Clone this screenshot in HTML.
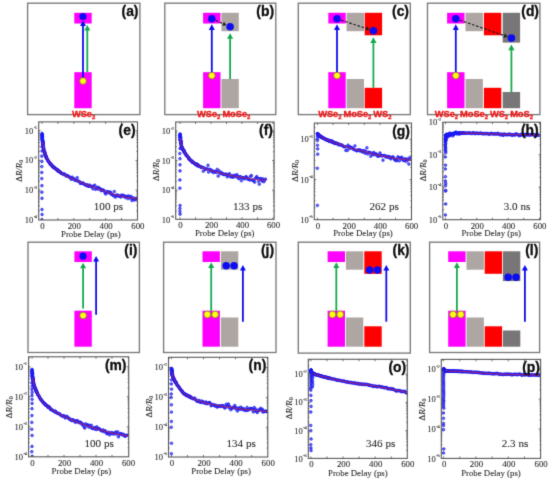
<!DOCTYPE html>
<html><head><meta charset="utf-8"><title>Transient reflection figure</title>
<style>html,body{margin:0;padding:0;background:#fff;}body{width:550px;height:481px;overflow:hidden;}svg{display:block;}</style>
</head><body>
<svg width="550" height="481" viewBox="0 0 550 481">
<defs><filter id="soft" x="0" y="0" width="550" height="481" filterUnits="userSpaceOnUse" color-interpolation-filters="sRGB"><feConvolveMatrix order="3" kernelMatrix="0.01440 0.09120 0.01440 0.09120 0.57760 0.09120 0.01440 0.09120 0.01440" edgeMode="duplicate"/></filter></defs>
<g filter="url(#soft)">
<rect width="550" height="481" fill="#fff"/>
<rect x="27.60" y="3.20" width="112.30" height="111.40" fill="#fff" stroke="#7a7a7a" stroke-width="1.35"/>
<rect x="74.30" y="12.80" width="17.4" height="10.70" fill="#ff00ff"/>
<rect x="74.30" y="72.20" width="17.4" height="36.00" fill="#ff00ff"/>
<line x1="83.00" y1="80.00" x2="83.00" y2="25.40" stroke="#0c0cf2" stroke-width="1.8"/>
<polygon points="80.00,26.00 86.00,26.00 83.00,20.40" fill="#0c0cf2"/>
<line x1="87.30" y1="72.20" x2="87.30" y2="30.00" stroke="#14aa4c" stroke-width="1.8"/>
<polygon points="84.30,30.60 90.30,30.60 87.30,25.00" fill="#14aa4c"/>
<circle cx="83.00" cy="16.50" r="3.6" fill="#0c0cf2"/>
<circle cx="83.00" cy="81.00" r="3.35" fill="#ffff10" stroke="#7a7a2a" stroke-width="0.75"/>
<text x="138.50" y="16.00" text-anchor="end" font-family="'Liberation Sans', Arial, sans-serif" font-weight="bold" font-size="13.9px" fill="#0c0c0c" stroke="#0c0c0c" stroke-width="0.3">(a)</text>
<text class="lab" x="83.50" y="117.10" text-anchor="middle" font-family="'Liberation Sans', Arial, sans-serif" font-weight="bold" font-size="9.4px" fill="#f01414" stroke="#f01414" stroke-width="0.3" letter-spacing="-0.1" word-spacing="-0.4">WSe<tspan dy="1.7" font-size="5.9px">2</tspan></text>
<rect x="164.80" y="3.20" width="111.00" height="111.40" fill="#fff" stroke="#7a7a7a" stroke-width="1.35"/>
<rect x="203.10" y="12.80" width="17.4" height="10.70" fill="#ff00ff"/>
<rect x="203.10" y="72.20" width="17.4" height="36.00" fill="#ff00ff"/>
<rect x="221.40" y="12.80" width="17.4" height="18.40" fill="#aea6a3"/>
<rect x="221.40" y="79.00" width="17.4" height="29.20" fill="#aea6a3"/>
<line x1="211.80" y1="74.00" x2="211.80" y2="29.30" stroke="#0c0cf2" stroke-width="1.8"/>
<polygon points="208.80,29.90 214.80,29.90 211.80,24.30" fill="#0c0cf2"/>
<line x1="230.10" y1="79.00" x2="230.10" y2="38.20" stroke="#14aa4c" stroke-width="1.8"/>
<polygon points="227.00,38.80 233.20,38.80 230.10,33.20" fill="#14aa4c"/>
<circle cx="211.80" cy="18.80" r="3.8" fill="#0c0cf2"/>
<line x1="215.75" y1="20.50" x2="223.03" y2="23.65" stroke="#1e1e1e" stroke-width="1.15" stroke-dasharray="2.6,1.7"/>
<polygon points="222.16,25.67 223.90,21.63 226.52,25.15" fill="#1e1e1e"/>
<circle cx="230.10" cy="26.70" r="3.8" fill="#0c0cf2"/>
<circle cx="211.80" cy="75.60" r="3.35" fill="#ffff10" stroke="#7a7a2a" stroke-width="0.75"/>
<text x="274.10" y="16.00" text-anchor="end" font-family="'Liberation Sans', Arial, sans-serif" font-weight="bold" font-size="13.9px" fill="#0c0c0c" stroke="#0c0c0c" stroke-width="0.3">(b)</text>
<text class="lab" x="223.65" y="117.10" text-anchor="middle" font-family="'Liberation Sans', Arial, sans-serif" font-weight="bold" font-size="9.4px" fill="#f01414" stroke="#f01414" stroke-width="0.3" letter-spacing="-0.1" word-spacing="-0.4">WSe<tspan dy="1.7" font-size="5.9px">2</tspan><tspan dy="-1.7"> MoSe</tspan><tspan dy="1.7" font-size="5.9px">2</tspan></text>
<rect x="298.30" y="3.20" width="112.00" height="111.40" fill="#fff" stroke="#7a7a7a" stroke-width="1.35"/>
<rect x="328.30" y="12.80" width="17.4" height="10.70" fill="#ff00ff"/>
<rect x="328.30" y="72.20" width="17.4" height="36.00" fill="#ff00ff"/>
<rect x="346.60" y="12.80" width="17.4" height="18.40" fill="#aea6a3"/>
<rect x="346.60" y="79.00" width="17.4" height="29.20" fill="#aea6a3"/>
<rect x="364.70" y="12.80" width="17.4" height="22.50" fill="#ff0000"/>
<rect x="364.70" y="87.80" width="17.4" height="20.40" fill="#ff0000"/>
<line x1="337.00" y1="74.00" x2="337.00" y2="29.30" stroke="#0c0cf2" stroke-width="1.8"/>
<polygon points="334.00,29.90 340.00,29.90 337.00,24.30" fill="#0c0cf2"/>
<line x1="373.40" y1="87.80" x2="373.40" y2="42.30" stroke="#14aa4c" stroke-width="1.8"/>
<polygon points="370.30,42.90 376.50,42.90 373.40,37.30" fill="#14aa4c"/>
<circle cx="337.00" cy="18.80" r="3.8" fill="#0c0cf2"/>
<line x1="341.08" y1="20.15" x2="366.09" y2="28.39" stroke="#1e1e1e" stroke-width="1.15" stroke-dasharray="2.6,1.7"/>
<polygon points="365.40,30.48 366.78,26.30 369.70,29.58" fill="#1e1e1e"/>
<circle cx="373.40" cy="30.80" r="3.8" fill="#0c0cf2"/>
<circle cx="337.00" cy="75.60" r="3.35" fill="#ffff10" stroke="#7a7a2a" stroke-width="0.75"/>
<text x="409.00" y="16.00" text-anchor="end" font-family="'Liberation Sans', Arial, sans-serif" font-weight="bold" font-size="13.9px" fill="#0c0c0c" stroke="#0c0c0c" stroke-width="0.3">(c)</text>
<text class="lab" x="354.80" y="117.10" text-anchor="middle" font-family="'Liberation Sans', Arial, sans-serif" font-weight="bold" font-size="9.4px" fill="#f01414" stroke="#f01414" stroke-width="0.3" letter-spacing="-0.1" word-spacing="-0.4">WSe<tspan dy="1.7" font-size="5.9px">2</tspan><tspan dy="-1.7"> MoSe</tspan><tspan dy="1.7" font-size="5.9px">2</tspan><tspan dy="-1.7"> WS</tspan><tspan dy="1.7" font-size="5.9px">2</tspan></text>
<rect x="427.50" y="3.20" width="112.40" height="111.40" fill="#fff" stroke="#7a7a7a" stroke-width="1.35"/>
<rect x="447.10" y="12.80" width="17.4" height="10.70" fill="#ff00ff"/>
<rect x="447.10" y="72.20" width="17.4" height="36.00" fill="#ff00ff"/>
<rect x="465.50" y="12.80" width="17.4" height="18.40" fill="#aea6a3"/>
<rect x="465.50" y="79.00" width="17.4" height="29.20" fill="#aea6a3"/>
<rect x="483.90" y="12.80" width="17.4" height="22.50" fill="#ff0000"/>
<rect x="483.90" y="87.80" width="17.4" height="20.40" fill="#ff0000"/>
<rect x="502.70" y="12.80" width="17.4" height="29.80" fill="#787676"/>
<rect x="502.70" y="92.00" width="17.4" height="16.20" fill="#787676"/>
<line x1="455.80" y1="74.00" x2="455.80" y2="29.30" stroke="#0c0cf2" stroke-width="1.8"/>
<polygon points="452.80,29.90 458.80,29.90 455.80,24.30" fill="#0c0cf2"/>
<line x1="511.40" y1="92.00" x2="511.40" y2="49.60" stroke="#14aa4c" stroke-width="1.8"/>
<polygon points="508.30,50.20 514.50,50.20 511.40,44.60" fill="#14aa4c"/>
<circle cx="455.80" cy="18.80" r="3.8" fill="#0c0cf2"/>
<line x1="459.86" y1="20.21" x2="504.13" y2="35.57" stroke="#1e1e1e" stroke-width="1.15" stroke-dasharray="2.6,1.7"/>
<polygon points="503.40,37.65 504.85,33.50 507.72,36.82" fill="#1e1e1e"/>
<circle cx="511.40" cy="38.10" r="3.8" fill="#0c0cf2"/>
<circle cx="455.80" cy="75.60" r="3.35" fill="#ffff10" stroke="#7a7a2a" stroke-width="0.75"/>
<text x="539.00" y="16.00" text-anchor="end" font-family="'Liberation Sans', Arial, sans-serif" font-weight="bold" font-size="13.9px" fill="#0c0c0c" stroke="#0c0c0c" stroke-width="0.3">(d)</text>
<text class="lab" x="483.80" y="117.10" text-anchor="middle" font-family="'Liberation Sans', Arial, sans-serif" font-weight="bold" font-size="9.4px" fill="#f01414" stroke="#f01414" stroke-width="0.3" letter-spacing="-0.1" word-spacing="-0.4">WSe<tspan dy="1.7" font-size="5.9px">2</tspan><tspan dy="-1.7"> MoSe</tspan><tspan dy="1.7" font-size="5.9px">2</tspan><tspan dy="-1.7"> WS</tspan><tspan dy="1.7" font-size="5.9px">2</tspan><tspan dy="-1.7"> MoS</tspan><tspan dy="1.7" font-size="5.9px">2</tspan></text>
<rect x="28.00" y="242.20" width="111.40" height="110.30" fill="#fff" stroke="#7a7a7a" stroke-width="1.35"/>
<rect x="74.40" y="251.30" width="17.4" height="10.70" fill="#ff00ff"/>
<rect x="74.40" y="310.70" width="17.4" height="36.00" fill="#ff00ff"/>
<line x1="83.10" y1="308.50" x2="83.10" y2="267.70" stroke="#14aa4c" stroke-width="1.8"/>
<polygon points="80.10,268.30 86.10,268.30 83.10,262.70" fill="#14aa4c"/>
<line x1="96.10" y1="314.70" x2="96.10" y2="261.00" stroke="#0c0cf2" stroke-width="1.8"/>
<polygon points="93.10,261.60 99.10,261.60 96.10,256.00" fill="#0c0cf2"/>
<circle cx="83.10" cy="256.20" r="3.6" fill="#0c0cf2"/>
<circle cx="83.10" cy="315.50" r="3.35" fill="#ffff10" stroke="#7a7a2a" stroke-width="0.75"/>
<text x="137.40" y="255.00" text-anchor="end" font-family="'Liberation Sans', Arial, sans-serif" font-weight="bold" font-size="13.9px" fill="#0c0c0c" stroke="#0c0c0c" stroke-width="0.3">(i)</text>
<rect x="163.60" y="242.20" width="112.40" height="110.30" fill="#fff" stroke="#7a7a7a" stroke-width="1.35"/>
<rect x="202.50" y="251.30" width="17.4" height="10.70" fill="#ff00ff"/>
<rect x="202.50" y="310.70" width="17.4" height="36.00" fill="#ff00ff"/>
<rect x="220.90" y="251.30" width="17.4" height="18.40" fill="#aea6a3"/>
<rect x="220.90" y="317.50" width="17.4" height="29.20" fill="#aea6a3"/>
<line x1="211.20" y1="310.90" x2="211.20" y2="267.30" stroke="#14aa4c" stroke-width="1.8"/>
<polygon points="208.20,267.90 214.20,267.90 211.20,262.30" fill="#14aa4c"/>
<line x1="242.90" y1="321.70" x2="242.90" y2="269.90" stroke="#0c0cf2" stroke-width="1.8"/>
<polygon points="239.90,270.50 245.90,270.50 242.90,264.90" fill="#0c0cf2"/>
<circle cx="226.15" cy="265.80" r="3.75" fill="#0c0cf2"/>
<circle cx="234.05" cy="265.80" r="3.75" fill="#0c0cf2"/>
<circle cx="207.30" cy="314.50" r="3.40" fill="#ffff10" stroke="#7a7a2a" stroke-width="0.75"/>
<circle cx="215.10" cy="314.50" r="3.40" fill="#ffff10" stroke="#7a7a2a" stroke-width="0.75"/>
<text x="274.10" y="255.00" text-anchor="end" font-family="'Liberation Sans', Arial, sans-serif" font-weight="bold" font-size="13.9px" fill="#0c0c0c" stroke="#0c0c0c" stroke-width="0.3">(j)</text>
<rect x="298.30" y="242.20" width="112.00" height="110.90" fill="#fff" stroke="#7a7a7a" stroke-width="1.35"/>
<rect x="327.60" y="251.30" width="17.4" height="10.70" fill="#ff00ff"/>
<rect x="327.60" y="310.70" width="17.4" height="36.00" fill="#ff00ff"/>
<rect x="345.90" y="251.30" width="17.4" height="18.40" fill="#aea6a3"/>
<rect x="345.90" y="317.50" width="17.4" height="29.20" fill="#aea6a3"/>
<rect x="364.30" y="251.30" width="17.4" height="22.50" fill="#ff0000"/>
<rect x="364.30" y="326.30" width="17.4" height="20.40" fill="#ff0000"/>
<line x1="336.30" y1="310.90" x2="336.30" y2="267.30" stroke="#14aa4c" stroke-width="1.8"/>
<polygon points="333.30,267.90 339.30,267.90 336.30,262.30" fill="#14aa4c"/>
<line x1="386.30" y1="321.70" x2="386.30" y2="269.90" stroke="#0c0cf2" stroke-width="1.8"/>
<polygon points="383.30,270.50 389.30,270.50 386.30,264.90" fill="#0c0cf2"/>
<circle cx="369.55" cy="269.90" r="3.75" fill="#0c0cf2"/>
<circle cx="377.45" cy="269.90" r="3.75" fill="#0c0cf2"/>
<circle cx="332.40" cy="314.50" r="3.40" fill="#ffff10" stroke="#7a7a2a" stroke-width="0.75"/>
<circle cx="340.20" cy="314.50" r="3.40" fill="#ffff10" stroke="#7a7a2a" stroke-width="0.75"/>
<text x="409.50" y="255.00" text-anchor="end" font-family="'Liberation Sans', Arial, sans-serif" font-weight="bold" font-size="13.9px" fill="#0c0c0c" stroke="#0c0c0c" stroke-width="0.3">(k)</text>
<rect x="429.60" y="242.20" width="110.00" height="110.30" fill="#fff" stroke="#7a7a7a" stroke-width="1.35"/>
<rect x="448.20" y="251.30" width="17.4" height="10.70" fill="#ff00ff"/>
<rect x="448.20" y="310.70" width="17.4" height="36.00" fill="#ff00ff"/>
<rect x="466.50" y="251.30" width="17.4" height="18.40" fill="#aea6a3"/>
<rect x="466.50" y="317.50" width="17.4" height="29.20" fill="#aea6a3"/>
<rect x="484.70" y="251.30" width="17.4" height="22.50" fill="#ff0000"/>
<rect x="484.70" y="326.30" width="17.4" height="20.40" fill="#ff0000"/>
<rect x="502.90" y="251.30" width="17.4" height="29.80" fill="#787676"/>
<rect x="502.90" y="330.50" width="17.4" height="16.20" fill="#787676"/>
<line x1="456.90" y1="310.90" x2="456.90" y2="267.30" stroke="#14aa4c" stroke-width="1.8"/>
<polygon points="453.90,267.90 459.90,267.90 456.90,262.30" fill="#14aa4c"/>
<line x1="524.90" y1="321.70" x2="524.90" y2="269.90" stroke="#0c0cf2" stroke-width="1.8"/>
<polygon points="521.90,270.50 527.90,270.50 524.90,264.90" fill="#0c0cf2"/>
<circle cx="508.15" cy="277.20" r="3.75" fill="#0c0cf2"/>
<circle cx="516.05" cy="277.20" r="3.75" fill="#0c0cf2"/>
<circle cx="453.00" cy="314.50" r="3.40" fill="#ffff10" stroke="#7a7a2a" stroke-width="0.75"/>
<circle cx="460.80" cy="314.50" r="3.40" fill="#ffff10" stroke="#7a7a2a" stroke-width="0.75"/>
<text x="538.30" y="255.00" text-anchor="end" font-family="'Liberation Sans', Arial, sans-serif" font-weight="bold" font-size="13.9px" fill="#0c0c0c" stroke="#0c0c0c" stroke-width="0.3">(l)</text>
<rect x="38.70" y="121.90" width="98.80" height="98.10" fill="#fff"/>
<clipPath id="clipe"><rect x="39.10" y="121.90" width="98.40" height="97.80"/></clipPath>
<g clip-path="url(#clipe)" fill="#6a6ae6"><circle cx="42.0" cy="146.8" r="1.15"/><circle cx="42.1" cy="151.0" r="1.15"/><circle cx="41.8" cy="156.2" r="1.15"/><circle cx="41.9" cy="161.4" r="1.15"/><circle cx="41.8" cy="166.6" r="1.15"/><circle cx="41.8" cy="172.5" r="1.15"/><circle cx="41.8" cy="178.6" r="1.15"/><circle cx="41.9" cy="185.7" r="1.15"/><circle cx="41.9" cy="192.2" r="1.15"/><circle cx="42.0" cy="198.3" r="1.15"/><circle cx="42.0" cy="209.5" r="1.15"/><circle cx="42.1" cy="214.5" r="1.15"/><circle cx="41.9" cy="219.7" r="1.15"/><circle cx="42.1" cy="133.4" r="1.15"/><circle cx="41.9" cy="134.2" r="1.15"/><circle cx="42.3" cy="134.5" r="1.15"/><circle cx="42.1" cy="134.8" r="1.15"/><circle cx="42.3" cy="135.4" r="1.15"/><circle cx="42.0" cy="135.8" r="1.15"/><circle cx="42.2" cy="136.2" r="1.15"/><circle cx="42.3" cy="136.5" r="1.15"/><circle cx="42.4" cy="137.1" r="1.15"/><circle cx="42.1" cy="137.2" r="1.15"/><circle cx="42.4" cy="137.6" r="1.15"/><circle cx="42.2" cy="138.2" r="1.15"/><circle cx="42.3" cy="138.5" r="1.15"/><circle cx="42.3" cy="138.8" r="1.15"/><circle cx="42.3" cy="139.0" r="1.15"/><circle cx="42.4" cy="139.6" r="1.15"/><circle cx="42.3" cy="139.8" r="1.15"/><circle cx="42.5" cy="140.1" r="1.15"/><circle cx="42.5" cy="140.4" r="1.15"/><circle cx="42.6" cy="140.8" r="1.15"/><circle cx="42.6" cy="141.0" r="1.15"/><circle cx="42.6" cy="141.3" r="1.15"/><circle cx="42.6" cy="141.7" r="1.15"/><circle cx="42.8" cy="141.8" r="1.15"/><circle cx="42.5" cy="142.0" r="1.15"/><circle cx="42.8" cy="142.4" r="1.15"/><circle cx="42.8" cy="142.6" r="1.15"/><circle cx="42.9" cy="142.6" r="1.15"/><circle cx="42.7" cy="143.1" r="1.15"/><circle cx="42.7" cy="143.2" r="1.15"/><circle cx="43.0" cy="143.3" r="1.15"/><circle cx="42.9" cy="143.6" r="1.15"/><circle cx="43.0" cy="143.6" r="1.15"/><circle cx="42.8" cy="143.9" r="1.15"/><circle cx="42.8" cy="143.8" r="1.15"/><circle cx="43.1" cy="144.4" r="1.15"/><circle cx="42.9" cy="144.2" r="1.15"/><circle cx="43.1" cy="144.7" r="1.15"/><circle cx="43.0" cy="144.9" r="1.15"/><circle cx="42.9" cy="145.8" r="1.15"/><circle cx="43.5" cy="146.8" r="1.15"/><circle cx="43.3" cy="147.6" r="1.15"/><circle cx="43.6" cy="148.3" r="1.15"/><circle cx="43.8" cy="149.1" r="1.15"/><circle cx="43.7" cy="149.7" r="1.15"/><circle cx="43.8" cy="150.4" r="1.15"/><circle cx="44.1" cy="150.9" r="1.15"/><circle cx="44.3" cy="151.3" r="1.15"/><circle cx="44.6" cy="152.0" r="1.15"/><circle cx="44.6" cy="152.1" r="1.15"/><circle cx="44.6" cy="152.9" r="1.15"/><circle cx="45.0" cy="153.2" r="1.15"/><circle cx="44.8" cy="153.8" r="1.15"/><circle cx="44.9" cy="154.4" r="1.15"/><circle cx="45.3" cy="154.5" r="1.15"/><circle cx="45.4" cy="154.9" r="1.15"/><circle cx="45.4" cy="155.4" r="1.15"/><circle cx="45.6" cy="155.8" r="1.15"/><circle cx="45.9" cy="156.0" r="1.15"/><circle cx="46.2" cy="156.6" r="1.15"/><circle cx="46.1" cy="156.7" r="1.15"/><circle cx="46.3" cy="157.2" r="1.15"/><circle cx="46.2" cy="157.4" r="1.15"/><circle cx="46.4" cy="157.8" r="1.15"/><circle cx="46.7" cy="158.5" r="1.15"/><circle cx="46.8" cy="158.3" r="1.15"/><circle cx="47.1" cy="159.0" r="1.15"/><circle cx="47.6" cy="159.7" r="1.15"/><circle cx="47.8" cy="160.4" r="1.15"/><circle cx="48.1" cy="161.1" r="1.15"/><circle cx="48.5" cy="161.7" r="1.15"/><circle cx="49.0" cy="161.6" r="1.15"/><circle cx="49.4" cy="162.4" r="1.15"/><circle cx="49.5" cy="162.9" r="1.15"/><circle cx="50.2" cy="163.4" r="1.15"/><circle cx="50.2" cy="164.3" r="1.15"/><circle cx="50.8" cy="164.2" r="1.15"/><circle cx="51.2" cy="164.6" r="1.15"/><circle cx="51.6" cy="165.2" r="1.15"/><circle cx="51.9" cy="165.0" r="1.15"/><circle cx="52.1" cy="166.0" r="1.15"/><circle cx="52.4" cy="166.1" r="1.15"/><circle cx="52.8" cy="167.1" r="1.15"/><circle cx="53.3" cy="166.7" r="1.15"/><circle cx="53.7" cy="167.1" r="1.15"/><circle cx="53.7" cy="167.6" r="1.15"/><circle cx="54.4" cy="167.6" r="1.15"/><circle cx="54.7" cy="168.0" r="1.15"/><circle cx="55.0" cy="168.1" r="1.15"/><circle cx="55.2" cy="168.5" r="1.15"/><circle cx="55.7" cy="168.9" r="1.15"/><circle cx="56.1" cy="169.3" r="1.15"/><circle cx="56.3" cy="169.3" r="1.15"/><circle cx="56.7" cy="169.9" r="1.15"/><circle cx="57.0" cy="169.8" r="1.15"/><circle cx="57.1" cy="169.5" r="1.15"/><circle cx="57.8" cy="169.8" r="1.15"/><circle cx="58.0" cy="171.2" r="1.15"/><circle cx="58.3" cy="170.9" r="1.15"/><circle cx="58.8" cy="171.4" r="1.15"/><circle cx="59.0" cy="171.1" r="1.15"/><circle cx="59.5" cy="171.6" r="1.15"/><circle cx="60.0" cy="171.7" r="1.15"/><circle cx="60.2" cy="172.1" r="1.15"/><circle cx="60.5" cy="172.3" r="1.15"/><circle cx="60.7" cy="172.9" r="1.15"/><circle cx="61.3" cy="173.3" r="1.15"/><circle cx="62.1" cy="173.4" r="1.15"/><circle cx="62.7" cy="174.0" r="1.15"/><circle cx="63.6" cy="174.4" r="1.15"/><circle cx="64.3" cy="173.8" r="1.15"/><circle cx="65.1" cy="174.8" r="1.15"/><circle cx="66.1" cy="176.1" r="1.15"/><circle cx="66.6" cy="175.4" r="1.15"/><circle cx="67.7" cy="175.7" r="1.15"/><circle cx="68.4" cy="176.5" r="1.15"/><circle cx="69.1" cy="176.9" r="1.15"/><circle cx="69.9" cy="177.3" r="1.15"/><circle cx="70.7" cy="178.2" r="1.15"/><circle cx="71.4" cy="179.4" r="1.15"/><circle cx="72.2" cy="177.2" r="1.15"/><circle cx="72.9" cy="178.8" r="1.15"/><circle cx="74.1" cy="178.9" r="1.15"/><circle cx="74.8" cy="180.2" r="1.15"/><circle cx="75.5" cy="180.1" r="1.15"/><circle cx="76.3" cy="180.6" r="1.15"/><circle cx="77.2" cy="177.7" r="1.15"/><circle cx="77.9" cy="181.0" r="1.15"/><circle cx="78.7" cy="181.3" r="1.15"/><circle cx="79.5" cy="181.7" r="1.15"/><circle cx="80.4" cy="183.5" r="1.15"/><circle cx="81.1" cy="182.9" r="1.15"/><circle cx="81.9" cy="183.3" r="1.15"/><circle cx="82.8" cy="182.9" r="1.15"/><circle cx="83.5" cy="183.7" r="1.15"/><circle cx="84.3" cy="184.0" r="1.15"/><circle cx="84.9" cy="184.7" r="1.15"/><circle cx="85.8" cy="185.1" r="1.15"/><circle cx="86.8" cy="184.6" r="1.15"/><circle cx="87.3" cy="186.1" r="1.15"/><circle cx="88.3" cy="185.4" r="1.15"/><circle cx="89.0" cy="186.4" r="1.15"/><circle cx="89.6" cy="185.1" r="1.15"/><circle cx="90.7" cy="186.3" r="1.15"/><circle cx="91.5" cy="186.5" r="1.15"/><circle cx="92.1" cy="186.6" r="1.15"/><circle cx="92.9" cy="188.8" r="1.15"/><circle cx="93.7" cy="186.1" r="1.15"/><circle cx="94.7" cy="185.2" r="1.15"/><circle cx="95.4" cy="189.3" r="1.15"/><circle cx="96.3" cy="188.2" r="1.15"/><circle cx="97.0" cy="187.3" r="1.15"/><circle cx="97.7" cy="189.1" r="1.15"/><circle cx="98.5" cy="187.5" r="1.15"/><circle cx="99.5" cy="188.9" r="1.15"/><circle cx="100.2" cy="188.7" r="1.15"/><circle cx="101.1" cy="190.7" r="1.15"/><circle cx="101.6" cy="189.7" r="1.15"/><circle cx="102.3" cy="190.3" r="1.15"/><circle cx="103.3" cy="190.0" r="1.15"/><circle cx="104.1" cy="190.7" r="1.15"/><circle cx="105.0" cy="192.9" r="1.15"/><circle cx="105.8" cy="194.0" r="1.15"/><circle cx="106.5" cy="191.6" r="1.15"/><circle cx="107.4" cy="191.8" r="1.15"/><circle cx="108.2" cy="191.8" r="1.15"/><circle cx="109.0" cy="192.9" r="1.15"/><circle cx="109.8" cy="192.2" r="1.15"/><circle cx="110.5" cy="192.2" r="1.15"/><circle cx="111.3" cy="194.4" r="1.15"/><circle cx="112.0" cy="194.1" r="1.15"/><circle cx="113.0" cy="195.0" r="1.15"/><circle cx="113.8" cy="195.9" r="1.15"/><circle cx="114.3" cy="191.5" r="1.15"/><circle cx="115.4" cy="197.2" r="1.15"/><circle cx="116.0" cy="195.2" r="1.15"/><circle cx="116.8" cy="195.7" r="1.15"/><circle cx="117.5" cy="194.9" r="1.15"/><circle cx="118.3" cy="195.9" r="1.15"/><circle cx="119.0" cy="196.1" r="1.15"/><circle cx="120.1" cy="196.1" r="1.15"/><circle cx="120.8" cy="197.1" r="1.15"/><circle cx="121.4" cy="195.1" r="1.15"/><circle cx="122.3" cy="195.9" r="1.15"/><circle cx="123.2" cy="195.2" r="1.15"/><circle cx="123.9" cy="196.5" r="1.15"/><circle cx="124.9" cy="196.2" r="1.15"/><circle cx="125.6" cy="197.6" r="1.15"/><circle cx="126.4" cy="196.7" r="1.15"/><circle cx="127.0" cy="196.4" r="1.15"/><circle cx="127.9" cy="198.6" r="1.15"/><circle cx="128.6" cy="195.9" r="1.15"/><circle cx="129.7" cy="197.2" r="1.15"/><circle cx="130.2" cy="198.1" r="1.15"/><circle cx="131.1" cy="196.5" r="1.15"/><circle cx="131.9" cy="200.5" r="1.15"/><circle cx="132.6" cy="198.6" r="1.15"/><circle cx="133.5" cy="197.9" r="1.15"/><circle cx="134.1" cy="199.9" r="1.15"/><circle cx="135.2" cy="199.6" r="1.15"/><circle cx="136.0" cy="198.4" r="1.15"/><circle cx="136.7" cy="199.2" r="1.15"/></g><g clip-path="url(#clipe)" fill="none" stroke="#1a1af8" stroke-width="0.8"><circle cx="42.0" cy="146.8" r="1.28"/><circle cx="42.1" cy="151.0" r="1.28"/><circle cx="41.8" cy="156.2" r="1.28"/><circle cx="41.9" cy="161.4" r="1.28"/><circle cx="41.8" cy="166.6" r="1.28"/><circle cx="41.8" cy="172.5" r="1.28"/><circle cx="41.8" cy="178.6" r="1.28"/><circle cx="41.9" cy="185.7" r="1.28"/><circle cx="41.9" cy="192.2" r="1.28"/><circle cx="42.0" cy="198.3" r="1.28"/><circle cx="42.0" cy="209.5" r="1.28"/><circle cx="42.1" cy="214.5" r="1.28"/><circle cx="41.9" cy="219.7" r="1.28"/><circle cx="42.1" cy="133.4" r="1.28"/><circle cx="41.9" cy="134.2" r="1.28"/><circle cx="42.3" cy="134.5" r="1.28"/><circle cx="42.1" cy="134.8" r="1.28"/><circle cx="42.3" cy="135.4" r="1.28"/><circle cx="42.0" cy="135.8" r="1.28"/><circle cx="42.2" cy="136.2" r="1.28"/><circle cx="42.3" cy="136.5" r="1.28"/><circle cx="42.4" cy="137.1" r="1.28"/><circle cx="42.1" cy="137.2" r="1.28"/><circle cx="42.4" cy="137.6" r="1.28"/><circle cx="42.2" cy="138.2" r="1.28"/><circle cx="42.3" cy="138.5" r="1.28"/><circle cx="42.3" cy="138.8" r="1.28"/><circle cx="42.3" cy="139.0" r="1.28"/><circle cx="42.4" cy="139.6" r="1.28"/><circle cx="42.3" cy="139.8" r="1.28"/><circle cx="42.5" cy="140.1" r="1.28"/><circle cx="42.5" cy="140.4" r="1.28"/><circle cx="42.6" cy="140.8" r="1.28"/><circle cx="42.6" cy="141.0" r="1.28"/><circle cx="42.6" cy="141.3" r="1.28"/><circle cx="42.6" cy="141.7" r="1.28"/><circle cx="42.8" cy="141.8" r="1.28"/><circle cx="42.5" cy="142.0" r="1.28"/><circle cx="42.8" cy="142.4" r="1.28"/><circle cx="42.8" cy="142.6" r="1.28"/><circle cx="42.9" cy="142.6" r="1.28"/><circle cx="42.7" cy="143.1" r="1.28"/><circle cx="42.7" cy="143.2" r="1.28"/><circle cx="43.0" cy="143.3" r="1.28"/><circle cx="42.9" cy="143.6" r="1.28"/><circle cx="43.0" cy="143.6" r="1.28"/><circle cx="42.8" cy="143.9" r="1.28"/><circle cx="42.8" cy="143.8" r="1.28"/><circle cx="43.1" cy="144.4" r="1.28"/><circle cx="42.9" cy="144.2" r="1.28"/><circle cx="43.1" cy="144.7" r="1.28"/><circle cx="43.0" cy="144.9" r="1.28"/><circle cx="42.9" cy="145.8" r="1.28"/><circle cx="43.5" cy="146.8" r="1.28"/><circle cx="43.3" cy="147.6" r="1.28"/><circle cx="43.6" cy="148.3" r="1.28"/><circle cx="43.8" cy="149.1" r="1.28"/><circle cx="43.7" cy="149.7" r="1.28"/><circle cx="43.8" cy="150.4" r="1.28"/><circle cx="44.1" cy="150.9" r="1.28"/><circle cx="44.3" cy="151.3" r="1.28"/><circle cx="44.6" cy="152.0" r="1.28"/><circle cx="44.6" cy="152.1" r="1.28"/><circle cx="44.6" cy="152.9" r="1.28"/><circle cx="45.0" cy="153.2" r="1.28"/><circle cx="44.8" cy="153.8" r="1.28"/><circle cx="44.9" cy="154.4" r="1.28"/><circle cx="45.3" cy="154.5" r="1.28"/><circle cx="45.4" cy="154.9" r="1.28"/><circle cx="45.4" cy="155.4" r="1.28"/><circle cx="45.6" cy="155.8" r="1.28"/><circle cx="45.9" cy="156.0" r="1.28"/><circle cx="46.2" cy="156.6" r="1.28"/><circle cx="46.1" cy="156.7" r="1.28"/><circle cx="46.3" cy="157.2" r="1.28"/><circle cx="46.2" cy="157.4" r="1.28"/><circle cx="46.4" cy="157.8" r="1.28"/><circle cx="46.7" cy="158.5" r="1.28"/><circle cx="46.8" cy="158.3" r="1.28"/><circle cx="47.1" cy="159.0" r="1.28"/><circle cx="47.6" cy="159.7" r="1.28"/><circle cx="47.8" cy="160.4" r="1.28"/><circle cx="48.1" cy="161.1" r="1.28"/><circle cx="48.5" cy="161.7" r="1.28"/><circle cx="49.0" cy="161.6" r="1.28"/><circle cx="49.4" cy="162.4" r="1.28"/><circle cx="49.5" cy="162.9" r="1.28"/><circle cx="50.2" cy="163.4" r="1.28"/><circle cx="50.2" cy="164.3" r="1.28"/><circle cx="50.8" cy="164.2" r="1.28"/><circle cx="51.2" cy="164.6" r="1.28"/><circle cx="51.6" cy="165.2" r="1.28"/><circle cx="51.9" cy="165.0" r="1.28"/><circle cx="52.1" cy="166.0" r="1.28"/><circle cx="52.4" cy="166.1" r="1.28"/><circle cx="52.8" cy="167.1" r="1.28"/><circle cx="53.3" cy="166.7" r="1.28"/><circle cx="53.7" cy="167.1" r="1.28"/><circle cx="53.7" cy="167.6" r="1.28"/><circle cx="54.4" cy="167.6" r="1.28"/><circle cx="54.7" cy="168.0" r="1.28"/><circle cx="55.0" cy="168.1" r="1.28"/><circle cx="55.2" cy="168.5" r="1.28"/><circle cx="55.7" cy="168.9" r="1.28"/><circle cx="56.1" cy="169.3" r="1.28"/><circle cx="56.3" cy="169.3" r="1.28"/><circle cx="56.7" cy="169.9" r="1.28"/><circle cx="57.0" cy="169.8" r="1.28"/><circle cx="57.1" cy="169.5" r="1.28"/><circle cx="57.8" cy="169.8" r="1.28"/><circle cx="58.0" cy="171.2" r="1.28"/><circle cx="58.3" cy="170.9" r="1.28"/><circle cx="58.8" cy="171.4" r="1.28"/><circle cx="59.0" cy="171.1" r="1.28"/><circle cx="59.5" cy="171.6" r="1.28"/><circle cx="60.0" cy="171.7" r="1.28"/><circle cx="60.2" cy="172.1" r="1.28"/><circle cx="60.5" cy="172.3" r="1.28"/><circle cx="60.7" cy="172.9" r="1.28"/><circle cx="61.3" cy="173.3" r="1.28"/><circle cx="62.1" cy="173.4" r="1.28"/><circle cx="62.7" cy="174.0" r="1.28"/><circle cx="63.6" cy="174.4" r="1.28"/><circle cx="64.3" cy="173.8" r="1.28"/><circle cx="65.1" cy="174.8" r="1.28"/><circle cx="66.1" cy="176.1" r="1.28"/><circle cx="66.6" cy="175.4" r="1.28"/><circle cx="67.7" cy="175.7" r="1.28"/><circle cx="68.4" cy="176.5" r="1.28"/><circle cx="69.1" cy="176.9" r="1.28"/><circle cx="69.9" cy="177.3" r="1.28"/><circle cx="70.7" cy="178.2" r="1.28"/><circle cx="71.4" cy="179.4" r="1.28"/><circle cx="72.2" cy="177.2" r="1.28"/><circle cx="72.9" cy="178.8" r="1.28"/><circle cx="74.1" cy="178.9" r="1.28"/><circle cx="74.8" cy="180.2" r="1.28"/><circle cx="75.5" cy="180.1" r="1.28"/><circle cx="76.3" cy="180.6" r="1.28"/><circle cx="77.2" cy="177.7" r="1.28"/><circle cx="77.9" cy="181.0" r="1.28"/><circle cx="78.7" cy="181.3" r="1.28"/><circle cx="79.5" cy="181.7" r="1.28"/><circle cx="80.4" cy="183.5" r="1.28"/><circle cx="81.1" cy="182.9" r="1.28"/><circle cx="81.9" cy="183.3" r="1.28"/><circle cx="82.8" cy="182.9" r="1.28"/><circle cx="83.5" cy="183.7" r="1.28"/><circle cx="84.3" cy="184.0" r="1.28"/><circle cx="84.9" cy="184.7" r="1.28"/><circle cx="85.8" cy="185.1" r="1.28"/><circle cx="86.8" cy="184.6" r="1.28"/><circle cx="87.3" cy="186.1" r="1.28"/><circle cx="88.3" cy="185.4" r="1.28"/><circle cx="89.0" cy="186.4" r="1.28"/><circle cx="89.6" cy="185.1" r="1.28"/><circle cx="90.7" cy="186.3" r="1.28"/><circle cx="91.5" cy="186.5" r="1.28"/><circle cx="92.1" cy="186.6" r="1.28"/><circle cx="92.9" cy="188.8" r="1.28"/><circle cx="93.7" cy="186.1" r="1.28"/><circle cx="94.7" cy="185.2" r="1.28"/><circle cx="95.4" cy="189.3" r="1.28"/><circle cx="96.3" cy="188.2" r="1.28"/><circle cx="97.0" cy="187.3" r="1.28"/><circle cx="97.7" cy="189.1" r="1.28"/><circle cx="98.5" cy="187.5" r="1.28"/><circle cx="99.5" cy="188.9" r="1.28"/><circle cx="100.2" cy="188.7" r="1.28"/><circle cx="101.1" cy="190.7" r="1.28"/><circle cx="101.6" cy="189.7" r="1.28"/><circle cx="102.3" cy="190.3" r="1.28"/><circle cx="103.3" cy="190.0" r="1.28"/><circle cx="104.1" cy="190.7" r="1.28"/><circle cx="105.0" cy="192.9" r="1.28"/><circle cx="105.8" cy="194.0" r="1.28"/><circle cx="106.5" cy="191.6" r="1.28"/><circle cx="107.4" cy="191.8" r="1.28"/><circle cx="108.2" cy="191.8" r="1.28"/><circle cx="109.0" cy="192.9" r="1.28"/><circle cx="109.8" cy="192.2" r="1.28"/><circle cx="110.5" cy="192.2" r="1.28"/><circle cx="111.3" cy="194.4" r="1.28"/><circle cx="112.0" cy="194.1" r="1.28"/><circle cx="113.0" cy="195.0" r="1.28"/><circle cx="113.8" cy="195.9" r="1.28"/><circle cx="114.3" cy="191.5" r="1.28"/><circle cx="115.4" cy="197.2" r="1.28"/><circle cx="116.0" cy="195.2" r="1.28"/><circle cx="116.8" cy="195.7" r="1.28"/><circle cx="117.5" cy="194.9" r="1.28"/><circle cx="118.3" cy="195.9" r="1.28"/><circle cx="119.0" cy="196.1" r="1.28"/><circle cx="120.1" cy="196.1" r="1.28"/><circle cx="120.8" cy="197.1" r="1.28"/><circle cx="121.4" cy="195.1" r="1.28"/><circle cx="122.3" cy="195.9" r="1.28"/><circle cx="123.2" cy="195.2" r="1.28"/><circle cx="123.9" cy="196.5" r="1.28"/><circle cx="124.9" cy="196.2" r="1.28"/><circle cx="125.6" cy="197.6" r="1.28"/><circle cx="126.4" cy="196.7" r="1.28"/><circle cx="127.0" cy="196.4" r="1.28"/><circle cx="127.9" cy="198.6" r="1.28"/><circle cx="128.6" cy="195.9" r="1.28"/><circle cx="129.7" cy="197.2" r="1.28"/><circle cx="130.2" cy="198.1" r="1.28"/><circle cx="131.1" cy="196.5" r="1.28"/><circle cx="131.9" cy="200.5" r="1.28"/><circle cx="132.6" cy="198.6" r="1.28"/><circle cx="133.5" cy="197.9" r="1.28"/><circle cx="134.1" cy="199.9" r="1.28"/><circle cx="135.2" cy="199.6" r="1.28"/><circle cx="136.0" cy="198.4" r="1.28"/><circle cx="136.7" cy="199.2" r="1.28"/></g>
<polyline clip-path="url(#clipe)" points="42.64,142.04 42.76,143.10 42.88,144.10 43.00,145.02 43.13,145.88 43.25,146.67 43.37,147.41 43.49,148.09 43.61,148.72 43.74,149.31 43.86,149.85 43.98,150.34 44.10,150.81 44.23,151.26 44.35,151.69 44.47,152.12 44.59,152.53 44.72,152.93 44.84,153.32 44.96,153.70 45.08,154.07 45.20,154.42 45.33,154.77 45.45,155.11 45.57,155.44 45.69,155.76 45.82,156.07 45.94,156.37 46.06,156.67 46.18,156.95 46.31,157.23 46.43,157.50 46.55,157.77 46.67,158.02 46.79,158.27 46.92,158.52 47.04,158.76 47.16,158.99 47.28,159.22 47.41,159.44 47.56,159.73 48.32,160.98 49.07,162.12 49.83,163.15 50.58,164.10 51.34,164.97 52.09,165.77 52.85,166.51 53.60,167.22 54.36,167.89 55.11,168.51 55.87,169.08 56.62,169.62 57.38,170.13 58.13,170.63 58.89,171.14 59.64,171.65 60.40,172.15 61.15,172.65 61.91,173.15 62.66,173.64 63.42,174.12 64.17,174.59 64.93,175.05 65.68,175.50 66.44,175.94 67.19,176.36 67.95,176.77 68.70,177.15 69.46,177.53 70.21,177.89 70.97,178.24 71.72,178.58 72.48,178.91 73.23,179.23 73.99,179.55 74.74,179.86 75.50,180.17 76.25,180.48 77.01,180.79 77.76,181.10 78.52,181.41 79.27,181.73 80.03,182.04 80.78,182.36 81.54,182.68 82.29,182.99 83.05,183.31 83.80,183.62 84.56,183.93 85.31,184.23 86.07,184.53 86.82,184.83 87.58,185.13 88.33,185.42 89.09,185.70 89.84,185.98 90.60,186.25 91.35,186.52 92.11,186.79 92.86,187.05 93.61,187.31 94.37,187.56 95.12,187.82 95.88,188.08 96.63,188.33 97.39,188.59 98.14,188.85 98.90,189.11 99.65,189.38 100.41,189.65 101.16,189.92 101.92,190.19 102.67,190.47 103.43,190.75 104.18,191.02 104.94,191.29 105.69,191.56 106.45,191.83 107.20,192.09 107.96,192.35 108.71,192.60 109.47,192.84 110.22,193.08 110.98,193.32 111.73,193.56 112.49,193.79 113.24,194.02 114.00,194.25 114.75,194.47 115.51,194.69 116.26,194.90 117.02,195.11 117.77,195.31 118.53,195.50 119.28,195.69 120.04,195.87 120.79,196.05 121.55,196.22 122.30,196.38 123.06,196.54 123.81,196.70 124.57,196.86 125.32,197.01 126.08,197.15 126.83,197.30 127.59,197.45 128.34,197.59 129.10,197.73 129.85,197.87 130.61,198.02 131.36,198.15 132.12,198.29 132.87,198.43 133.63,198.56 134.38,198.69 135.14,198.82 135.89,198.95 136.65,199.07 137.40,199.20" fill="none" stroke="#ff2a1a" stroke-width="0.7"/>
<rect x="38.70" y="121.90" width="98.80" height="98.10" fill="none" stroke="#5a5a5a" stroke-width="1.1"/>
<path d="M42.00,220.00v-2M42.00,121.90v2M57.90,220.00v-2M57.90,121.90v2M73.80,220.00v-2M73.80,121.90v2M89.70,220.00v-2M89.70,121.90v2M105.60,220.00v-2M105.60,121.90v2M121.50,220.00v-2M121.50,121.90v2M38.70,210.86h1.1M137.50,210.86h-1.1M38.70,205.63h1.1M137.50,205.63h-1.1M38.70,201.92h1.1M137.50,201.92h-1.1M38.70,199.04h1.1M137.50,199.04h-1.1M38.70,196.69h1.1M137.50,196.69h-1.1M38.70,194.70h1.1M137.50,194.70h-1.1M38.70,192.98h1.1M137.50,192.98h-1.1M38.70,191.46h1.1M137.50,191.46h-1.1M38.70,190.10h2.0M137.50,190.10h-2.0M38.70,181.16h1.1M137.50,181.16h-1.1M38.70,175.93h1.1M137.50,175.93h-1.1M38.70,172.22h1.1M137.50,172.22h-1.1M38.70,169.34h1.1M137.50,169.34h-1.1M38.70,166.99h1.1M137.50,166.99h-1.1M38.70,165.00h1.1M137.50,165.00h-1.1M38.70,163.28h1.1M137.50,163.28h-1.1M38.70,161.76h1.1M137.50,161.76h-1.1M38.70,160.40h2.0M137.50,160.40h-2.0M38.70,151.46h1.1M137.50,151.46h-1.1M38.70,146.23h1.1M137.50,146.23h-1.1M38.70,142.52h1.1M137.50,142.52h-1.1M38.70,139.64h1.1M137.50,139.64h-1.1M38.70,137.29h1.1M137.50,137.29h-1.1M38.70,135.30h1.1M137.50,135.30h-1.1M38.70,133.58h1.1M137.50,133.58h-1.1M38.70,132.06h1.1M137.50,132.06h-1.1M38.70,130.70h2.0M137.50,130.70h-2.0" stroke="#444" stroke-width="0.7" fill="none"/>
<text x="42.50" y="228.80" text-anchor="middle" font-family="'Liberation Serif', 'Times New Roman', serif" fill="#2e2e2e" stroke="#2e2e2e" stroke-width="0.1" font-size="8.8px">0</text>
<text x="74.30" y="228.80" text-anchor="middle" font-family="'Liberation Serif', 'Times New Roman', serif" fill="#2e2e2e" stroke="#2e2e2e" stroke-width="0.1" font-size="8.8px">200</text>
<text x="106.10" y="228.80" text-anchor="middle" font-family="'Liberation Serif', 'Times New Roman', serif" fill="#2e2e2e" stroke="#2e2e2e" stroke-width="0.1" font-size="8.8px">400</text>
<text x="137.90" y="228.80" text-anchor="middle" font-family="'Liberation Serif', 'Times New Roman', serif" fill="#2e2e2e" stroke="#2e2e2e" stroke-width="0.1" font-size="8.8px">600</text>
<text x="90.85" y="236.60" text-anchor="middle" font-family="'Liberation Serif', 'Times New Roman', serif" fill="#2e2e2e" stroke="#2e2e2e" stroke-width="0.1" font-size="8.8px">Probe Delay (ps)</text>
<text x="36.80" y="133.60" text-anchor="end" font-family="'Liberation Serif', 'Times New Roman', serif" fill="#2e2e2e" stroke="#2e2e2e" stroke-width="0.1" font-size="8.5px">10<tspan dx="0.5" dy="-4.4" font-size="4.5px" letter-spacing="-0.3">-1</tspan></text>
<text x="36.80" y="163.30" text-anchor="end" font-family="'Liberation Serif', 'Times New Roman', serif" fill="#2e2e2e" stroke="#2e2e2e" stroke-width="0.1" font-size="8.5px">10<tspan dx="0.5" dy="-4.4" font-size="4.5px" letter-spacing="-0.3">-2</tspan></text>
<text x="36.80" y="193.00" text-anchor="end" font-family="'Liberation Serif', 'Times New Roman', serif" fill="#2e2e2e" stroke="#2e2e2e" stroke-width="0.1" font-size="8.5px">10<tspan dx="0.5" dy="-4.4" font-size="4.5px" letter-spacing="-0.3">-3</tspan></text>
<text x="36.80" y="222.70" text-anchor="end" font-family="'Liberation Serif', 'Times New Roman', serif" fill="#2e2e2e" stroke="#2e2e2e" stroke-width="0.1" font-size="8.5px">10<tspan dx="0.5" dy="-4.4" font-size="4.5px" letter-spacing="-0.3">-4</tspan></text>
<text transform="translate(21.90,170.85) rotate(-90)" text-anchor="middle" font-family="'Liberation Serif', 'Times New Roman', serif" fill="#2e2e2e" stroke="#2e2e2e" stroke-width="0.1" font-style="italic" font-size="8.8px"><tspan font-style="normal">&#916;</tspan>R/R<tspan dy="1.4" font-size="5.8px" font-style="normal">0</tspan></text>
<text x="135.60" y="134.60" text-anchor="end" font-family="'Liberation Sans', Arial, sans-serif" font-weight="bold" font-size="13.9px" fill="#0c0c0c" stroke="#0c0c0c" stroke-width="0.3">(e)</text>
<text x="123.10" y="209.50" text-anchor="end" font-family="'Liberation Serif', 'Times New Roman', serif" fill="#2e2e2e" stroke="#2e2e2e" stroke-width="0.1" font-size="11.1px">100 ps</text>
<rect x="175.70" y="122.00" width="98.40" height="97.30" fill="#fff"/>
<clipPath id="clipf"><rect x="176.10" y="122.00" width="98.00" height="97.00"/></clipPath>
<g clip-path="url(#clipf)" fill="#6a6ae6"><circle cx="180.0" cy="148.5" r="1.15"/><circle cx="179.8" cy="153.6" r="1.15"/><circle cx="180.0" cy="158.7" r="1.15"/><circle cx="180.0" cy="164.8" r="1.15"/><circle cx="180.0" cy="170.9" r="1.15"/><circle cx="179.9" cy="180.0" r="1.15"/><circle cx="179.9" cy="188.2" r="1.15"/><circle cx="180.1" cy="205.5" r="1.15"/><circle cx="179.9" cy="208.6" r="1.15"/><circle cx="179.9" cy="211.6" r="1.15"/><circle cx="180.1" cy="214.2" r="1.15"/><circle cx="180.1" cy="134.0" r="1.15"/><circle cx="180.0" cy="134.4" r="1.15"/><circle cx="180.1" cy="134.7" r="1.15"/><circle cx="180.3" cy="135.0" r="1.15"/><circle cx="180.0" cy="135.2" r="1.15"/><circle cx="180.1" cy="135.4" r="1.15"/><circle cx="180.0" cy="135.5" r="1.15"/><circle cx="180.1" cy="136.1" r="1.15"/><circle cx="180.1" cy="136.2" r="1.15"/><circle cx="180.3" cy="136.2" r="1.15"/><circle cx="180.2" cy="136.9" r="1.15"/><circle cx="180.4" cy="136.5" r="1.15"/><circle cx="180.4" cy="137.1" r="1.15"/><circle cx="180.6" cy="137.5" r="1.15"/><circle cx="180.3" cy="137.9" r="1.15"/><circle cx="180.4" cy="138.0" r="1.15"/><circle cx="180.5" cy="138.0" r="1.15"/><circle cx="180.5" cy="138.3" r="1.15"/><circle cx="180.3" cy="138.8" r="1.15"/><circle cx="180.5" cy="139.2" r="1.15"/><circle cx="180.3" cy="139.3" r="1.15"/><circle cx="180.4" cy="139.8" r="1.15"/><circle cx="180.4" cy="140.1" r="1.15"/><circle cx="180.5" cy="140.2" r="1.15"/><circle cx="180.4" cy="140.1" r="1.15"/><circle cx="180.8" cy="140.7" r="1.15"/><circle cx="180.6" cy="140.9" r="1.15"/><circle cx="180.6" cy="140.7" r="1.15"/><circle cx="180.8" cy="141.6" r="1.15"/><circle cx="180.7" cy="141.6" r="1.15"/><circle cx="180.6" cy="142.0" r="1.15"/><circle cx="180.8" cy="141.9" r="1.15"/><circle cx="180.8" cy="142.3" r="1.15"/><circle cx="180.8" cy="142.2" r="1.15"/><circle cx="180.7" cy="142.8" r="1.15"/><circle cx="180.8" cy="143.0" r="1.15"/><circle cx="180.9" cy="143.0" r="1.15"/><circle cx="181.0" cy="143.4" r="1.15"/><circle cx="181.1" cy="143.4" r="1.15"/><circle cx="181.2" cy="144.4" r="1.15"/><circle cx="181.2" cy="145.0" r="1.15"/><circle cx="181.3" cy="145.5" r="1.15"/><circle cx="181.4" cy="145.9" r="1.15"/><circle cx="181.5" cy="146.5" r="1.15"/><circle cx="181.8" cy="146.8" r="1.15"/><circle cx="182.0" cy="147.3" r="1.15"/><circle cx="181.9" cy="147.6" r="1.15"/><circle cx="182.2" cy="148.1" r="1.15"/><circle cx="182.4" cy="148.7" r="1.15"/><circle cx="182.4" cy="148.4" r="1.15"/><circle cx="182.5" cy="148.8" r="1.15"/><circle cx="182.6" cy="149.0" r="1.15"/><circle cx="182.8" cy="149.0" r="1.15"/><circle cx="182.9" cy="149.7" r="1.15"/><circle cx="183.1" cy="149.6" r="1.15"/><circle cx="183.3" cy="149.9" r="1.15"/><circle cx="183.7" cy="150.4" r="1.15"/><circle cx="183.4" cy="150.5" r="1.15"/><circle cx="183.6" cy="150.8" r="1.15"/><circle cx="184.0" cy="150.6" r="1.15"/><circle cx="184.1" cy="151.3" r="1.15"/><circle cx="184.3" cy="151.2" r="1.15"/><circle cx="184.1" cy="151.5" r="1.15"/><circle cx="184.4" cy="151.9" r="1.15"/><circle cx="184.4" cy="152.0" r="1.15"/><circle cx="184.5" cy="152.4" r="1.15"/><circle cx="184.9" cy="153.3" r="1.15"/><circle cx="185.5" cy="153.3" r="1.15"/><circle cx="185.7" cy="154.5" r="1.15"/><circle cx="186.1" cy="154.3" r="1.15"/><circle cx="186.3" cy="155.1" r="1.15"/><circle cx="186.7" cy="155.8" r="1.15"/><circle cx="187.1" cy="156.2" r="1.15"/><circle cx="187.3" cy="155.8" r="1.15"/><circle cx="187.9" cy="157.0" r="1.15"/><circle cx="188.2" cy="157.1" r="1.15"/><circle cx="188.6" cy="157.9" r="1.15"/><circle cx="188.7" cy="158.7" r="1.15"/><circle cx="189.3" cy="159.1" r="1.15"/><circle cx="189.5" cy="159.0" r="1.15"/><circle cx="189.9" cy="159.3" r="1.15"/><circle cx="190.0" cy="160.1" r="1.15"/><circle cx="190.4" cy="160.1" r="1.15"/><circle cx="190.7" cy="160.2" r="1.15"/><circle cx="191.2" cy="160.9" r="1.15"/><circle cx="191.7" cy="160.9" r="1.15"/><circle cx="191.9" cy="161.3" r="1.15"/><circle cx="192.1" cy="162.2" r="1.15"/><circle cx="192.6" cy="162.2" r="1.15"/><circle cx="193.0" cy="162.2" r="1.15"/><circle cx="193.2" cy="162.3" r="1.15"/><circle cx="193.5" cy="162.7" r="1.15"/><circle cx="193.9" cy="163.0" r="1.15"/><circle cx="194.3" cy="163.3" r="1.15"/><circle cx="194.5" cy="163.5" r="1.15"/><circle cx="195.0" cy="163.8" r="1.15"/><circle cx="195.2" cy="163.8" r="1.15"/><circle cx="195.8" cy="163.7" r="1.15"/><circle cx="196.1" cy="164.6" r="1.15"/><circle cx="196.2" cy="164.8" r="1.15"/><circle cx="196.6" cy="164.9" r="1.15"/><circle cx="197.2" cy="164.3" r="1.15"/><circle cx="197.5" cy="164.5" r="1.15"/><circle cx="197.6" cy="165.9" r="1.15"/><circle cx="198.0" cy="165.7" r="1.15"/><circle cx="198.3" cy="165.4" r="1.15"/><circle cx="198.8" cy="166.1" r="1.15"/><circle cx="199.3" cy="165.9" r="1.15"/><circle cx="200.1" cy="166.5" r="1.15"/><circle cx="201.0" cy="167.5" r="1.15"/><circle cx="201.6" cy="166.9" r="1.15"/><circle cx="202.4" cy="167.4" r="1.15"/><circle cx="203.3" cy="171.2" r="1.15"/><circle cx="204.1" cy="167.8" r="1.15"/><circle cx="205.0" cy="169.2" r="1.15"/><circle cx="205.8" cy="168.9" r="1.15"/><circle cx="206.4" cy="169.1" r="1.15"/><circle cx="207.4" cy="169.0" r="1.15"/><circle cx="208.0" cy="165.3" r="1.15"/><circle cx="208.6" cy="172.1" r="1.15"/><circle cx="209.6" cy="169.2" r="1.15"/><circle cx="210.2" cy="170.1" r="1.15"/><circle cx="210.9" cy="169.9" r="1.15"/><circle cx="211.8" cy="171.4" r="1.15"/><circle cx="212.6" cy="170.8" r="1.15"/><circle cx="213.4" cy="172.6" r="1.15"/><circle cx="214.0" cy="171.6" r="1.15"/><circle cx="214.9" cy="171.5" r="1.15"/><circle cx="215.9" cy="171.7" r="1.15"/><circle cx="216.4" cy="172.5" r="1.15"/><circle cx="217.2" cy="169.4" r="1.15"/><circle cx="218.2" cy="176.1" r="1.15"/><circle cx="219.0" cy="170.9" r="1.15"/><circle cx="219.7" cy="173.1" r="1.15"/><circle cx="220.6" cy="173.4" r="1.15"/><circle cx="221.2" cy="172.4" r="1.15"/><circle cx="222.1" cy="173.7" r="1.15"/><circle cx="222.8" cy="173.7" r="1.15"/><circle cx="223.5" cy="174.5" r="1.15"/><circle cx="224.3" cy="174.5" r="1.15"/><circle cx="225.1" cy="174.4" r="1.15"/><circle cx="225.7" cy="174.1" r="1.15"/><circle cx="226.6" cy="174.4" r="1.15"/><circle cx="227.2" cy="176.8" r="1.15"/><circle cx="228.0" cy="175.3" r="1.15"/><circle cx="228.8" cy="174.7" r="1.15"/><circle cx="229.5" cy="173.7" r="1.15"/><circle cx="230.6" cy="176.8" r="1.15"/><circle cx="231.2" cy="176.7" r="1.15"/><circle cx="232.1" cy="175.7" r="1.15"/><circle cx="232.9" cy="177.2" r="1.15"/><circle cx="233.5" cy="176.8" r="1.15"/><circle cx="234.4" cy="175.3" r="1.15"/><circle cx="235.1" cy="176.0" r="1.15"/><circle cx="236.0" cy="176.7" r="1.15"/><circle cx="236.8" cy="174.7" r="1.15"/><circle cx="237.5" cy="176.1" r="1.15"/><circle cx="238.4" cy="178.4" r="1.15"/><circle cx="239.2" cy="178.2" r="1.15"/><circle cx="240.0" cy="176.7" r="1.15"/><circle cx="240.7" cy="176.8" r="1.15"/><circle cx="241.3" cy="180.7" r="1.15"/><circle cx="242.0" cy="177.8" r="1.15"/><circle cx="243.1" cy="177.7" r="1.15"/><circle cx="243.5" cy="178.0" r="1.15"/><circle cx="244.4" cy="178.9" r="1.15"/><circle cx="245.1" cy="177.5" r="1.15"/><circle cx="246.1" cy="176.6" r="1.15"/><circle cx="246.6" cy="177.4" r="1.15"/><circle cx="247.4" cy="179.1" r="1.15"/><circle cx="248.4" cy="178.4" r="1.15"/><circle cx="249.1" cy="179.3" r="1.15"/><circle cx="249.8" cy="180.1" r="1.15"/><circle cx="250.7" cy="176.2" r="1.15"/><circle cx="251.4" cy="175.6" r="1.15"/><circle cx="252.2" cy="180.2" r="1.15"/><circle cx="253.0" cy="179.9" r="1.15"/><circle cx="253.8" cy="180.8" r="1.15"/><circle cx="254.6" cy="182.2" r="1.15"/><circle cx="255.3" cy="178.6" r="1.15"/><circle cx="256.2" cy="177.7" r="1.15"/><circle cx="256.8" cy="176.6" r="1.15"/><circle cx="257.8" cy="178.5" r="1.15"/><circle cx="258.5" cy="181.3" r="1.15"/><circle cx="259.3" cy="184.2" r="1.15"/><circle cx="260.0" cy="178.7" r="1.15"/><circle cx="260.8" cy="178.6" r="1.15"/><circle cx="261.4" cy="179.8" r="1.15"/><circle cx="262.1" cy="181.1" r="1.15"/><circle cx="262.9" cy="178.9" r="1.15"/><circle cx="263.8" cy="181.7" r="1.15"/><circle cx="264.6" cy="180.3" r="1.15"/><circle cx="265.5" cy="179.1" r="1.15"/></g><g clip-path="url(#clipf)" fill="none" stroke="#1a1af8" stroke-width="0.8"><circle cx="180.0" cy="148.5" r="1.28"/><circle cx="179.8" cy="153.6" r="1.28"/><circle cx="180.0" cy="158.7" r="1.28"/><circle cx="180.0" cy="164.8" r="1.28"/><circle cx="180.0" cy="170.9" r="1.28"/><circle cx="179.9" cy="180.0" r="1.28"/><circle cx="179.9" cy="188.2" r="1.28"/><circle cx="180.1" cy="205.5" r="1.28"/><circle cx="179.9" cy="208.6" r="1.28"/><circle cx="179.9" cy="211.6" r="1.28"/><circle cx="180.1" cy="214.2" r="1.28"/><circle cx="180.1" cy="134.0" r="1.28"/><circle cx="180.0" cy="134.4" r="1.28"/><circle cx="180.1" cy="134.7" r="1.28"/><circle cx="180.3" cy="135.0" r="1.28"/><circle cx="180.0" cy="135.2" r="1.28"/><circle cx="180.1" cy="135.4" r="1.28"/><circle cx="180.0" cy="135.5" r="1.28"/><circle cx="180.1" cy="136.1" r="1.28"/><circle cx="180.1" cy="136.2" r="1.28"/><circle cx="180.3" cy="136.2" r="1.28"/><circle cx="180.2" cy="136.9" r="1.28"/><circle cx="180.4" cy="136.5" r="1.28"/><circle cx="180.4" cy="137.1" r="1.28"/><circle cx="180.6" cy="137.5" r="1.28"/><circle cx="180.3" cy="137.9" r="1.28"/><circle cx="180.4" cy="138.0" r="1.28"/><circle cx="180.5" cy="138.0" r="1.28"/><circle cx="180.5" cy="138.3" r="1.28"/><circle cx="180.3" cy="138.8" r="1.28"/><circle cx="180.5" cy="139.2" r="1.28"/><circle cx="180.3" cy="139.3" r="1.28"/><circle cx="180.4" cy="139.8" r="1.28"/><circle cx="180.4" cy="140.1" r="1.28"/><circle cx="180.5" cy="140.2" r="1.28"/><circle cx="180.4" cy="140.1" r="1.28"/><circle cx="180.8" cy="140.7" r="1.28"/><circle cx="180.6" cy="140.9" r="1.28"/><circle cx="180.6" cy="140.7" r="1.28"/><circle cx="180.8" cy="141.6" r="1.28"/><circle cx="180.7" cy="141.6" r="1.28"/><circle cx="180.6" cy="142.0" r="1.28"/><circle cx="180.8" cy="141.9" r="1.28"/><circle cx="180.8" cy="142.3" r="1.28"/><circle cx="180.8" cy="142.2" r="1.28"/><circle cx="180.7" cy="142.8" r="1.28"/><circle cx="180.8" cy="143.0" r="1.28"/><circle cx="180.9" cy="143.0" r="1.28"/><circle cx="181.0" cy="143.4" r="1.28"/><circle cx="181.1" cy="143.4" r="1.28"/><circle cx="181.2" cy="144.4" r="1.28"/><circle cx="181.2" cy="145.0" r="1.28"/><circle cx="181.3" cy="145.5" r="1.28"/><circle cx="181.4" cy="145.9" r="1.28"/><circle cx="181.5" cy="146.5" r="1.28"/><circle cx="181.8" cy="146.8" r="1.28"/><circle cx="182.0" cy="147.3" r="1.28"/><circle cx="181.9" cy="147.6" r="1.28"/><circle cx="182.2" cy="148.1" r="1.28"/><circle cx="182.4" cy="148.7" r="1.28"/><circle cx="182.4" cy="148.4" r="1.28"/><circle cx="182.5" cy="148.8" r="1.28"/><circle cx="182.6" cy="149.0" r="1.28"/><circle cx="182.8" cy="149.0" r="1.28"/><circle cx="182.9" cy="149.7" r="1.28"/><circle cx="183.1" cy="149.6" r="1.28"/><circle cx="183.3" cy="149.9" r="1.28"/><circle cx="183.7" cy="150.4" r="1.28"/><circle cx="183.4" cy="150.5" r="1.28"/><circle cx="183.6" cy="150.8" r="1.28"/><circle cx="184.0" cy="150.6" r="1.28"/><circle cx="184.1" cy="151.3" r="1.28"/><circle cx="184.3" cy="151.2" r="1.28"/><circle cx="184.1" cy="151.5" r="1.28"/><circle cx="184.4" cy="151.9" r="1.28"/><circle cx="184.4" cy="152.0" r="1.28"/><circle cx="184.5" cy="152.4" r="1.28"/><circle cx="184.9" cy="153.3" r="1.28"/><circle cx="185.5" cy="153.3" r="1.28"/><circle cx="185.7" cy="154.5" r="1.28"/><circle cx="186.1" cy="154.3" r="1.28"/><circle cx="186.3" cy="155.1" r="1.28"/><circle cx="186.7" cy="155.8" r="1.28"/><circle cx="187.1" cy="156.2" r="1.28"/><circle cx="187.3" cy="155.8" r="1.28"/><circle cx="187.9" cy="157.0" r="1.28"/><circle cx="188.2" cy="157.1" r="1.28"/><circle cx="188.6" cy="157.9" r="1.28"/><circle cx="188.7" cy="158.7" r="1.28"/><circle cx="189.3" cy="159.1" r="1.28"/><circle cx="189.5" cy="159.0" r="1.28"/><circle cx="189.9" cy="159.3" r="1.28"/><circle cx="190.0" cy="160.1" r="1.28"/><circle cx="190.4" cy="160.1" r="1.28"/><circle cx="190.7" cy="160.2" r="1.28"/><circle cx="191.2" cy="160.9" r="1.28"/><circle cx="191.7" cy="160.9" r="1.28"/><circle cx="191.9" cy="161.3" r="1.28"/><circle cx="192.1" cy="162.2" r="1.28"/><circle cx="192.6" cy="162.2" r="1.28"/><circle cx="193.0" cy="162.2" r="1.28"/><circle cx="193.2" cy="162.3" r="1.28"/><circle cx="193.5" cy="162.7" r="1.28"/><circle cx="193.9" cy="163.0" r="1.28"/><circle cx="194.3" cy="163.3" r="1.28"/><circle cx="194.5" cy="163.5" r="1.28"/><circle cx="195.0" cy="163.8" r="1.28"/><circle cx="195.2" cy="163.8" r="1.28"/><circle cx="195.8" cy="163.7" r="1.28"/><circle cx="196.1" cy="164.6" r="1.28"/><circle cx="196.2" cy="164.8" r="1.28"/><circle cx="196.6" cy="164.9" r="1.28"/><circle cx="197.2" cy="164.3" r="1.28"/><circle cx="197.5" cy="164.5" r="1.28"/><circle cx="197.6" cy="165.9" r="1.28"/><circle cx="198.0" cy="165.7" r="1.28"/><circle cx="198.3" cy="165.4" r="1.28"/><circle cx="198.8" cy="166.1" r="1.28"/><circle cx="199.3" cy="165.9" r="1.28"/><circle cx="200.1" cy="166.5" r="1.28"/><circle cx="201.0" cy="167.5" r="1.28"/><circle cx="201.6" cy="166.9" r="1.28"/><circle cx="202.4" cy="167.4" r="1.28"/><circle cx="203.3" cy="171.2" r="1.28"/><circle cx="204.1" cy="167.8" r="1.28"/><circle cx="205.0" cy="169.2" r="1.28"/><circle cx="205.8" cy="168.9" r="1.28"/><circle cx="206.4" cy="169.1" r="1.28"/><circle cx="207.4" cy="169.0" r="1.28"/><circle cx="208.0" cy="165.3" r="1.28"/><circle cx="208.6" cy="172.1" r="1.28"/><circle cx="209.6" cy="169.2" r="1.28"/><circle cx="210.2" cy="170.1" r="1.28"/><circle cx="210.9" cy="169.9" r="1.28"/><circle cx="211.8" cy="171.4" r="1.28"/><circle cx="212.6" cy="170.8" r="1.28"/><circle cx="213.4" cy="172.6" r="1.28"/><circle cx="214.0" cy="171.6" r="1.28"/><circle cx="214.9" cy="171.5" r="1.28"/><circle cx="215.9" cy="171.7" r="1.28"/><circle cx="216.4" cy="172.5" r="1.28"/><circle cx="217.2" cy="169.4" r="1.28"/><circle cx="218.2" cy="176.1" r="1.28"/><circle cx="219.0" cy="170.9" r="1.28"/><circle cx="219.7" cy="173.1" r="1.28"/><circle cx="220.6" cy="173.4" r="1.28"/><circle cx="221.2" cy="172.4" r="1.28"/><circle cx="222.1" cy="173.7" r="1.28"/><circle cx="222.8" cy="173.7" r="1.28"/><circle cx="223.5" cy="174.5" r="1.28"/><circle cx="224.3" cy="174.5" r="1.28"/><circle cx="225.1" cy="174.4" r="1.28"/><circle cx="225.7" cy="174.1" r="1.28"/><circle cx="226.6" cy="174.4" r="1.28"/><circle cx="227.2" cy="176.8" r="1.28"/><circle cx="228.0" cy="175.3" r="1.28"/><circle cx="228.8" cy="174.7" r="1.28"/><circle cx="229.5" cy="173.7" r="1.28"/><circle cx="230.6" cy="176.8" r="1.28"/><circle cx="231.2" cy="176.7" r="1.28"/><circle cx="232.1" cy="175.7" r="1.28"/><circle cx="232.9" cy="177.2" r="1.28"/><circle cx="233.5" cy="176.8" r="1.28"/><circle cx="234.4" cy="175.3" r="1.28"/><circle cx="235.1" cy="176.0" r="1.28"/><circle cx="236.0" cy="176.7" r="1.28"/><circle cx="236.8" cy="174.7" r="1.28"/><circle cx="237.5" cy="176.1" r="1.28"/><circle cx="238.4" cy="178.4" r="1.28"/><circle cx="239.2" cy="178.2" r="1.28"/><circle cx="240.0" cy="176.7" r="1.28"/><circle cx="240.7" cy="176.8" r="1.28"/><circle cx="241.3" cy="180.7" r="1.28"/><circle cx="242.0" cy="177.8" r="1.28"/><circle cx="243.1" cy="177.7" r="1.28"/><circle cx="243.5" cy="178.0" r="1.28"/><circle cx="244.4" cy="178.9" r="1.28"/><circle cx="245.1" cy="177.5" r="1.28"/><circle cx="246.1" cy="176.6" r="1.28"/><circle cx="246.6" cy="177.4" r="1.28"/><circle cx="247.4" cy="179.1" r="1.28"/><circle cx="248.4" cy="178.4" r="1.28"/><circle cx="249.1" cy="179.3" r="1.28"/><circle cx="249.8" cy="180.1" r="1.28"/><circle cx="250.7" cy="176.2" r="1.28"/><circle cx="251.4" cy="175.6" r="1.28"/><circle cx="252.2" cy="180.2" r="1.28"/><circle cx="253.0" cy="179.9" r="1.28"/><circle cx="253.8" cy="180.8" r="1.28"/><circle cx="254.6" cy="182.2" r="1.28"/><circle cx="255.3" cy="178.6" r="1.28"/><circle cx="256.2" cy="177.7" r="1.28"/><circle cx="256.8" cy="176.6" r="1.28"/><circle cx="257.8" cy="178.5" r="1.28"/><circle cx="258.5" cy="181.3" r="1.28"/><circle cx="259.3" cy="184.2" r="1.28"/><circle cx="260.0" cy="178.7" r="1.28"/><circle cx="260.8" cy="178.6" r="1.28"/><circle cx="261.4" cy="179.8" r="1.28"/><circle cx="262.1" cy="181.1" r="1.28"/><circle cx="262.9" cy="178.9" r="1.28"/><circle cx="263.8" cy="181.7" r="1.28"/><circle cx="264.6" cy="180.3" r="1.28"/><circle cx="265.5" cy="179.1" r="1.28"/></g>
<polyline clip-path="url(#clipf)" points="180.47,138.63 180.58,139.99 180.70,141.30 180.82,142.49 180.94,143.48 181.06,144.21 181.18,144.71 181.30,145.18 181.42,145.61 181.54,146.02 181.66,146.40 181.78,146.76 181.90,147.10 182.01,147.42 182.13,147.72 182.25,148.00 182.37,148.27 182.49,148.52 182.61,148.76 182.73,148.99 182.85,149.20 182.97,149.41 183.09,149.61 183.21,149.81 183.33,150.00 183.45,150.20 183.56,150.39 183.68,150.58 183.80,150.77 183.92,150.97 184.04,151.17 184.16,151.38 184.28,151.60 184.40,151.81 184.52,152.02 184.64,152.23 184.76,152.44 184.88,152.64 185.00,152.85 185.12,153.05 185.27,153.31 185.94,154.39 186.62,155.42 187.29,156.38 187.97,157.27 188.64,158.09 189.32,158.84 189.99,159.54 190.67,160.20 191.34,160.82 192.02,161.41 192.69,161.97 193.37,162.49 194.04,162.98 194.72,163.45 195.39,163.88 196.07,164.30 196.74,164.71 197.41,165.10 198.09,165.48 198.76,165.85 199.44,166.20 200.11,166.54 200.79,166.87 201.46,167.19 202.14,167.49 202.81,167.79 203.49,168.07 204.16,168.35 204.84,168.61 205.51,168.86 206.19,169.11 206.86,169.34 207.54,169.56 208.21,169.78 208.88,169.98 209.56,170.18 210.23,170.38 210.91,170.57 211.58,170.75 212.26,170.93 212.93,171.11 213.61,171.30 214.28,171.48 214.96,171.66 215.63,171.84 216.31,172.03 216.98,172.22 217.66,172.40 218.33,172.59 219.01,172.77 219.68,172.95 220.35,173.13 221.03,173.31 221.70,173.49 222.38,173.66 223.05,173.83 223.73,174.00 224.40,174.17 225.08,174.33 225.75,174.48 226.43,174.64 227.10,174.79 227.78,174.94 228.45,175.09 229.13,175.23 229.80,175.38 230.48,175.52 231.15,175.66 231.82,175.79 232.50,175.92 233.17,176.05 233.85,176.18 234.52,176.31 235.20,176.43 235.87,176.54 236.55,176.66 237.22,176.77 237.90,176.87 238.57,176.97 239.25,177.07 239.92,177.17 240.60,177.27 241.27,177.36 241.95,177.45 242.62,177.54 243.29,177.64 243.97,177.73 244.64,177.82 245.32,177.92 245.99,178.01 246.67,178.11 247.34,178.21 248.02,178.32 248.69,178.42 249.37,178.53 250.04,178.64 250.72,178.75 251.39,178.85 252.07,178.96 252.74,179.06 253.42,179.16 254.09,179.26 254.76,179.35 255.44,179.43 256.11,179.51 256.79,179.58 257.46,179.66 258.14,179.73 258.81,179.79 259.49,179.86 260.16,179.93 260.84,179.99 261.51,180.05 262.19,180.11 262.86,180.16 263.54,180.22 264.21,180.27 264.89,180.31 265.56,180.36" fill="none" stroke="#ff2a1a" stroke-width="0.7"/>
<rect x="175.70" y="122.00" width="98.40" height="97.30" fill="none" stroke="#5a5a5a" stroke-width="1.1"/>
<path d="M180.00,219.30v-2M180.00,122.00v2M195.50,219.30v-2M195.50,122.00v2M211.00,219.30v-2M211.00,122.00v2M226.50,219.30v-2M226.50,122.00v2M242.00,219.30v-2M242.00,122.00v2M257.50,219.30v-2M257.50,122.00v2M273.00,219.30v-2M273.00,122.00v2M175.70,210.89h1.1M274.10,210.89h-1.1M175.70,205.68h1.1M274.10,205.68h-1.1M175.70,201.98h1.1M274.10,201.98h-1.1M175.70,199.11h1.1M274.10,199.11h-1.1M175.70,196.77h1.1M274.10,196.77h-1.1M175.70,194.79h1.1M274.10,194.79h-1.1M175.70,193.07h1.1M274.10,193.07h-1.1M175.70,191.55h1.1M274.10,191.55h-1.1M175.70,190.20h2.0M274.10,190.20h-2.0M175.70,181.29h1.1M274.10,181.29h-1.1M175.70,176.08h1.1M274.10,176.08h-1.1M175.70,172.38h1.1M274.10,172.38h-1.1M175.70,169.51h1.1M274.10,169.51h-1.1M175.70,167.17h1.1M274.10,167.17h-1.1M175.70,165.19h1.1M274.10,165.19h-1.1M175.70,163.47h1.1M274.10,163.47h-1.1M175.70,161.95h1.1M274.10,161.95h-1.1M175.70,160.60h2.0M274.10,160.60h-2.0M175.70,151.69h1.1M274.10,151.69h-1.1M175.70,146.48h1.1M274.10,146.48h-1.1M175.70,142.78h1.1M274.10,142.78h-1.1M175.70,139.91h1.1M274.10,139.91h-1.1M175.70,137.57h1.1M274.10,137.57h-1.1M175.70,135.59h1.1M274.10,135.59h-1.1M175.70,133.87h1.1M274.10,133.87h-1.1M175.70,132.35h1.1M274.10,132.35h-1.1M175.70,131.00h2.0M274.10,131.00h-2.0" stroke="#444" stroke-width="0.7" fill="none"/>
<text x="180.50" y="228.10" text-anchor="middle" font-family="'Liberation Serif', 'Times New Roman', serif" fill="#2e2e2e" stroke="#2e2e2e" stroke-width="0.1" font-size="8.8px">0</text>
<text x="211.50" y="228.10" text-anchor="middle" font-family="'Liberation Serif', 'Times New Roman', serif" fill="#2e2e2e" stroke="#2e2e2e" stroke-width="0.1" font-size="8.8px">200</text>
<text x="242.50" y="228.10" text-anchor="middle" font-family="'Liberation Serif', 'Times New Roman', serif" fill="#2e2e2e" stroke="#2e2e2e" stroke-width="0.1" font-size="8.8px">400</text>
<text x="273.50" y="228.10" text-anchor="middle" font-family="'Liberation Serif', 'Times New Roman', serif" fill="#2e2e2e" stroke="#2e2e2e" stroke-width="0.1" font-size="8.8px">600</text>
<text x="224.75" y="235.70" text-anchor="middle" font-family="'Liberation Serif', 'Times New Roman', serif" fill="#2e2e2e" stroke="#2e2e2e" stroke-width="0.1" font-size="8.8px">Probe Delay (ps)</text>
<text x="173.80" y="133.90" text-anchor="end" font-family="'Liberation Serif', 'Times New Roman', serif" fill="#2e2e2e" stroke="#2e2e2e" stroke-width="0.1" font-size="8.5px">10<tspan dx="0.5" dy="-4.4" font-size="4.5px" letter-spacing="-0.3">-2</tspan></text>
<text x="173.80" y="163.50" text-anchor="end" font-family="'Liberation Serif', 'Times New Roman', serif" fill="#2e2e2e" stroke="#2e2e2e" stroke-width="0.1" font-size="8.5px">10<tspan dx="0.5" dy="-4.4" font-size="4.5px" letter-spacing="-0.3">-3</tspan></text>
<text x="173.80" y="193.10" text-anchor="end" font-family="'Liberation Serif', 'Times New Roman', serif" fill="#2e2e2e" stroke="#2e2e2e" stroke-width="0.1" font-size="8.5px">10<tspan dx="0.5" dy="-4.4" font-size="4.5px" letter-spacing="-0.3">-4</tspan></text>
<text x="173.80" y="222.70" text-anchor="end" font-family="'Liberation Serif', 'Times New Roman', serif" fill="#2e2e2e" stroke="#2e2e2e" stroke-width="0.1" font-size="8.5px">10<tspan dx="0.5" dy="-4.4" font-size="4.5px" letter-spacing="-0.3">-5</tspan></text>
<text transform="translate(158.90,170.15) rotate(-90)" text-anchor="middle" font-family="'Liberation Serif', 'Times New Roman', serif" fill="#2e2e2e" stroke="#2e2e2e" stroke-width="0.1" font-style="italic" font-size="8.8px"><tspan font-style="normal">&#916;</tspan>R/R<tspan dy="1.4" font-size="5.8px" font-style="normal">0</tspan></text>
<text x="272.90" y="134.70" text-anchor="end" font-family="'Liberation Sans', Arial, sans-serif" font-weight="bold" font-size="13.9px" fill="#0c0c0c" stroke="#0c0c0c" stroke-width="0.3">(f)</text>
<text x="262.30" y="209.80" text-anchor="end" font-family="'Liberation Serif', 'Times New Roman', serif" fill="#2e2e2e" stroke="#2e2e2e" stroke-width="0.1" font-size="11.1px">133 ps</text>
<rect x="314.30" y="123.10" width="97.20" height="96.60" fill="#fff"/>
<clipPath id="clipg"><rect x="314.70" y="123.10" width="96.80" height="96.30"/></clipPath>
<g clip-path="url(#clipg)" fill="#6a6ae6"><circle cx="317.5" cy="136.5" r="1.15"/><circle cx="317.6" cy="138.5" r="1.15"/><circle cx="317.4" cy="140.5" r="1.15"/><circle cx="317.5" cy="145.3" r="1.15"/><circle cx="317.7" cy="148.9" r="1.15"/><circle cx="317.7" cy="154.2" r="1.15"/><circle cx="317.3" cy="168.3" r="1.15"/><circle cx="317.4" cy="205.4" r="1.15"/><circle cx="317.4" cy="133.8" r="1.15"/><circle cx="317.6" cy="133.8" r="1.15"/><circle cx="317.7" cy="133.7" r="1.15"/><circle cx="317.7" cy="134.0" r="1.15"/><circle cx="317.6" cy="133.9" r="1.15"/><circle cx="317.6" cy="133.9" r="1.15"/><circle cx="317.7" cy="134.1" r="1.15"/><circle cx="317.6" cy="133.8" r="1.15"/><circle cx="317.7" cy="134.2" r="1.15"/><circle cx="317.7" cy="134.0" r="1.15"/><circle cx="318.0" cy="134.1" r="1.15"/><circle cx="317.9" cy="134.0" r="1.15"/><circle cx="317.9" cy="134.0" r="1.15"/><circle cx="317.9" cy="134.1" r="1.15"/><circle cx="317.9" cy="134.0" r="1.15"/><circle cx="317.9" cy="134.1" r="1.15"/><circle cx="317.9" cy="134.0" r="1.15"/><circle cx="318.1" cy="134.1" r="1.15"/><circle cx="317.9" cy="134.0" r="1.15"/><circle cx="318.0" cy="134.3" r="1.15"/><circle cx="318.0" cy="134.2" r="1.15"/><circle cx="317.9" cy="134.2" r="1.15"/><circle cx="318.2" cy="134.0" r="1.15"/><circle cx="318.2" cy="134.3" r="1.15"/><circle cx="318.1" cy="134.5" r="1.15"/><circle cx="318.2" cy="134.5" r="1.15"/><circle cx="318.1" cy="134.5" r="1.15"/><circle cx="318.2" cy="134.2" r="1.15"/><circle cx="318.3" cy="134.5" r="1.15"/><circle cx="318.2" cy="134.6" r="1.15"/><circle cx="318.1" cy="134.4" r="1.15"/><circle cx="318.2" cy="134.5" r="1.15"/><circle cx="318.2" cy="134.5" r="1.15"/><circle cx="318.5" cy="134.4" r="1.15"/><circle cx="318.4" cy="134.6" r="1.15"/><circle cx="318.3" cy="134.8" r="1.15"/><circle cx="318.5" cy="134.6" r="1.15"/><circle cx="318.5" cy="134.8" r="1.15"/><circle cx="318.5" cy="134.7" r="1.15"/><circle cx="318.5" cy="134.8" r="1.15"/><circle cx="318.6" cy="134.7" r="1.15"/><circle cx="319.0" cy="135.0" r="1.15"/><circle cx="318.8" cy="135.1" r="1.15"/><circle cx="319.1" cy="135.4" r="1.15"/><circle cx="319.2" cy="134.9" r="1.15"/><circle cx="319.3" cy="135.3" r="1.15"/><circle cx="319.5" cy="135.4" r="1.15"/><circle cx="319.5" cy="135.8" r="1.15"/><circle cx="319.9" cy="135.9" r="1.15"/><circle cx="320.0" cy="135.8" r="1.15"/><circle cx="320.3" cy="136.2" r="1.15"/><circle cx="320.3" cy="136.0" r="1.15"/><circle cx="320.3" cy="136.5" r="1.15"/><circle cx="320.5" cy="136.4" r="1.15"/><circle cx="320.6" cy="136.6" r="1.15"/><circle cx="320.7" cy="136.6" r="1.15"/><circle cx="321.1" cy="136.6" r="1.15"/><circle cx="321.0" cy="136.9" r="1.15"/><circle cx="321.4" cy="137.1" r="1.15"/><circle cx="321.3" cy="137.1" r="1.15"/><circle cx="321.5" cy="137.0" r="1.15"/><circle cx="321.6" cy="137.3" r="1.15"/><circle cx="322.0" cy="137.3" r="1.15"/><circle cx="321.9" cy="137.5" r="1.15"/><circle cx="322.2" cy="137.4" r="1.15"/><circle cx="322.4" cy="137.4" r="1.15"/><circle cx="322.5" cy="137.8" r="1.15"/><circle cx="323.1" cy="138.4" r="1.15"/><circle cx="323.4" cy="138.3" r="1.15"/><circle cx="323.5" cy="138.3" r="1.15"/><circle cx="324.0" cy="138.4" r="1.15"/><circle cx="324.1" cy="138.4" r="1.15"/><circle cx="324.8" cy="138.9" r="1.15"/><circle cx="324.9" cy="139.3" r="1.15"/><circle cx="325.4" cy="139.3" r="1.15"/><circle cx="325.8" cy="139.3" r="1.15"/><circle cx="326.0" cy="139.3" r="1.15"/><circle cx="326.2" cy="139.9" r="1.15"/><circle cx="326.8" cy="139.8" r="1.15"/><circle cx="326.9" cy="140.0" r="1.15"/><circle cx="327.5" cy="139.9" r="1.15"/><circle cx="327.7" cy="140.2" r="1.15"/><circle cx="328.0" cy="140.1" r="1.15"/><circle cx="328.4" cy="140.5" r="1.15"/><circle cx="328.8" cy="141.3" r="1.15"/><circle cx="329.1" cy="140.7" r="1.15"/><circle cx="329.4" cy="140.5" r="1.15"/><circle cx="329.9" cy="141.0" r="1.15"/><circle cx="330.0" cy="140.9" r="1.15"/><circle cx="330.5" cy="141.0" r="1.15"/><circle cx="330.9" cy="140.9" r="1.15"/><circle cx="331.3" cy="141.4" r="1.15"/><circle cx="331.5" cy="142.1" r="1.15"/><circle cx="331.7" cy="141.9" r="1.15"/><circle cx="332.2" cy="141.1" r="1.15"/><circle cx="332.4" cy="141.6" r="1.15"/><circle cx="332.8" cy="142.2" r="1.15"/><circle cx="333.2" cy="142.0" r="1.15"/><circle cx="333.4" cy="142.2" r="1.15"/><circle cx="334.0" cy="142.5" r="1.15"/><circle cx="334.1" cy="143.2" r="1.15"/><circle cx="334.6" cy="143.1" r="1.15"/><circle cx="334.9" cy="142.7" r="1.15"/><circle cx="335.5" cy="143.0" r="1.15"/><circle cx="335.7" cy="143.0" r="1.15"/><circle cx="336.0" cy="143.3" r="1.15"/><circle cx="336.2" cy="143.7" r="1.15"/><circle cx="337.2" cy="143.5" r="1.15"/><circle cx="337.9" cy="143.6" r="1.15"/><circle cx="338.6" cy="144.9" r="1.15"/><circle cx="339.4" cy="144.3" r="1.15"/><circle cx="340.4" cy="144.8" r="1.15"/><circle cx="340.8" cy="145.1" r="1.15"/><circle cx="341.7" cy="145.1" r="1.15"/><circle cx="342.5" cy="145.4" r="1.15"/><circle cx="343.5" cy="146.6" r="1.15"/><circle cx="344.0" cy="146.6" r="1.15"/><circle cx="345.0" cy="146.6" r="1.15"/><circle cx="345.8" cy="150.4" r="1.15"/><circle cx="346.6" cy="146.9" r="1.15"/><circle cx="347.4" cy="150.4" r="1.15"/><circle cx="348.0" cy="145.2" r="1.15"/><circle cx="348.8" cy="147.0" r="1.15"/><circle cx="349.7" cy="148.5" r="1.15"/><circle cx="350.2" cy="146.8" r="1.15"/><circle cx="351.2" cy="147.6" r="1.15"/><circle cx="351.8" cy="147.8" r="1.15"/><circle cx="352.9" cy="148.6" r="1.15"/><circle cx="353.6" cy="149.2" r="1.15"/><circle cx="354.3" cy="149.8" r="1.15"/><circle cx="354.9" cy="145.9" r="1.15"/><circle cx="355.9" cy="150.1" r="1.15"/><circle cx="356.8" cy="150.9" r="1.15"/><circle cx="357.4" cy="150.3" r="1.15"/><circle cx="358.3" cy="150.2" r="1.15"/><circle cx="358.8" cy="149.8" r="1.15"/><circle cx="359.7" cy="150.9" r="1.15"/><circle cx="360.3" cy="150.0" r="1.15"/><circle cx="361.4" cy="151.0" r="1.15"/><circle cx="362.1" cy="151.9" r="1.15"/><circle cx="362.8" cy="150.7" r="1.15"/><circle cx="363.8" cy="152.1" r="1.15"/><circle cx="364.4" cy="150.7" r="1.15"/><circle cx="365.3" cy="153.3" r="1.15"/><circle cx="365.8" cy="151.5" r="1.15"/><circle cx="366.9" cy="147.8" r="1.15"/><circle cx="367.7" cy="153.9" r="1.15"/><circle cx="368.3" cy="152.2" r="1.15"/><circle cx="369.0" cy="152.7" r="1.15"/><circle cx="369.7" cy="152.5" r="1.15"/><circle cx="370.7" cy="156.3" r="1.15"/><circle cx="371.4" cy="153.0" r="1.15"/><circle cx="372.3" cy="154.7" r="1.15"/><circle cx="373.1" cy="153.9" r="1.15"/><circle cx="373.8" cy="152.5" r="1.15"/><circle cx="374.5" cy="154.8" r="1.15"/><circle cx="375.2" cy="153.8" r="1.15"/><circle cx="376.3" cy="154.6" r="1.15"/><circle cx="376.7" cy="154.1" r="1.15"/><circle cx="377.7" cy="156.3" r="1.15"/><circle cx="378.4" cy="156.2" r="1.15"/><circle cx="379.2" cy="155.6" r="1.15"/><circle cx="380.0" cy="153.0" r="1.15"/><circle cx="380.9" cy="155.7" r="1.15"/><circle cx="381.7" cy="155.5" r="1.15"/><circle cx="382.3" cy="155.9" r="1.15"/><circle cx="383.0" cy="160.2" r="1.15"/><circle cx="384.0" cy="155.5" r="1.15"/><circle cx="384.5" cy="155.6" r="1.15"/><circle cx="385.5" cy="156.8" r="1.15"/><circle cx="386.3" cy="156.8" r="1.15"/><circle cx="386.9" cy="156.2" r="1.15"/><circle cx="387.8" cy="157.4" r="1.15"/><circle cx="388.7" cy="156.9" r="1.15"/><circle cx="389.3" cy="156.5" r="1.15"/><circle cx="390.1" cy="157.8" r="1.15"/><circle cx="390.8" cy="158.9" r="1.15"/><circle cx="391.7" cy="157.7" r="1.15"/><circle cx="392.4" cy="156.9" r="1.15"/><circle cx="393.2" cy="157.1" r="1.15"/><circle cx="394.1" cy="158.4" r="1.15"/><circle cx="394.7" cy="159.7" r="1.15"/><circle cx="395.7" cy="160.5" r="1.15"/><circle cx="396.2" cy="159.3" r="1.15"/><circle cx="397.1" cy="160.7" r="1.15"/><circle cx="397.9" cy="156.9" r="1.15"/><circle cx="398.7" cy="157.7" r="1.15"/><circle cx="399.4" cy="160.8" r="1.15"/><circle cx="400.3" cy="157.9" r="1.15"/><circle cx="400.9" cy="158.2" r="1.15"/><circle cx="401.9" cy="157.3" r="1.15"/><circle cx="402.6" cy="159.5" r="1.15"/><circle cx="403.4" cy="160.4" r="1.15"/><circle cx="404.4" cy="160.6" r="1.15"/><circle cx="404.8" cy="158.9" r="1.15"/><circle cx="405.9" cy="159.1" r="1.15"/><circle cx="406.4" cy="161.4" r="1.15"/><circle cx="407.2" cy="159.2" r="1.15"/><circle cx="408.2" cy="159.9" r="1.15"/><circle cx="408.9" cy="164.1" r="1.15"/><circle cx="409.7" cy="157.6" r="1.15"/><circle cx="410.4" cy="159.3" r="1.15"/></g><g clip-path="url(#clipg)" fill="none" stroke="#1a1af8" stroke-width="0.8"><circle cx="317.5" cy="136.5" r="1.28"/><circle cx="317.6" cy="138.5" r="1.28"/><circle cx="317.4" cy="140.5" r="1.28"/><circle cx="317.5" cy="145.3" r="1.28"/><circle cx="317.7" cy="148.9" r="1.28"/><circle cx="317.7" cy="154.2" r="1.28"/><circle cx="317.3" cy="168.3" r="1.28"/><circle cx="317.4" cy="205.4" r="1.28"/><circle cx="317.4" cy="133.8" r="1.28"/><circle cx="317.6" cy="133.8" r="1.28"/><circle cx="317.7" cy="133.7" r="1.28"/><circle cx="317.7" cy="134.0" r="1.28"/><circle cx="317.6" cy="133.9" r="1.28"/><circle cx="317.6" cy="133.9" r="1.28"/><circle cx="317.7" cy="134.1" r="1.28"/><circle cx="317.6" cy="133.8" r="1.28"/><circle cx="317.7" cy="134.2" r="1.28"/><circle cx="317.7" cy="134.0" r="1.28"/><circle cx="318.0" cy="134.1" r="1.28"/><circle cx="317.9" cy="134.0" r="1.28"/><circle cx="317.9" cy="134.0" r="1.28"/><circle cx="317.9" cy="134.1" r="1.28"/><circle cx="317.9" cy="134.0" r="1.28"/><circle cx="317.9" cy="134.1" r="1.28"/><circle cx="317.9" cy="134.0" r="1.28"/><circle cx="318.1" cy="134.1" r="1.28"/><circle cx="317.9" cy="134.0" r="1.28"/><circle cx="318.0" cy="134.3" r="1.28"/><circle cx="318.0" cy="134.2" r="1.28"/><circle cx="317.9" cy="134.2" r="1.28"/><circle cx="318.2" cy="134.0" r="1.28"/><circle cx="318.2" cy="134.3" r="1.28"/><circle cx="318.1" cy="134.5" r="1.28"/><circle cx="318.2" cy="134.5" r="1.28"/><circle cx="318.1" cy="134.5" r="1.28"/><circle cx="318.2" cy="134.2" r="1.28"/><circle cx="318.3" cy="134.5" r="1.28"/><circle cx="318.2" cy="134.6" r="1.28"/><circle cx="318.1" cy="134.4" r="1.28"/><circle cx="318.2" cy="134.5" r="1.28"/><circle cx="318.2" cy="134.5" r="1.28"/><circle cx="318.5" cy="134.4" r="1.28"/><circle cx="318.4" cy="134.6" r="1.28"/><circle cx="318.3" cy="134.8" r="1.28"/><circle cx="318.5" cy="134.6" r="1.28"/><circle cx="318.5" cy="134.8" r="1.28"/><circle cx="318.5" cy="134.7" r="1.28"/><circle cx="318.5" cy="134.8" r="1.28"/><circle cx="318.6" cy="134.7" r="1.28"/><circle cx="319.0" cy="135.0" r="1.28"/><circle cx="318.8" cy="135.1" r="1.28"/><circle cx="319.1" cy="135.4" r="1.28"/><circle cx="319.2" cy="134.9" r="1.28"/><circle cx="319.3" cy="135.3" r="1.28"/><circle cx="319.5" cy="135.4" r="1.28"/><circle cx="319.5" cy="135.8" r="1.28"/><circle cx="319.9" cy="135.9" r="1.28"/><circle cx="320.0" cy="135.8" r="1.28"/><circle cx="320.3" cy="136.2" r="1.28"/><circle cx="320.3" cy="136.0" r="1.28"/><circle cx="320.3" cy="136.5" r="1.28"/><circle cx="320.5" cy="136.4" r="1.28"/><circle cx="320.6" cy="136.6" r="1.28"/><circle cx="320.7" cy="136.6" r="1.28"/><circle cx="321.1" cy="136.6" r="1.28"/><circle cx="321.0" cy="136.9" r="1.28"/><circle cx="321.4" cy="137.1" r="1.28"/><circle cx="321.3" cy="137.1" r="1.28"/><circle cx="321.5" cy="137.0" r="1.28"/><circle cx="321.6" cy="137.3" r="1.28"/><circle cx="322.0" cy="137.3" r="1.28"/><circle cx="321.9" cy="137.5" r="1.28"/><circle cx="322.2" cy="137.4" r="1.28"/><circle cx="322.4" cy="137.4" r="1.28"/><circle cx="322.5" cy="137.8" r="1.28"/><circle cx="323.1" cy="138.4" r="1.28"/><circle cx="323.4" cy="138.3" r="1.28"/><circle cx="323.5" cy="138.3" r="1.28"/><circle cx="324.0" cy="138.4" r="1.28"/><circle cx="324.1" cy="138.4" r="1.28"/><circle cx="324.8" cy="138.9" r="1.28"/><circle cx="324.9" cy="139.3" r="1.28"/><circle cx="325.4" cy="139.3" r="1.28"/><circle cx="325.8" cy="139.3" r="1.28"/><circle cx="326.0" cy="139.3" r="1.28"/><circle cx="326.2" cy="139.9" r="1.28"/><circle cx="326.8" cy="139.8" r="1.28"/><circle cx="326.9" cy="140.0" r="1.28"/><circle cx="327.5" cy="139.9" r="1.28"/><circle cx="327.7" cy="140.2" r="1.28"/><circle cx="328.0" cy="140.1" r="1.28"/><circle cx="328.4" cy="140.5" r="1.28"/><circle cx="328.8" cy="141.3" r="1.28"/><circle cx="329.1" cy="140.7" r="1.28"/><circle cx="329.4" cy="140.5" r="1.28"/><circle cx="329.9" cy="141.0" r="1.28"/><circle cx="330.0" cy="140.9" r="1.28"/><circle cx="330.5" cy="141.0" r="1.28"/><circle cx="330.9" cy="140.9" r="1.28"/><circle cx="331.3" cy="141.4" r="1.28"/><circle cx="331.5" cy="142.1" r="1.28"/><circle cx="331.7" cy="141.9" r="1.28"/><circle cx="332.2" cy="141.1" r="1.28"/><circle cx="332.4" cy="141.6" r="1.28"/><circle cx="332.8" cy="142.2" r="1.28"/><circle cx="333.2" cy="142.0" r="1.28"/><circle cx="333.4" cy="142.2" r="1.28"/><circle cx="334.0" cy="142.5" r="1.28"/><circle cx="334.1" cy="143.2" r="1.28"/><circle cx="334.6" cy="143.1" r="1.28"/><circle cx="334.9" cy="142.7" r="1.28"/><circle cx="335.5" cy="143.0" r="1.28"/><circle cx="335.7" cy="143.0" r="1.28"/><circle cx="336.0" cy="143.3" r="1.28"/><circle cx="336.2" cy="143.7" r="1.28"/><circle cx="337.2" cy="143.5" r="1.28"/><circle cx="337.9" cy="143.6" r="1.28"/><circle cx="338.6" cy="144.9" r="1.28"/><circle cx="339.4" cy="144.3" r="1.28"/><circle cx="340.4" cy="144.8" r="1.28"/><circle cx="340.8" cy="145.1" r="1.28"/><circle cx="341.7" cy="145.1" r="1.28"/><circle cx="342.5" cy="145.4" r="1.28"/><circle cx="343.5" cy="146.6" r="1.28"/><circle cx="344.0" cy="146.6" r="1.28"/><circle cx="345.0" cy="146.6" r="1.28"/><circle cx="345.8" cy="150.4" r="1.28"/><circle cx="346.6" cy="146.9" r="1.28"/><circle cx="347.4" cy="150.4" r="1.28"/><circle cx="348.0" cy="145.2" r="1.28"/><circle cx="348.8" cy="147.0" r="1.28"/><circle cx="349.7" cy="148.5" r="1.28"/><circle cx="350.2" cy="146.8" r="1.28"/><circle cx="351.2" cy="147.6" r="1.28"/><circle cx="351.8" cy="147.8" r="1.28"/><circle cx="352.9" cy="148.6" r="1.28"/><circle cx="353.6" cy="149.2" r="1.28"/><circle cx="354.3" cy="149.8" r="1.28"/><circle cx="354.9" cy="145.9" r="1.28"/><circle cx="355.9" cy="150.1" r="1.28"/><circle cx="356.8" cy="150.9" r="1.28"/><circle cx="357.4" cy="150.3" r="1.28"/><circle cx="358.3" cy="150.2" r="1.28"/><circle cx="358.8" cy="149.8" r="1.28"/><circle cx="359.7" cy="150.9" r="1.28"/><circle cx="360.3" cy="150.0" r="1.28"/><circle cx="361.4" cy="151.0" r="1.28"/><circle cx="362.1" cy="151.9" r="1.28"/><circle cx="362.8" cy="150.7" r="1.28"/><circle cx="363.8" cy="152.1" r="1.28"/><circle cx="364.4" cy="150.7" r="1.28"/><circle cx="365.3" cy="153.3" r="1.28"/><circle cx="365.8" cy="151.5" r="1.28"/><circle cx="366.9" cy="147.8" r="1.28"/><circle cx="367.7" cy="153.9" r="1.28"/><circle cx="368.3" cy="152.2" r="1.28"/><circle cx="369.0" cy="152.7" r="1.28"/><circle cx="369.7" cy="152.5" r="1.28"/><circle cx="370.7" cy="156.3" r="1.28"/><circle cx="371.4" cy="153.0" r="1.28"/><circle cx="372.3" cy="154.7" r="1.28"/><circle cx="373.1" cy="153.9" r="1.28"/><circle cx="373.8" cy="152.5" r="1.28"/><circle cx="374.5" cy="154.8" r="1.28"/><circle cx="375.2" cy="153.8" r="1.28"/><circle cx="376.3" cy="154.6" r="1.28"/><circle cx="376.7" cy="154.1" r="1.28"/><circle cx="377.7" cy="156.3" r="1.28"/><circle cx="378.4" cy="156.2" r="1.28"/><circle cx="379.2" cy="155.6" r="1.28"/><circle cx="380.0" cy="153.0" r="1.28"/><circle cx="380.9" cy="155.7" r="1.28"/><circle cx="381.7" cy="155.5" r="1.28"/><circle cx="382.3" cy="155.9" r="1.28"/><circle cx="383.0" cy="160.2" r="1.28"/><circle cx="384.0" cy="155.5" r="1.28"/><circle cx="384.5" cy="155.6" r="1.28"/><circle cx="385.5" cy="156.8" r="1.28"/><circle cx="386.3" cy="156.8" r="1.28"/><circle cx="386.9" cy="156.2" r="1.28"/><circle cx="387.8" cy="157.4" r="1.28"/><circle cx="388.7" cy="156.9" r="1.28"/><circle cx="389.3" cy="156.5" r="1.28"/><circle cx="390.1" cy="157.8" r="1.28"/><circle cx="390.8" cy="158.9" r="1.28"/><circle cx="391.7" cy="157.7" r="1.28"/><circle cx="392.4" cy="156.9" r="1.28"/><circle cx="393.2" cy="157.1" r="1.28"/><circle cx="394.1" cy="158.4" r="1.28"/><circle cx="394.7" cy="159.7" r="1.28"/><circle cx="395.7" cy="160.5" r="1.28"/><circle cx="396.2" cy="159.3" r="1.28"/><circle cx="397.1" cy="160.7" r="1.28"/><circle cx="397.9" cy="156.9" r="1.28"/><circle cx="398.7" cy="157.7" r="1.28"/><circle cx="399.4" cy="160.8" r="1.28"/><circle cx="400.3" cy="157.9" r="1.28"/><circle cx="400.9" cy="158.2" r="1.28"/><circle cx="401.9" cy="157.3" r="1.28"/><circle cx="402.6" cy="159.5" r="1.28"/><circle cx="403.4" cy="160.4" r="1.28"/><circle cx="404.4" cy="160.6" r="1.28"/><circle cx="404.8" cy="158.9" r="1.28"/><circle cx="405.9" cy="159.1" r="1.28"/><circle cx="406.4" cy="161.4" r="1.28"/><circle cx="407.2" cy="159.2" r="1.28"/><circle cx="408.2" cy="159.9" r="1.28"/><circle cx="408.9" cy="164.1" r="1.28"/><circle cx="409.7" cy="157.6" r="1.28"/><circle cx="410.4" cy="159.3" r="1.28"/></g>
<polyline clip-path="url(#clipg)" points="318.44,134.61 318.56,134.71 318.68,134.82 318.80,134.92 318.92,135.02 319.04,135.13 319.16,135.23 319.28,135.33 319.40,135.43 319.52,135.54 319.64,135.64 319.76,135.74 319.88,135.83 320.00,135.93 320.12,136.03 320.24,136.13 320.36,136.22 320.48,136.32 320.60,136.41 320.72,136.50 320.84,136.59 320.96,136.68 321.08,136.77 321.20,136.86 321.32,136.95 321.44,137.04 321.56,137.12 321.68,137.20 321.80,137.29 321.92,137.37 322.04,137.45 322.16,137.53 322.28,137.61 322.40,137.68 322.52,137.76 322.64,137.83 322.76,137.90 322.88,137.97 323.00,138.04 323.12,138.11 323.27,138.19 324.01,138.58 324.75,138.94 325.49,139.27 326.22,139.59 326.96,139.89 327.70,140.17 328.44,140.45 329.18,140.71 329.91,140.97 330.65,141.23 331.39,141.49 332.13,141.75 332.87,142.01 333.60,142.29 334.34,142.56 335.08,142.84 335.82,143.11 336.56,143.38 337.29,143.65 338.03,143.91 338.77,144.18 339.51,144.44 340.25,144.70 340.99,144.96 341.72,145.21 342.46,145.46 343.20,145.71 343.94,145.96 344.68,146.21 345.41,146.46 346.15,146.71 346.89,146.95 347.63,147.20 348.37,147.44 349.10,147.68 349.84,147.91 350.58,148.14 351.32,148.37 352.06,148.59 352.79,148.80 353.53,149.00 354.27,149.20 355.01,149.39 355.75,149.57 356.48,149.74 357.22,149.91 357.96,150.08 358.70,150.24 359.44,150.41 360.17,150.57 360.91,150.73 361.65,150.90 362.39,151.07 363.13,151.25 363.86,151.43 364.60,151.62 365.34,151.82 366.08,152.03 366.82,152.24 367.56,152.45 368.29,152.67 369.03,152.89 369.77,153.10 370.51,153.32 371.25,153.53 371.98,153.73 372.72,153.93 373.46,154.11 374.20,154.29 374.94,154.46 375.67,154.62 376.41,154.77 377.15,154.92 377.89,155.07 378.63,155.21 379.36,155.35 380.10,155.49 380.84,155.63 381.58,155.77 382.32,155.91 383.05,156.05 383.79,156.19 384.53,156.34 385.27,156.48 386.01,156.64 386.74,156.79 387.48,156.95 388.22,157.10 388.96,157.26 389.70,157.41 390.43,157.56 391.17,157.71 391.91,157.85 392.65,157.98 393.39,158.11 394.12,158.23 394.86,158.34 395.60,158.44 396.34,158.54 397.08,158.63 397.82,158.71 398.55,158.80 399.29,158.88 400.03,158.96 400.77,159.04 401.51,159.12 402.24,159.20 402.98,159.28 403.72,159.37 404.46,159.47 405.20,159.57 405.93,159.67 406.67,159.77 407.41,159.88 408.15,159.99 408.89,160.10 409.62,160.22 410.36,160.33 411.10,160.45" fill="none" stroke="#ff2a1a" stroke-width="0.7"/>
<rect x="314.30" y="123.10" width="97.20" height="96.60" fill="none" stroke="#5a5a5a" stroke-width="1.1"/>
<path d="M317.50,219.70v-2M317.50,123.10v2M333.10,219.70v-2M333.10,123.10v2M348.70,219.70v-2M348.70,123.10v2M364.30,219.70v-2M364.30,123.10v2M379.90,219.70v-2M379.90,123.10v2M395.50,219.70v-2M395.50,123.10v2M314.30,207.70h1.1M411.50,207.70h-1.1M314.30,200.62h1.1M411.50,200.62h-1.1M314.30,195.60h1.1M411.50,195.60h-1.1M314.30,191.70h1.1M411.50,191.70h-1.1M314.30,188.52h1.1M411.50,188.52h-1.1M314.30,185.83h1.1M411.50,185.83h-1.1M314.30,183.50h1.1M411.50,183.50h-1.1M314.30,181.44h1.1M411.50,181.44h-1.1M314.30,179.60h2.0M411.50,179.60h-2.0M314.30,167.50h1.1M411.50,167.50h-1.1M314.30,160.42h1.1M411.50,160.42h-1.1M314.30,155.40h1.1M411.50,155.40h-1.1M314.30,151.50h1.1M411.50,151.50h-1.1M314.30,148.32h1.1M411.50,148.32h-1.1M314.30,145.63h1.1M411.50,145.63h-1.1M314.30,143.30h1.1M411.50,143.30h-1.1M314.30,141.24h1.1M411.50,141.24h-1.1M314.30,139.40h2.0M411.50,139.40h-2.0M314.30,127.30h1.1M411.50,127.30h-1.1" stroke="#444" stroke-width="0.7" fill="none"/>
<text x="318.00" y="228.50" text-anchor="middle" font-family="'Liberation Serif', 'Times New Roman', serif" fill="#2e2e2e" stroke="#2e2e2e" stroke-width="0.1" font-size="8.8px">0</text>
<text x="349.20" y="228.50" text-anchor="middle" font-family="'Liberation Serif', 'Times New Roman', serif" fill="#2e2e2e" stroke="#2e2e2e" stroke-width="0.1" font-size="8.8px">200</text>
<text x="380.40" y="228.50" text-anchor="middle" font-family="'Liberation Serif', 'Times New Roman', serif" fill="#2e2e2e" stroke="#2e2e2e" stroke-width="0.1" font-size="8.8px">400</text>
<text x="411.60" y="228.50" text-anchor="middle" font-family="'Liberation Serif', 'Times New Roman', serif" fill="#2e2e2e" stroke="#2e2e2e" stroke-width="0.1" font-size="8.8px">600</text>
<text x="363.00" y="235.80" text-anchor="middle" font-family="'Liberation Serif', 'Times New Roman', serif" fill="#2e2e2e" stroke="#2e2e2e" stroke-width="0.1" font-size="8.8px">Probe Delay (ps)</text>
<text x="312.40" y="142.30" text-anchor="end" font-family="'Liberation Serif', 'Times New Roman', serif" fill="#2e2e2e" stroke="#2e2e2e" stroke-width="0.1" font-size="8.5px">10<tspan dx="0.5" dy="-4.4" font-size="4.5px" letter-spacing="-0.3">-3</tspan></text>
<text x="312.40" y="182.50" text-anchor="end" font-family="'Liberation Serif', 'Times New Roman', serif" fill="#2e2e2e" stroke="#2e2e2e" stroke-width="0.1" font-size="8.5px">10<tspan dx="0.5" dy="-4.4" font-size="4.5px" letter-spacing="-0.3">-4</tspan></text>
<text x="312.40" y="222.70" text-anchor="end" font-family="'Liberation Serif', 'Times New Roman', serif" fill="#2e2e2e" stroke="#2e2e2e" stroke-width="0.1" font-size="8.5px">10<tspan dx="0.5" dy="-4.4" font-size="4.5px" letter-spacing="-0.3">-5</tspan></text>
<text transform="translate(297.50,170.90) rotate(-90)" text-anchor="middle" font-family="'Liberation Serif', 'Times New Roman', serif" fill="#2e2e2e" stroke="#2e2e2e" stroke-width="0.1" font-style="italic" font-size="8.8px"><tspan font-style="normal">&#916;</tspan>R/R<tspan dy="1.4" font-size="5.8px" font-style="normal">0</tspan></text>
<text x="409.90" y="135.80" text-anchor="end" font-family="'Liberation Sans', Arial, sans-serif" font-weight="bold" font-size="13.9px" fill="#0c0c0c" stroke="#0c0c0c" stroke-width="0.3">(g)</text>
<text x="398.80" y="210.40" text-anchor="end" font-family="'Liberation Serif', 'Times New Roman', serif" fill="#2e2e2e" stroke="#2e2e2e" stroke-width="0.1" font-size="11.1px">262 ps</text>
<rect x="442.80" y="122.20" width="97.70" height="97.50" fill="#fff"/>
<clipPath id="cliph"><rect x="443.20" y="122.20" width="97.30" height="97.20"/></clipPath>
<g clip-path="url(#cliph)" fill="#6a6ae6"><circle cx="445.7" cy="136.0" r="1.15"/><circle cx="445.5" cy="137.2" r="1.15"/><circle cx="445.7" cy="138.5" r="1.15"/><circle cx="445.6" cy="139.8" r="1.15"/><circle cx="445.6" cy="141.0" r="1.15"/><circle cx="445.4" cy="142.2" r="1.15"/><circle cx="445.7" cy="143.5" r="1.15"/><circle cx="445.3" cy="144.8" r="1.15"/><circle cx="445.4" cy="146.0" r="1.15"/><circle cx="445.5" cy="147.2" r="1.15"/><circle cx="445.6" cy="148.5" r="1.15"/><circle cx="445.3" cy="149.8" r="1.15"/><circle cx="445.7" cy="151.0" r="1.15"/><circle cx="445.7" cy="152.8" r="1.15"/><circle cx="445.3" cy="157.0" r="1.15"/><circle cx="445.5" cy="165.2" r="1.15"/><circle cx="445.3" cy="169.0" r="1.15"/><circle cx="445.4" cy="176.7" r="1.15"/><circle cx="445.3" cy="181.0" r="1.15"/><circle cx="445.7" cy="183.5" r="1.15"/><circle cx="445.5" cy="185.7" r="1.15"/><circle cx="445.7" cy="190.3" r="1.15"/><circle cx="445.6" cy="191.1" r="1.15"/><circle cx="445.7" cy="204.0" r="1.15"/><circle cx="445.3" cy="215.0" r="1.15"/><circle cx="445.4" cy="141.3" r="1.15"/><circle cx="445.7" cy="139.7" r="1.15"/><circle cx="445.8" cy="140.1" r="1.15"/><circle cx="445.6" cy="136.8" r="1.15"/><circle cx="445.7" cy="139.4" r="1.15"/><circle cx="445.6" cy="140.0" r="1.15"/><circle cx="445.8" cy="136.7" r="1.15"/><circle cx="445.8" cy="138.8" r="1.15"/><circle cx="445.8" cy="136.9" r="1.15"/><circle cx="445.8" cy="136.1" r="1.15"/><circle cx="445.8" cy="137.2" r="1.15"/><circle cx="446.0" cy="135.4" r="1.15"/><circle cx="445.7" cy="137.7" r="1.15"/><circle cx="445.9" cy="135.4" r="1.15"/><circle cx="445.9" cy="137.4" r="1.15"/><circle cx="446.1" cy="136.1" r="1.15"/><circle cx="446.0" cy="134.9" r="1.15"/><circle cx="446.1" cy="135.4" r="1.15"/><circle cx="445.8" cy="136.4" r="1.15"/><circle cx="446.0" cy="137.0" r="1.15"/><circle cx="446.2" cy="136.7" r="1.15"/><circle cx="446.1" cy="135.3" r="1.15"/><circle cx="446.1" cy="135.5" r="1.15"/><circle cx="446.0" cy="136.1" r="1.15"/><circle cx="446.2" cy="134.7" r="1.15"/><circle cx="446.0" cy="137.0" r="1.15"/><circle cx="446.2" cy="136.2" r="1.15"/><circle cx="446.2" cy="135.3" r="1.15"/><circle cx="446.3" cy="135.8" r="1.15"/><circle cx="446.2" cy="136.8" r="1.15"/><circle cx="446.1" cy="136.0" r="1.15"/><circle cx="446.2" cy="136.2" r="1.15"/><circle cx="446.2" cy="135.5" r="1.15"/><circle cx="446.3" cy="136.5" r="1.15"/><circle cx="446.3" cy="137.0" r="1.15"/><circle cx="446.3" cy="134.6" r="1.15"/><circle cx="446.6" cy="134.4" r="1.15"/><circle cx="446.6" cy="134.3" r="1.15"/><circle cx="446.5" cy="135.1" r="1.15"/><circle cx="446.7" cy="135.7" r="1.15"/><circle cx="446.6" cy="135.1" r="1.15"/><circle cx="446.9" cy="136.3" r="1.15"/><circle cx="447.1" cy="135.7" r="1.15"/><circle cx="447.1" cy="134.9" r="1.15"/><circle cx="447.4" cy="135.2" r="1.15"/><circle cx="447.5" cy="135.8" r="1.15"/><circle cx="447.6" cy="134.8" r="1.15"/><circle cx="447.7" cy="135.2" r="1.15"/><circle cx="447.8" cy="134.6" r="1.15"/><circle cx="448.2" cy="136.6" r="1.15"/><circle cx="448.1" cy="135.2" r="1.15"/><circle cx="448.2" cy="134.4" r="1.15"/><circle cx="448.6" cy="134.5" r="1.15"/><circle cx="448.7" cy="135.9" r="1.15"/><circle cx="448.7" cy="133.9" r="1.15"/><circle cx="449.0" cy="135.0" r="1.15"/><circle cx="449.1" cy="135.2" r="1.15"/><circle cx="449.0" cy="134.3" r="1.15"/><circle cx="449.3" cy="135.2" r="1.15"/><circle cx="449.3" cy="135.2" r="1.15"/><circle cx="449.7" cy="133.1" r="1.15"/><circle cx="449.6" cy="134.0" r="1.15"/><circle cx="450.0" cy="135.1" r="1.15"/><circle cx="450.2" cy="134.5" r="1.15"/><circle cx="450.3" cy="134.7" r="1.15"/><circle cx="450.4" cy="133.9" r="1.15"/><circle cx="450.5" cy="134.9" r="1.15"/><circle cx="450.8" cy="134.6" r="1.15"/><circle cx="451.2" cy="133.5" r="1.15"/><circle cx="451.5" cy="133.8" r="1.15"/><circle cx="452.0" cy="134.1" r="1.15"/><circle cx="452.5" cy="134.2" r="1.15"/><circle cx="452.7" cy="135.9" r="1.15"/><circle cx="453.2" cy="133.4" r="1.15"/><circle cx="453.3" cy="134.7" r="1.15"/><circle cx="453.9" cy="134.5" r="1.15"/><circle cx="454.1" cy="133.7" r="1.15"/><circle cx="454.3" cy="132.9" r="1.15"/><circle cx="454.6" cy="133.4" r="1.15"/><circle cx="455.2" cy="133.2" r="1.15"/><circle cx="455.3" cy="132.8" r="1.15"/><circle cx="455.6" cy="132.3" r="1.15"/><circle cx="456.1" cy="132.3" r="1.15"/><circle cx="456.3" cy="133.3" r="1.15"/><circle cx="456.7" cy="133.9" r="1.15"/><circle cx="457.3" cy="133.4" r="1.15"/><circle cx="457.5" cy="133.4" r="1.15"/><circle cx="458.0" cy="132.7" r="1.15"/><circle cx="458.3" cy="133.2" r="1.15"/><circle cx="458.7" cy="133.8" r="1.15"/><circle cx="458.9" cy="133.1" r="1.15"/><circle cx="459.1" cy="133.7" r="1.15"/><circle cx="459.6" cy="134.0" r="1.15"/><circle cx="459.8" cy="132.9" r="1.15"/><circle cx="460.1" cy="132.8" r="1.15"/><circle cx="460.5" cy="133.0" r="1.15"/><circle cx="461.1" cy="133.0" r="1.15"/><circle cx="461.2" cy="133.1" r="1.15"/><circle cx="461.5" cy="133.4" r="1.15"/><circle cx="461.8" cy="133.2" r="1.15"/><circle cx="462.5" cy="133.1" r="1.15"/><circle cx="462.7" cy="132.9" r="1.15"/><circle cx="462.9" cy="132.9" r="1.15"/><circle cx="463.4" cy="133.0" r="1.15"/><circle cx="463.7" cy="133.1" r="1.15"/><circle cx="463.9" cy="133.0" r="1.15"/><circle cx="464.2" cy="132.9" r="1.15"/><circle cx="465.2" cy="133.1" r="1.15"/><circle cx="465.8" cy="133.3" r="1.15"/><circle cx="466.7" cy="133.1" r="1.15"/><circle cx="467.4" cy="133.0" r="1.15"/><circle cx="468.4" cy="133.2" r="1.15"/><circle cx="469.1" cy="133.0" r="1.15"/><circle cx="469.8" cy="132.9" r="1.15"/><circle cx="470.5" cy="133.2" r="1.15"/><circle cx="471.5" cy="133.5" r="1.15"/><circle cx="472.3" cy="133.3" r="1.15"/><circle cx="473.2" cy="132.6" r="1.15"/><circle cx="473.9" cy="133.2" r="1.15"/><circle cx="474.6" cy="133.4" r="1.15"/><circle cx="475.3" cy="133.6" r="1.15"/><circle cx="476.1" cy="133.1" r="1.15"/><circle cx="476.8" cy="133.1" r="1.15"/><circle cx="477.7" cy="133.5" r="1.15"/><circle cx="478.4" cy="133.5" r="1.15"/><circle cx="479.2" cy="133.4" r="1.15"/><circle cx="480.1" cy="133.3" r="1.15"/><circle cx="480.7" cy="133.1" r="1.15"/><circle cx="481.4" cy="133.4" r="1.15"/><circle cx="482.5" cy="133.9" r="1.15"/><circle cx="483.2" cy="133.5" r="1.15"/><circle cx="484.0" cy="133.6" r="1.15"/><circle cx="484.6" cy="133.7" r="1.15"/><circle cx="485.5" cy="133.6" r="1.15"/><circle cx="486.5" cy="133.7" r="1.15"/><circle cx="487.0" cy="133.5" r="1.15"/><circle cx="488.0" cy="133.8" r="1.15"/><circle cx="488.8" cy="134.0" r="1.15"/><circle cx="489.3" cy="134.1" r="1.15"/><circle cx="490.3" cy="134.0" r="1.15"/><circle cx="491.0" cy="133.3" r="1.15"/><circle cx="491.9" cy="133.7" r="1.15"/><circle cx="492.5" cy="133.7" r="1.15"/><circle cx="493.2" cy="133.9" r="1.15"/><circle cx="494.1" cy="134.0" r="1.15"/><circle cx="494.8" cy="134.0" r="1.15"/><circle cx="495.5" cy="133.7" r="1.15"/><circle cx="496.5" cy="134.2" r="1.15"/><circle cx="497.1" cy="133.8" r="1.15"/><circle cx="498.0" cy="133.3" r="1.15"/><circle cx="498.6" cy="134.2" r="1.15"/><circle cx="499.6" cy="134.2" r="1.15"/><circle cx="500.5" cy="135.1" r="1.15"/><circle cx="501.2" cy="134.1" r="1.15"/><circle cx="502.1" cy="134.3" r="1.15"/><circle cx="502.9" cy="135.4" r="1.15"/><circle cx="503.6" cy="134.8" r="1.15"/><circle cx="504.2" cy="133.9" r="1.15"/><circle cx="505.1" cy="134.6" r="1.15"/><circle cx="505.9" cy="134.8" r="1.15"/><circle cx="506.7" cy="134.4" r="1.15"/><circle cx="507.4" cy="134.6" r="1.15"/><circle cx="508.1" cy="134.6" r="1.15"/><circle cx="508.9" cy="134.6" r="1.15"/><circle cx="509.6" cy="133.9" r="1.15"/><circle cx="510.5" cy="134.9" r="1.15"/><circle cx="511.4" cy="134.5" r="1.15"/><circle cx="512.2" cy="135.4" r="1.15"/><circle cx="513.0" cy="134.8" r="1.15"/><circle cx="513.9" cy="134.6" r="1.15"/><circle cx="514.6" cy="135.0" r="1.15"/><circle cx="515.4" cy="134.9" r="1.15"/><circle cx="515.8" cy="133.9" r="1.15"/><circle cx="516.6" cy="134.0" r="1.15"/><circle cx="517.4" cy="134.6" r="1.15"/><circle cx="518.2" cy="134.9" r="1.15"/><circle cx="519.3" cy="135.8" r="1.15"/><circle cx="520.0" cy="134.8" r="1.15"/><circle cx="520.6" cy="135.3" r="1.15"/><circle cx="521.4" cy="134.2" r="1.15"/><circle cx="522.3" cy="134.9" r="1.15"/><circle cx="523.0" cy="134.4" r="1.15"/><circle cx="523.8" cy="135.1" r="1.15"/><circle cx="524.8" cy="134.6" r="1.15"/><circle cx="525.5" cy="135.2" r="1.15"/><circle cx="526.1" cy="134.2" r="1.15"/><circle cx="526.8" cy="135.1" r="1.15"/><circle cx="527.7" cy="134.5" r="1.15"/><circle cx="528.7" cy="134.7" r="1.15"/><circle cx="529.4" cy="135.2" r="1.15"/><circle cx="530.2" cy="134.8" r="1.15"/><circle cx="531.0" cy="134.7" r="1.15"/><circle cx="531.7" cy="134.5" r="1.15"/><circle cx="532.6" cy="134.8" r="1.15"/><circle cx="533.2" cy="134.3" r="1.15"/><circle cx="534.1" cy="135.1" r="1.15"/><circle cx="534.7" cy="135.8" r="1.15"/><circle cx="535.7" cy="135.0" r="1.15"/><circle cx="536.3" cy="135.2" r="1.15"/><circle cx="537.3" cy="135.2" r="1.15"/><circle cx="537.7" cy="134.3" r="1.15"/><circle cx="538.8" cy="135.5" r="1.15"/></g><g clip-path="url(#cliph)" fill="none" stroke="#1a1af8" stroke-width="0.8"><circle cx="445.7" cy="136.0" r="1.28"/><circle cx="445.5" cy="137.2" r="1.28"/><circle cx="445.7" cy="138.5" r="1.28"/><circle cx="445.6" cy="139.8" r="1.28"/><circle cx="445.6" cy="141.0" r="1.28"/><circle cx="445.4" cy="142.2" r="1.28"/><circle cx="445.7" cy="143.5" r="1.28"/><circle cx="445.3" cy="144.8" r="1.28"/><circle cx="445.4" cy="146.0" r="1.28"/><circle cx="445.5" cy="147.2" r="1.28"/><circle cx="445.6" cy="148.5" r="1.28"/><circle cx="445.3" cy="149.8" r="1.28"/><circle cx="445.7" cy="151.0" r="1.28"/><circle cx="445.7" cy="152.8" r="1.28"/><circle cx="445.3" cy="157.0" r="1.28"/><circle cx="445.5" cy="165.2" r="1.28"/><circle cx="445.3" cy="169.0" r="1.28"/><circle cx="445.4" cy="176.7" r="1.28"/><circle cx="445.3" cy="181.0" r="1.28"/><circle cx="445.7" cy="183.5" r="1.28"/><circle cx="445.5" cy="185.7" r="1.28"/><circle cx="445.7" cy="190.3" r="1.28"/><circle cx="445.6" cy="191.1" r="1.28"/><circle cx="445.7" cy="204.0" r="1.28"/><circle cx="445.3" cy="215.0" r="1.28"/><circle cx="445.4" cy="141.3" r="1.28"/><circle cx="445.7" cy="139.7" r="1.28"/><circle cx="445.8" cy="140.1" r="1.28"/><circle cx="445.6" cy="136.8" r="1.28"/><circle cx="445.7" cy="139.4" r="1.28"/><circle cx="445.6" cy="140.0" r="1.28"/><circle cx="445.8" cy="136.7" r="1.28"/><circle cx="445.8" cy="138.8" r="1.28"/><circle cx="445.8" cy="136.9" r="1.28"/><circle cx="445.8" cy="136.1" r="1.28"/><circle cx="445.8" cy="137.2" r="1.28"/><circle cx="446.0" cy="135.4" r="1.28"/><circle cx="445.7" cy="137.7" r="1.28"/><circle cx="445.9" cy="135.4" r="1.28"/><circle cx="445.9" cy="137.4" r="1.28"/><circle cx="446.1" cy="136.1" r="1.28"/><circle cx="446.0" cy="134.9" r="1.28"/><circle cx="446.1" cy="135.4" r="1.28"/><circle cx="445.8" cy="136.4" r="1.28"/><circle cx="446.0" cy="137.0" r="1.28"/><circle cx="446.2" cy="136.7" r="1.28"/><circle cx="446.1" cy="135.3" r="1.28"/><circle cx="446.1" cy="135.5" r="1.28"/><circle cx="446.0" cy="136.1" r="1.28"/><circle cx="446.2" cy="134.7" r="1.28"/><circle cx="446.0" cy="137.0" r="1.28"/><circle cx="446.2" cy="136.2" r="1.28"/><circle cx="446.2" cy="135.3" r="1.28"/><circle cx="446.3" cy="135.8" r="1.28"/><circle cx="446.2" cy="136.8" r="1.28"/><circle cx="446.1" cy="136.0" r="1.28"/><circle cx="446.2" cy="136.2" r="1.28"/><circle cx="446.2" cy="135.5" r="1.28"/><circle cx="446.3" cy="136.5" r="1.28"/><circle cx="446.3" cy="137.0" r="1.28"/><circle cx="446.3" cy="134.6" r="1.28"/><circle cx="446.6" cy="134.4" r="1.28"/><circle cx="446.6" cy="134.3" r="1.28"/><circle cx="446.5" cy="135.1" r="1.28"/><circle cx="446.7" cy="135.7" r="1.28"/><circle cx="446.6" cy="135.1" r="1.28"/><circle cx="446.9" cy="136.3" r="1.28"/><circle cx="447.1" cy="135.7" r="1.28"/><circle cx="447.1" cy="134.9" r="1.28"/><circle cx="447.4" cy="135.2" r="1.28"/><circle cx="447.5" cy="135.8" r="1.28"/><circle cx="447.6" cy="134.8" r="1.28"/><circle cx="447.7" cy="135.2" r="1.28"/><circle cx="447.8" cy="134.6" r="1.28"/><circle cx="448.2" cy="136.6" r="1.28"/><circle cx="448.1" cy="135.2" r="1.28"/><circle cx="448.2" cy="134.4" r="1.28"/><circle cx="448.6" cy="134.5" r="1.28"/><circle cx="448.7" cy="135.9" r="1.28"/><circle cx="448.7" cy="133.9" r="1.28"/><circle cx="449.0" cy="135.0" r="1.28"/><circle cx="449.1" cy="135.2" r="1.28"/><circle cx="449.0" cy="134.3" r="1.28"/><circle cx="449.3" cy="135.2" r="1.28"/><circle cx="449.3" cy="135.2" r="1.28"/><circle cx="449.7" cy="133.1" r="1.28"/><circle cx="449.6" cy="134.0" r="1.28"/><circle cx="450.0" cy="135.1" r="1.28"/><circle cx="450.2" cy="134.5" r="1.28"/><circle cx="450.3" cy="134.7" r="1.28"/><circle cx="450.4" cy="133.9" r="1.28"/><circle cx="450.5" cy="134.9" r="1.28"/><circle cx="450.8" cy="134.6" r="1.28"/><circle cx="451.2" cy="133.5" r="1.28"/><circle cx="451.5" cy="133.8" r="1.28"/><circle cx="452.0" cy="134.1" r="1.28"/><circle cx="452.5" cy="134.2" r="1.28"/><circle cx="452.7" cy="135.9" r="1.28"/><circle cx="453.2" cy="133.4" r="1.28"/><circle cx="453.3" cy="134.7" r="1.28"/><circle cx="453.9" cy="134.5" r="1.28"/><circle cx="454.1" cy="133.7" r="1.28"/><circle cx="454.3" cy="132.9" r="1.28"/><circle cx="454.6" cy="133.4" r="1.28"/><circle cx="455.2" cy="133.2" r="1.28"/><circle cx="455.3" cy="132.8" r="1.28"/><circle cx="455.6" cy="132.3" r="1.28"/><circle cx="456.1" cy="132.3" r="1.28"/><circle cx="456.3" cy="133.3" r="1.28"/><circle cx="456.7" cy="133.9" r="1.28"/><circle cx="457.3" cy="133.4" r="1.28"/><circle cx="457.5" cy="133.4" r="1.28"/><circle cx="458.0" cy="132.7" r="1.28"/><circle cx="458.3" cy="133.2" r="1.28"/><circle cx="458.7" cy="133.8" r="1.28"/><circle cx="458.9" cy="133.1" r="1.28"/><circle cx="459.1" cy="133.7" r="1.28"/><circle cx="459.6" cy="134.0" r="1.28"/><circle cx="459.8" cy="132.9" r="1.28"/><circle cx="460.1" cy="132.8" r="1.28"/><circle cx="460.5" cy="133.0" r="1.28"/><circle cx="461.1" cy="133.0" r="1.28"/><circle cx="461.2" cy="133.1" r="1.28"/><circle cx="461.5" cy="133.4" r="1.28"/><circle cx="461.8" cy="133.2" r="1.28"/><circle cx="462.5" cy="133.1" r="1.28"/><circle cx="462.7" cy="132.9" r="1.28"/><circle cx="462.9" cy="132.9" r="1.28"/><circle cx="463.4" cy="133.0" r="1.28"/><circle cx="463.7" cy="133.1" r="1.28"/><circle cx="463.9" cy="133.0" r="1.28"/><circle cx="464.2" cy="132.9" r="1.28"/><circle cx="465.2" cy="133.1" r="1.28"/><circle cx="465.8" cy="133.3" r="1.28"/><circle cx="466.7" cy="133.1" r="1.28"/><circle cx="467.4" cy="133.0" r="1.28"/><circle cx="468.4" cy="133.2" r="1.28"/><circle cx="469.1" cy="133.0" r="1.28"/><circle cx="469.8" cy="132.9" r="1.28"/><circle cx="470.5" cy="133.2" r="1.28"/><circle cx="471.5" cy="133.5" r="1.28"/><circle cx="472.3" cy="133.3" r="1.28"/><circle cx="473.2" cy="132.6" r="1.28"/><circle cx="473.9" cy="133.2" r="1.28"/><circle cx="474.6" cy="133.4" r="1.28"/><circle cx="475.3" cy="133.6" r="1.28"/><circle cx="476.1" cy="133.1" r="1.28"/><circle cx="476.8" cy="133.1" r="1.28"/><circle cx="477.7" cy="133.5" r="1.28"/><circle cx="478.4" cy="133.5" r="1.28"/><circle cx="479.2" cy="133.4" r="1.28"/><circle cx="480.1" cy="133.3" r="1.28"/><circle cx="480.7" cy="133.1" r="1.28"/><circle cx="481.4" cy="133.4" r="1.28"/><circle cx="482.5" cy="133.9" r="1.28"/><circle cx="483.2" cy="133.5" r="1.28"/><circle cx="484.0" cy="133.6" r="1.28"/><circle cx="484.6" cy="133.7" r="1.28"/><circle cx="485.5" cy="133.6" r="1.28"/><circle cx="486.5" cy="133.7" r="1.28"/><circle cx="487.0" cy="133.5" r="1.28"/><circle cx="488.0" cy="133.8" r="1.28"/><circle cx="488.8" cy="134.0" r="1.28"/><circle cx="489.3" cy="134.1" r="1.28"/><circle cx="490.3" cy="134.0" r="1.28"/><circle cx="491.0" cy="133.3" r="1.28"/><circle cx="491.9" cy="133.7" r="1.28"/><circle cx="492.5" cy="133.7" r="1.28"/><circle cx="493.2" cy="133.9" r="1.28"/><circle cx="494.1" cy="134.0" r="1.28"/><circle cx="494.8" cy="134.0" r="1.28"/><circle cx="495.5" cy="133.7" r="1.28"/><circle cx="496.5" cy="134.2" r="1.28"/><circle cx="497.1" cy="133.8" r="1.28"/><circle cx="498.0" cy="133.3" r="1.28"/><circle cx="498.6" cy="134.2" r="1.28"/><circle cx="499.6" cy="134.2" r="1.28"/><circle cx="500.5" cy="135.1" r="1.28"/><circle cx="501.2" cy="134.1" r="1.28"/><circle cx="502.1" cy="134.3" r="1.28"/><circle cx="502.9" cy="135.4" r="1.28"/><circle cx="503.6" cy="134.8" r="1.28"/><circle cx="504.2" cy="133.9" r="1.28"/><circle cx="505.1" cy="134.6" r="1.28"/><circle cx="505.9" cy="134.8" r="1.28"/><circle cx="506.7" cy="134.4" r="1.28"/><circle cx="507.4" cy="134.6" r="1.28"/><circle cx="508.1" cy="134.6" r="1.28"/><circle cx="508.9" cy="134.6" r="1.28"/><circle cx="509.6" cy="133.9" r="1.28"/><circle cx="510.5" cy="134.9" r="1.28"/><circle cx="511.4" cy="134.5" r="1.28"/><circle cx="512.2" cy="135.4" r="1.28"/><circle cx="513.0" cy="134.8" r="1.28"/><circle cx="513.9" cy="134.6" r="1.28"/><circle cx="514.6" cy="135.0" r="1.28"/><circle cx="515.4" cy="134.9" r="1.28"/><circle cx="515.8" cy="133.9" r="1.28"/><circle cx="516.6" cy="134.0" r="1.28"/><circle cx="517.4" cy="134.6" r="1.28"/><circle cx="518.2" cy="134.9" r="1.28"/><circle cx="519.3" cy="135.8" r="1.28"/><circle cx="520.0" cy="134.8" r="1.28"/><circle cx="520.6" cy="135.3" r="1.28"/><circle cx="521.4" cy="134.2" r="1.28"/><circle cx="522.3" cy="134.9" r="1.28"/><circle cx="523.0" cy="134.4" r="1.28"/><circle cx="523.8" cy="135.1" r="1.28"/><circle cx="524.8" cy="134.6" r="1.28"/><circle cx="525.5" cy="135.2" r="1.28"/><circle cx="526.1" cy="134.2" r="1.28"/><circle cx="526.8" cy="135.1" r="1.28"/><circle cx="527.7" cy="134.5" r="1.28"/><circle cx="528.7" cy="134.7" r="1.28"/><circle cx="529.4" cy="135.2" r="1.28"/><circle cx="530.2" cy="134.8" r="1.28"/><circle cx="531.0" cy="134.7" r="1.28"/><circle cx="531.7" cy="134.5" r="1.28"/><circle cx="532.6" cy="134.8" r="1.28"/><circle cx="533.2" cy="134.3" r="1.28"/><circle cx="534.1" cy="135.1" r="1.28"/><circle cx="534.7" cy="135.8" r="1.28"/><circle cx="535.7" cy="135.0" r="1.28"/><circle cx="536.3" cy="135.2" r="1.28"/><circle cx="537.3" cy="135.2" r="1.28"/><circle cx="537.7" cy="134.3" r="1.28"/><circle cx="538.8" cy="135.5" r="1.28"/></g>
<polyline clip-path="url(#cliph)" points="460.37,133.09 460.49,133.09 460.61,133.09 460.73,133.09 460.85,133.09 460.97,133.09 461.09,133.09 461.21,133.09 461.33,133.09 461.45,133.09 461.57,133.09 461.69,133.09 461.81,133.09 461.93,133.09 462.05,133.09 462.17,133.09 462.29,133.09 462.41,133.09 462.53,133.09 462.65,133.09 462.78,133.10 462.90,133.10 463.02,133.10 463.14,133.10 463.26,133.10 463.38,133.10 463.50,133.10 463.62,133.10 463.74,133.10 463.86,133.10 463.98,133.10 464.10,133.11 464.22,133.11 464.34,133.11 464.46,133.11 464.58,133.11 464.70,133.11 464.82,133.11 464.94,133.11 465.06,133.12 465.22,133.12 465.84,133.13 466.47,133.13 467.09,133.14 467.71,133.15 468.34,133.17 468.96,133.18 469.58,133.19 470.21,133.20 470.83,133.22 471.45,133.23 472.08,133.25 472.70,133.26 473.32,133.28 473.95,133.30 474.57,133.31 475.19,133.33 475.82,133.35 476.44,133.37 477.06,133.39 477.69,133.41 478.31,133.43 478.93,133.45 479.56,133.47 480.18,133.49 480.80,133.51 481.43,133.53 482.05,133.55 482.67,133.58 483.30,133.60 483.92,133.62 484.54,133.64 485.17,133.67 485.79,133.69 486.41,133.71 487.04,133.73 487.66,133.76 488.28,133.78 488.91,133.80 489.53,133.82 490.15,133.85 490.78,133.87 491.40,133.89 492.02,133.91 492.65,133.94 493.27,133.96 493.89,133.98 494.52,134.00 495.14,134.02 495.76,134.04 496.39,134.06 497.01,134.08 497.63,134.10 498.26,134.12 498.88,134.14 499.50,134.16 500.13,134.18 500.75,134.20 501.37,134.21 502.00,134.23 502.62,134.25 503.24,134.26 503.87,134.28 504.49,134.29 505.11,134.31 505.74,134.33 506.36,134.34 506.98,134.36 507.61,134.37 508.23,134.39 508.85,134.41 509.48,134.42 510.10,134.44 510.72,134.45 511.35,134.47 511.97,134.49 512.60,134.50 513.22,134.52 513.84,134.53 514.47,134.55 515.09,134.57 515.71,134.58 516.34,134.60 516.96,134.61 517.58,134.63 518.21,134.64 518.83,134.66 519.45,134.68 520.08,134.69 520.70,134.71 521.32,134.72 521.95,134.74 522.57,134.75 523.19,134.77 523.82,134.78 524.44,134.80 525.06,134.82 525.69,134.83 526.31,134.85 526.93,134.86 527.56,134.88 528.18,134.89 528.80,134.91 529.43,134.92 530.05,134.94 530.67,134.95 531.30,134.97 531.92,134.98 532.54,135.00 533.17,135.01 533.79,135.03 534.41,135.04 535.04,135.06 535.66,135.07 536.28,135.09 536.91,135.10 537.53,135.12 538.15,135.13 538.78,135.15 539.40,135.16" fill="none" stroke="#ff2a1a" stroke-width="0.7"/>
<rect x="442.80" y="122.20" width="97.70" height="97.50" fill="none" stroke="#5a5a5a" stroke-width="1.1"/>
<path d="M445.50,219.70v-2M445.50,122.20v2M461.15,219.70v-2M461.15,122.20v2M476.80,219.70v-2M476.80,122.20v2M492.45,219.70v-2M492.45,122.20v2M508.10,219.70v-2M508.10,122.20v2M523.75,219.70v-2M523.75,122.20v2M539.40,219.70v-2M539.40,122.20v2M442.80,209.92h1.1M540.50,209.92h-1.1M442.80,204.19h1.1M540.50,204.19h-1.1M442.80,200.13h1.1M540.50,200.13h-1.1M442.80,196.98h1.1M540.50,196.98h-1.1M442.80,194.41h1.1M540.50,194.41h-1.1M442.80,192.23h1.1M540.50,192.23h-1.1M442.80,190.35h1.1M540.50,190.35h-1.1M442.80,188.69h1.1M540.50,188.69h-1.1M442.80,187.20h2.0M540.50,187.20h-2.0M442.80,177.42h1.1M540.50,177.42h-1.1M442.80,171.69h1.1M540.50,171.69h-1.1M442.80,167.63h1.1M540.50,167.63h-1.1M442.80,164.48h1.1M540.50,164.48h-1.1M442.80,161.91h1.1M540.50,161.91h-1.1M442.80,159.73h1.1M540.50,159.73h-1.1M442.80,157.85h1.1M540.50,157.85h-1.1M442.80,156.19h1.1M540.50,156.19h-1.1M442.80,154.70h2.0M540.50,154.70h-2.0M442.80,144.92h1.1M540.50,144.92h-1.1M442.80,139.19h1.1M540.50,139.19h-1.1M442.80,135.13h1.1M540.50,135.13h-1.1M442.80,131.98h1.1M540.50,131.98h-1.1M442.80,129.41h1.1M540.50,129.41h-1.1M442.80,127.23h1.1M540.50,127.23h-1.1M442.80,125.35h1.1M540.50,125.35h-1.1M442.80,123.69h1.1M540.50,123.69h-1.1" stroke="#444" stroke-width="0.7" fill="none"/>
<text x="446.00" y="228.50" text-anchor="middle" font-family="'Liberation Serif', 'Times New Roman', serif" fill="#2e2e2e" stroke="#2e2e2e" stroke-width="0.1" font-size="8.8px">0</text>
<text x="477.30" y="228.50" text-anchor="middle" font-family="'Liberation Serif', 'Times New Roman', serif" fill="#2e2e2e" stroke="#2e2e2e" stroke-width="0.1" font-size="8.8px">200</text>
<text x="508.60" y="228.50" text-anchor="middle" font-family="'Liberation Serif', 'Times New Roman', serif" fill="#2e2e2e" stroke="#2e2e2e" stroke-width="0.1" font-size="8.8px">400</text>
<text x="539.90" y="228.50" text-anchor="middle" font-family="'Liberation Serif', 'Times New Roman', serif" fill="#2e2e2e" stroke="#2e2e2e" stroke-width="0.1" font-size="8.8px">600</text>
<text x="491.25" y="236.40" text-anchor="middle" font-family="'Liberation Serif', 'Times New Roman', serif" fill="#2e2e2e" stroke="#2e2e2e" stroke-width="0.1" font-size="8.8px">Probe Delay (ps)</text>
<text x="440.90" y="125.10" text-anchor="end" font-family="'Liberation Serif', 'Times New Roman', serif" fill="#2e2e2e" stroke="#2e2e2e" stroke-width="0.1" font-size="8.5px">10<tspan dx="0.5" dy="-4.4" font-size="4.5px" letter-spacing="-0.3">-2</tspan></text>
<text x="440.90" y="157.60" text-anchor="end" font-family="'Liberation Serif', 'Times New Roman', serif" fill="#2e2e2e" stroke="#2e2e2e" stroke-width="0.1" font-size="8.5px">10<tspan dx="0.5" dy="-4.4" font-size="4.5px" letter-spacing="-0.3">-3</tspan></text>
<text x="440.90" y="190.10" text-anchor="end" font-family="'Liberation Serif', 'Times New Roman', serif" fill="#2e2e2e" stroke="#2e2e2e" stroke-width="0.1" font-size="8.5px">10<tspan dx="0.5" dy="-4.4" font-size="4.5px" letter-spacing="-0.3">-4</tspan></text>
<text x="440.90" y="222.60" text-anchor="end" font-family="'Liberation Serif', 'Times New Roman', serif" fill="#2e2e2e" stroke="#2e2e2e" stroke-width="0.1" font-size="8.5px">10<tspan dx="0.5" dy="-4.4" font-size="4.5px" letter-spacing="-0.3">-5</tspan></text>
<text transform="translate(426.00,170.45) rotate(-90)" text-anchor="middle" font-family="'Liberation Serif', 'Times New Roman', serif" fill="#2e2e2e" stroke="#2e2e2e" stroke-width="0.1" font-style="italic" font-size="8.8px"><tspan font-style="normal">&#916;</tspan>R/R<tspan dy="1.4" font-size="5.8px" font-style="normal">0</tspan></text>
<text x="538.70" y="134.90" text-anchor="end" font-family="'Liberation Sans', Arial, sans-serif" font-weight="bold" font-size="13.9px" fill="#0c0c0c" stroke="#0c0c0c" stroke-width="0.3">(h)</text>
<text x="530.30" y="210.00" text-anchor="end" font-family="'Liberation Serif', 'Times New Roman', serif" fill="#2e2e2e" stroke="#2e2e2e" stroke-width="0.1" font-size="11.1px">3.0 ns</text>
<rect x="28.60" y="356.80" width="100.10" height="100.00" fill="#fff"/>
<clipPath id="clipm"><rect x="29.00" y="356.80" width="99.70" height="99.70"/></clipPath>
<g clip-path="url(#clipm)" fill="#6a6ae6"><circle cx="31.9" cy="383.0" r="1.15"/><circle cx="32.2" cy="386.2" r="1.15"/><circle cx="31.9" cy="389.3" r="1.15"/><circle cx="32.2" cy="392.4" r="1.15"/><circle cx="32.0" cy="395.5" r="1.15"/><circle cx="32.1" cy="399.3" r="1.15"/><circle cx="32.1" cy="403.4" r="1.15"/><circle cx="32.0" cy="408.7" r="1.15"/><circle cx="31.9" cy="415.6" r="1.15"/><circle cx="31.8" cy="422.4" r="1.15"/><circle cx="31.8" cy="429.3" r="1.15"/><circle cx="32.1" cy="435.5" r="1.15"/><circle cx="32.0" cy="446.4" r="1.15"/><circle cx="31.8" cy="451.7" r="1.15"/><circle cx="32.2" cy="456.4" r="1.15"/><circle cx="32.0" cy="369.4" r="1.15"/><circle cx="32.1" cy="369.8" r="1.15"/><circle cx="32.0" cy="370.7" r="1.15"/><circle cx="32.0" cy="371.1" r="1.15"/><circle cx="32.0" cy="371.2" r="1.15"/><circle cx="32.1" cy="371.6" r="1.15"/><circle cx="32.3" cy="372.2" r="1.15"/><circle cx="32.0" cy="372.4" r="1.15"/><circle cx="32.5" cy="373.2" r="1.15"/><circle cx="32.2" cy="373.3" r="1.15"/><circle cx="32.5" cy="373.7" r="1.15"/><circle cx="32.1" cy="374.1" r="1.15"/><circle cx="32.3" cy="374.5" r="1.15"/><circle cx="32.5" cy="374.8" r="1.15"/><circle cx="32.4" cy="375.4" r="1.15"/><circle cx="32.2" cy="375.6" r="1.15"/><circle cx="32.5" cy="376.0" r="1.15"/><circle cx="32.5" cy="376.3" r="1.15"/><circle cx="32.3" cy="376.5" r="1.15"/><circle cx="32.5" cy="376.8" r="1.15"/><circle cx="32.4" cy="377.1" r="1.15"/><circle cx="32.7" cy="377.3" r="1.15"/><circle cx="32.6" cy="377.8" r="1.15"/><circle cx="32.6" cy="377.7" r="1.15"/><circle cx="32.6" cy="378.0" r="1.15"/><circle cx="32.7" cy="378.2" r="1.15"/><circle cx="32.5" cy="378.4" r="1.15"/><circle cx="32.9" cy="378.7" r="1.15"/><circle cx="32.9" cy="378.8" r="1.15"/><circle cx="32.8" cy="378.8" r="1.15"/><circle cx="32.6" cy="379.3" r="1.15"/><circle cx="32.8" cy="379.3" r="1.15"/><circle cx="33.0" cy="379.5" r="1.15"/><circle cx="32.7" cy="379.6" r="1.15"/><circle cx="33.0" cy="379.7" r="1.15"/><circle cx="32.8" cy="379.7" r="1.15"/><circle cx="33.1" cy="380.2" r="1.15"/><circle cx="32.9" cy="380.2" r="1.15"/><circle cx="32.8" cy="380.3" r="1.15"/><circle cx="33.1" cy="381.3" r="1.15"/><circle cx="33.5" cy="382.1" r="1.15"/><circle cx="33.5" cy="382.7" r="1.15"/><circle cx="33.6" cy="383.4" r="1.15"/><circle cx="33.8" cy="384.0" r="1.15"/><circle cx="33.7" cy="384.3" r="1.15"/><circle cx="33.9" cy="384.9" r="1.15"/><circle cx="34.3" cy="385.2" r="1.15"/><circle cx="34.1" cy="385.6" r="1.15"/><circle cx="34.3" cy="386.4" r="1.15"/><circle cx="34.4" cy="386.6" r="1.15"/><circle cx="34.8" cy="387.1" r="1.15"/><circle cx="34.7" cy="387.5" r="1.15"/><circle cx="35.1" cy="388.0" r="1.15"/><circle cx="35.2" cy="388.2" r="1.15"/><circle cx="35.2" cy="388.7" r="1.15"/><circle cx="35.6" cy="389.2" r="1.15"/><circle cx="35.6" cy="389.5" r="1.15"/><circle cx="35.8" cy="389.7" r="1.15"/><circle cx="36.0" cy="389.8" r="1.15"/><circle cx="36.0" cy="390.6" r="1.15"/><circle cx="36.2" cy="391.1" r="1.15"/><circle cx="36.5" cy="390.9" r="1.15"/><circle cx="36.3" cy="391.5" r="1.15"/><circle cx="36.6" cy="392.0" r="1.15"/><circle cx="36.9" cy="392.2" r="1.15"/><circle cx="36.8" cy="392.5" r="1.15"/><circle cx="37.1" cy="392.7" r="1.15"/><circle cx="37.5" cy="393.4" r="1.15"/><circle cx="37.8" cy="394.9" r="1.15"/><circle cx="38.1" cy="394.7" r="1.15"/><circle cx="38.6" cy="395.4" r="1.15"/><circle cx="39.0" cy="396.1" r="1.15"/><circle cx="39.4" cy="397.1" r="1.15"/><circle cx="39.8" cy="397.8" r="1.15"/><circle cx="40.1" cy="398.2" r="1.15"/><circle cx="40.3" cy="398.8" r="1.15"/><circle cx="40.7" cy="399.1" r="1.15"/><circle cx="41.0" cy="399.8" r="1.15"/><circle cx="41.2" cy="399.9" r="1.15"/><circle cx="41.7" cy="400.3" r="1.15"/><circle cx="42.1" cy="400.9" r="1.15"/><circle cx="42.5" cy="401.3" r="1.15"/><circle cx="42.7" cy="402.0" r="1.15"/><circle cx="43.4" cy="402.6" r="1.15"/><circle cx="43.6" cy="402.7" r="1.15"/><circle cx="43.9" cy="403.6" r="1.15"/><circle cx="44.5" cy="403.6" r="1.15"/><circle cx="44.7" cy="403.5" r="1.15"/><circle cx="45.1" cy="404.1" r="1.15"/><circle cx="45.5" cy="404.5" r="1.15"/><circle cx="45.5" cy="405.1" r="1.15"/><circle cx="46.1" cy="405.4" r="1.15"/><circle cx="46.3" cy="405.3" r="1.15"/><circle cx="46.5" cy="405.6" r="1.15"/><circle cx="47.2" cy="406.0" r="1.15"/><circle cx="47.5" cy="406.4" r="1.15"/><circle cx="48.0" cy="406.8" r="1.15"/><circle cx="48.1" cy="407.3" r="1.15"/><circle cx="48.6" cy="406.4" r="1.15"/><circle cx="48.8" cy="407.4" r="1.15"/><circle cx="49.0" cy="407.5" r="1.15"/><circle cx="49.4" cy="407.3" r="1.15"/><circle cx="49.8" cy="408.0" r="1.15"/><circle cx="50.4" cy="408.8" r="1.15"/><circle cx="50.7" cy="409.4" r="1.15"/><circle cx="51.0" cy="409.3" r="1.15"/><circle cx="51.4" cy="409.8" r="1.15"/><circle cx="52.0" cy="409.9" r="1.15"/><circle cx="52.8" cy="410.5" r="1.15"/><circle cx="53.6" cy="410.8" r="1.15"/><circle cx="54.7" cy="412.0" r="1.15"/><circle cx="55.3" cy="411.0" r="1.15"/><circle cx="56.0" cy="412.4" r="1.15"/><circle cx="57.0" cy="413.1" r="1.15"/><circle cx="57.8" cy="413.1" r="1.15"/><circle cx="58.4" cy="413.6" r="1.15"/><circle cx="59.4" cy="413.8" r="1.15"/><circle cx="60.1" cy="414.4" r="1.15"/><circle cx="60.7" cy="415.2" r="1.15"/><circle cx="61.9" cy="415.7" r="1.15"/><circle cx="62.3" cy="416.1" r="1.15"/><circle cx="63.3" cy="416.0" r="1.15"/><circle cx="64.0" cy="415.8" r="1.15"/><circle cx="65.0" cy="417.8" r="1.15"/><circle cx="65.7" cy="417.6" r="1.15"/><circle cx="66.4" cy="416.2" r="1.15"/><circle cx="67.5" cy="416.8" r="1.15"/><circle cx="68.0" cy="418.1" r="1.15"/><circle cx="69.0" cy="418.5" r="1.15"/><circle cx="69.8" cy="419.5" r="1.15"/><circle cx="70.3" cy="419.1" r="1.15"/><circle cx="71.5" cy="420.5" r="1.15"/><circle cx="72.0" cy="420.4" r="1.15"/><circle cx="73.0" cy="419.7" r="1.15"/><circle cx="73.8" cy="420.5" r="1.15"/><circle cx="74.4" cy="421.1" r="1.15"/><circle cx="75.4" cy="422.3" r="1.15"/><circle cx="76.2" cy="420.7" r="1.15"/><circle cx="76.9" cy="421.9" r="1.15"/><circle cx="77.6" cy="420.7" r="1.15"/><circle cx="78.5" cy="422.0" r="1.15"/><circle cx="79.2" cy="422.8" r="1.15"/><circle cx="80.2" cy="422.1" r="1.15"/><circle cx="81.1" cy="422.7" r="1.15"/><circle cx="81.9" cy="424.5" r="1.15"/><circle cx="82.6" cy="423.9" r="1.15"/><circle cx="83.4" cy="424.8" r="1.15"/><circle cx="84.0" cy="426.9" r="1.15"/><circle cx="84.8" cy="428.1" r="1.15"/><circle cx="85.5" cy="423.8" r="1.15"/><circle cx="86.5" cy="425.3" r="1.15"/><circle cx="87.3" cy="424.8" r="1.15"/><circle cx="88.2" cy="425.2" r="1.15"/><circle cx="88.7" cy="427.0" r="1.15"/><circle cx="89.8" cy="425.4" r="1.15"/><circle cx="90.4" cy="427.3" r="1.15"/><circle cx="91.4" cy="425.4" r="1.15"/><circle cx="92.0" cy="428.1" r="1.15"/><circle cx="92.8" cy="428.6" r="1.15"/><circle cx="93.6" cy="427.8" r="1.15"/><circle cx="94.6" cy="428.9" r="1.15"/><circle cx="95.3" cy="427.5" r="1.15"/><circle cx="96.2" cy="429.5" r="1.15"/><circle cx="96.9" cy="426.9" r="1.15"/><circle cx="97.7" cy="429.1" r="1.15"/><circle cx="98.4" cy="428.7" r="1.15"/><circle cx="99.3" cy="428.8" r="1.15"/><circle cx="99.9" cy="429.4" r="1.15"/><circle cx="101.1" cy="430.6" r="1.15"/><circle cx="101.5" cy="430.6" r="1.15"/><circle cx="102.6" cy="430.8" r="1.15"/><circle cx="103.2" cy="429.9" r="1.15"/><circle cx="103.9" cy="431.7" r="1.15"/><circle cx="105.0" cy="431.0" r="1.15"/><circle cx="105.8" cy="431.3" r="1.15"/><circle cx="106.6" cy="433.3" r="1.15"/><circle cx="107.1" cy="433.7" r="1.15"/><circle cx="108.0" cy="433.0" r="1.15"/><circle cx="108.9" cy="432.3" r="1.15"/><circle cx="109.7" cy="434.9" r="1.15"/><circle cx="110.6" cy="433.1" r="1.15"/><circle cx="111.5" cy="432.6" r="1.15"/><circle cx="112.2" cy="433.0" r="1.15"/><circle cx="112.7" cy="433.8" r="1.15"/><circle cx="113.8" cy="433.2" r="1.15"/><circle cx="114.5" cy="434.1" r="1.15"/><circle cx="115.5" cy="432.2" r="1.15"/><circle cx="116.3" cy="432.5" r="1.15"/><circle cx="116.7" cy="434.0" r="1.15"/><circle cx="117.6" cy="431.8" r="1.15"/><circle cx="118.4" cy="436.9" r="1.15"/><circle cx="119.2" cy="434.8" r="1.15"/><circle cx="120.1" cy="433.6" r="1.15"/><circle cx="120.8" cy="433.9" r="1.15"/><circle cx="121.7" cy="433.9" r="1.15"/><circle cx="122.6" cy="435.1" r="1.15"/><circle cx="123.4" cy="434.3" r="1.15"/><circle cx="124.3" cy="435.4" r="1.15"/><circle cx="124.9" cy="436.3" r="1.15"/><circle cx="125.5" cy="435.6" r="1.15"/><circle cx="126.4" cy="435.5" r="1.15"/><circle cx="127.4" cy="435.2" r="1.15"/></g><g clip-path="url(#clipm)" fill="none" stroke="#1a1af8" stroke-width="0.8"><circle cx="31.9" cy="383.0" r="1.28"/><circle cx="32.2" cy="386.2" r="1.28"/><circle cx="31.9" cy="389.3" r="1.28"/><circle cx="32.2" cy="392.4" r="1.28"/><circle cx="32.0" cy="395.5" r="1.28"/><circle cx="32.1" cy="399.3" r="1.28"/><circle cx="32.1" cy="403.4" r="1.28"/><circle cx="32.0" cy="408.7" r="1.28"/><circle cx="31.9" cy="415.6" r="1.28"/><circle cx="31.8" cy="422.4" r="1.28"/><circle cx="31.8" cy="429.3" r="1.28"/><circle cx="32.1" cy="435.5" r="1.28"/><circle cx="32.0" cy="446.4" r="1.28"/><circle cx="31.8" cy="451.7" r="1.28"/><circle cx="32.2" cy="456.4" r="1.28"/><circle cx="32.0" cy="369.4" r="1.28"/><circle cx="32.1" cy="369.8" r="1.28"/><circle cx="32.0" cy="370.7" r="1.28"/><circle cx="32.0" cy="371.1" r="1.28"/><circle cx="32.0" cy="371.2" r="1.28"/><circle cx="32.1" cy="371.6" r="1.28"/><circle cx="32.3" cy="372.2" r="1.28"/><circle cx="32.0" cy="372.4" r="1.28"/><circle cx="32.5" cy="373.2" r="1.28"/><circle cx="32.2" cy="373.3" r="1.28"/><circle cx="32.5" cy="373.7" r="1.28"/><circle cx="32.1" cy="374.1" r="1.28"/><circle cx="32.3" cy="374.5" r="1.28"/><circle cx="32.5" cy="374.8" r="1.28"/><circle cx="32.4" cy="375.4" r="1.28"/><circle cx="32.2" cy="375.6" r="1.28"/><circle cx="32.5" cy="376.0" r="1.28"/><circle cx="32.5" cy="376.3" r="1.28"/><circle cx="32.3" cy="376.5" r="1.28"/><circle cx="32.5" cy="376.8" r="1.28"/><circle cx="32.4" cy="377.1" r="1.28"/><circle cx="32.7" cy="377.3" r="1.28"/><circle cx="32.6" cy="377.8" r="1.28"/><circle cx="32.6" cy="377.7" r="1.28"/><circle cx="32.6" cy="378.0" r="1.28"/><circle cx="32.7" cy="378.2" r="1.28"/><circle cx="32.5" cy="378.4" r="1.28"/><circle cx="32.9" cy="378.7" r="1.28"/><circle cx="32.9" cy="378.8" r="1.28"/><circle cx="32.8" cy="378.8" r="1.28"/><circle cx="32.6" cy="379.3" r="1.28"/><circle cx="32.8" cy="379.3" r="1.28"/><circle cx="33.0" cy="379.5" r="1.28"/><circle cx="32.7" cy="379.6" r="1.28"/><circle cx="33.0" cy="379.7" r="1.28"/><circle cx="32.8" cy="379.7" r="1.28"/><circle cx="33.1" cy="380.2" r="1.28"/><circle cx="32.9" cy="380.2" r="1.28"/><circle cx="32.8" cy="380.3" r="1.28"/><circle cx="33.1" cy="381.3" r="1.28"/><circle cx="33.5" cy="382.1" r="1.28"/><circle cx="33.5" cy="382.7" r="1.28"/><circle cx="33.6" cy="383.4" r="1.28"/><circle cx="33.8" cy="384.0" r="1.28"/><circle cx="33.7" cy="384.3" r="1.28"/><circle cx="33.9" cy="384.9" r="1.28"/><circle cx="34.3" cy="385.2" r="1.28"/><circle cx="34.1" cy="385.6" r="1.28"/><circle cx="34.3" cy="386.4" r="1.28"/><circle cx="34.4" cy="386.6" r="1.28"/><circle cx="34.8" cy="387.1" r="1.28"/><circle cx="34.7" cy="387.5" r="1.28"/><circle cx="35.1" cy="388.0" r="1.28"/><circle cx="35.2" cy="388.2" r="1.28"/><circle cx="35.2" cy="388.7" r="1.28"/><circle cx="35.6" cy="389.2" r="1.28"/><circle cx="35.6" cy="389.5" r="1.28"/><circle cx="35.8" cy="389.7" r="1.28"/><circle cx="36.0" cy="389.8" r="1.28"/><circle cx="36.0" cy="390.6" r="1.28"/><circle cx="36.2" cy="391.1" r="1.28"/><circle cx="36.5" cy="390.9" r="1.28"/><circle cx="36.3" cy="391.5" r="1.28"/><circle cx="36.6" cy="392.0" r="1.28"/><circle cx="36.9" cy="392.2" r="1.28"/><circle cx="36.8" cy="392.5" r="1.28"/><circle cx="37.1" cy="392.7" r="1.28"/><circle cx="37.5" cy="393.4" r="1.28"/><circle cx="37.8" cy="394.9" r="1.28"/><circle cx="38.1" cy="394.7" r="1.28"/><circle cx="38.6" cy="395.4" r="1.28"/><circle cx="39.0" cy="396.1" r="1.28"/><circle cx="39.4" cy="397.1" r="1.28"/><circle cx="39.8" cy="397.8" r="1.28"/><circle cx="40.1" cy="398.2" r="1.28"/><circle cx="40.3" cy="398.8" r="1.28"/><circle cx="40.7" cy="399.1" r="1.28"/><circle cx="41.0" cy="399.8" r="1.28"/><circle cx="41.2" cy="399.9" r="1.28"/><circle cx="41.7" cy="400.3" r="1.28"/><circle cx="42.1" cy="400.9" r="1.28"/><circle cx="42.5" cy="401.3" r="1.28"/><circle cx="42.7" cy="402.0" r="1.28"/><circle cx="43.4" cy="402.6" r="1.28"/><circle cx="43.6" cy="402.7" r="1.28"/><circle cx="43.9" cy="403.6" r="1.28"/><circle cx="44.5" cy="403.6" r="1.28"/><circle cx="44.7" cy="403.5" r="1.28"/><circle cx="45.1" cy="404.1" r="1.28"/><circle cx="45.5" cy="404.5" r="1.28"/><circle cx="45.5" cy="405.1" r="1.28"/><circle cx="46.1" cy="405.4" r="1.28"/><circle cx="46.3" cy="405.3" r="1.28"/><circle cx="46.5" cy="405.6" r="1.28"/><circle cx="47.2" cy="406.0" r="1.28"/><circle cx="47.5" cy="406.4" r="1.28"/><circle cx="48.0" cy="406.8" r="1.28"/><circle cx="48.1" cy="407.3" r="1.28"/><circle cx="48.6" cy="406.4" r="1.28"/><circle cx="48.8" cy="407.4" r="1.28"/><circle cx="49.0" cy="407.5" r="1.28"/><circle cx="49.4" cy="407.3" r="1.28"/><circle cx="49.8" cy="408.0" r="1.28"/><circle cx="50.4" cy="408.8" r="1.28"/><circle cx="50.7" cy="409.4" r="1.28"/><circle cx="51.0" cy="409.3" r="1.28"/><circle cx="51.4" cy="409.8" r="1.28"/><circle cx="52.0" cy="409.9" r="1.28"/><circle cx="52.8" cy="410.5" r="1.28"/><circle cx="53.6" cy="410.8" r="1.28"/><circle cx="54.7" cy="412.0" r="1.28"/><circle cx="55.3" cy="411.0" r="1.28"/><circle cx="56.0" cy="412.4" r="1.28"/><circle cx="57.0" cy="413.1" r="1.28"/><circle cx="57.8" cy="413.1" r="1.28"/><circle cx="58.4" cy="413.6" r="1.28"/><circle cx="59.4" cy="413.8" r="1.28"/><circle cx="60.1" cy="414.4" r="1.28"/><circle cx="60.7" cy="415.2" r="1.28"/><circle cx="61.9" cy="415.7" r="1.28"/><circle cx="62.3" cy="416.1" r="1.28"/><circle cx="63.3" cy="416.0" r="1.28"/><circle cx="64.0" cy="415.8" r="1.28"/><circle cx="65.0" cy="417.8" r="1.28"/><circle cx="65.7" cy="417.6" r="1.28"/><circle cx="66.4" cy="416.2" r="1.28"/><circle cx="67.5" cy="416.8" r="1.28"/><circle cx="68.0" cy="418.1" r="1.28"/><circle cx="69.0" cy="418.5" r="1.28"/><circle cx="69.8" cy="419.5" r="1.28"/><circle cx="70.3" cy="419.1" r="1.28"/><circle cx="71.5" cy="420.5" r="1.28"/><circle cx="72.0" cy="420.4" r="1.28"/><circle cx="73.0" cy="419.7" r="1.28"/><circle cx="73.8" cy="420.5" r="1.28"/><circle cx="74.4" cy="421.1" r="1.28"/><circle cx="75.4" cy="422.3" r="1.28"/><circle cx="76.2" cy="420.7" r="1.28"/><circle cx="76.9" cy="421.9" r="1.28"/><circle cx="77.6" cy="420.7" r="1.28"/><circle cx="78.5" cy="422.0" r="1.28"/><circle cx="79.2" cy="422.8" r="1.28"/><circle cx="80.2" cy="422.1" r="1.28"/><circle cx="81.1" cy="422.7" r="1.28"/><circle cx="81.9" cy="424.5" r="1.28"/><circle cx="82.6" cy="423.9" r="1.28"/><circle cx="83.4" cy="424.8" r="1.28"/><circle cx="84.0" cy="426.9" r="1.28"/><circle cx="84.8" cy="428.1" r="1.28"/><circle cx="85.5" cy="423.8" r="1.28"/><circle cx="86.5" cy="425.3" r="1.28"/><circle cx="87.3" cy="424.8" r="1.28"/><circle cx="88.2" cy="425.2" r="1.28"/><circle cx="88.7" cy="427.0" r="1.28"/><circle cx="89.8" cy="425.4" r="1.28"/><circle cx="90.4" cy="427.3" r="1.28"/><circle cx="91.4" cy="425.4" r="1.28"/><circle cx="92.0" cy="428.1" r="1.28"/><circle cx="92.8" cy="428.6" r="1.28"/><circle cx="93.6" cy="427.8" r="1.28"/><circle cx="94.6" cy="428.9" r="1.28"/><circle cx="95.3" cy="427.5" r="1.28"/><circle cx="96.2" cy="429.5" r="1.28"/><circle cx="96.9" cy="426.9" r="1.28"/><circle cx="97.7" cy="429.1" r="1.28"/><circle cx="98.4" cy="428.7" r="1.28"/><circle cx="99.3" cy="428.8" r="1.28"/><circle cx="99.9" cy="429.4" r="1.28"/><circle cx="101.1" cy="430.6" r="1.28"/><circle cx="101.5" cy="430.6" r="1.28"/><circle cx="102.6" cy="430.8" r="1.28"/><circle cx="103.2" cy="429.9" r="1.28"/><circle cx="103.9" cy="431.7" r="1.28"/><circle cx="105.0" cy="431.0" r="1.28"/><circle cx="105.8" cy="431.3" r="1.28"/><circle cx="106.6" cy="433.3" r="1.28"/><circle cx="107.1" cy="433.7" r="1.28"/><circle cx="108.0" cy="433.0" r="1.28"/><circle cx="108.9" cy="432.3" r="1.28"/><circle cx="109.7" cy="434.9" r="1.28"/><circle cx="110.6" cy="433.1" r="1.28"/><circle cx="111.5" cy="432.6" r="1.28"/><circle cx="112.2" cy="433.0" r="1.28"/><circle cx="112.7" cy="433.8" r="1.28"/><circle cx="113.8" cy="433.2" r="1.28"/><circle cx="114.5" cy="434.1" r="1.28"/><circle cx="115.5" cy="432.2" r="1.28"/><circle cx="116.3" cy="432.5" r="1.28"/><circle cx="116.7" cy="434.0" r="1.28"/><circle cx="117.6" cy="431.8" r="1.28"/><circle cx="118.4" cy="436.9" r="1.28"/><circle cx="119.2" cy="434.8" r="1.28"/><circle cx="120.1" cy="433.6" r="1.28"/><circle cx="120.8" cy="433.9" r="1.28"/><circle cx="121.7" cy="433.9" r="1.28"/><circle cx="122.6" cy="435.1" r="1.28"/><circle cx="123.4" cy="434.3" r="1.28"/><circle cx="124.3" cy="435.4" r="1.28"/><circle cx="124.9" cy="436.3" r="1.28"/><circle cx="125.5" cy="435.6" r="1.28"/><circle cx="126.4" cy="435.5" r="1.28"/><circle cx="127.4" cy="435.2" r="1.28"/></g>
<polyline clip-path="url(#clipm)" points="32.64,378.08 32.76,378.98 32.89,379.81 33.01,380.57 33.13,381.27 33.26,381.91 33.38,382.50 33.50,383.04 33.62,383.54 33.75,384.01 33.87,384.46 33.99,384.88 34.12,385.28 34.24,385.67 34.36,386.06 34.49,386.44 34.61,386.82 34.73,387.19 34.86,387.54 34.98,387.89 35.10,388.24 35.22,388.57 35.35,388.89 35.47,389.21 35.59,389.52 35.72,389.82 35.84,390.12 35.96,390.41 36.09,390.69 36.21,390.97 36.33,391.24 36.46,391.51 36.58,391.77 36.70,392.02 36.82,392.27 36.95,392.52 37.07,392.76 37.19,393.00 37.32,393.23 37.44,393.47 37.60,393.76 38.36,395.11 39.12,396.41 39.88,397.64 40.64,398.81 41.40,399.91 42.16,400.95 42.92,401.91 43.68,402.81 44.44,403.65 45.20,404.41 45.96,405.11 46.72,405.75 47.48,406.36 48.24,406.93 48.99,407.49 49.75,408.05 50.51,408.59 51.27,409.13 52.03,409.65 52.79,410.17 53.55,410.67 54.31,411.17 55.07,411.65 55.83,412.12 56.59,412.58 57.35,413.02 58.11,413.46 58.87,413.88 59.63,414.29 60.39,414.69 61.15,415.07 61.91,415.44 62.67,415.80 63.43,416.16 64.19,416.50 64.95,416.84 65.71,417.18 66.47,417.51 67.23,417.84 67.99,418.16 68.75,418.49 69.51,418.81 70.27,419.14 71.03,419.47 71.78,419.79 72.54,420.11 73.30,420.42 74.06,420.74 74.82,421.05 75.58,421.35 76.34,421.66 77.10,421.96 77.86,422.27 78.62,422.57 79.38,422.87 80.14,423.16 80.90,423.46 81.66,423.76 82.42,424.05 83.18,424.35 83.94,424.65 84.70,424.94 85.46,425.23 86.22,425.52 86.98,425.80 87.74,426.08 88.50,426.35 89.26,426.61 90.02,426.87 90.78,427.12 91.54,427.37 92.30,427.60 93.06,427.84 93.82,428.07 94.57,428.29 95.33,428.51 96.09,428.73 96.85,428.95 97.61,429.16 98.37,429.37 99.13,429.58 99.89,429.79 100.65,430.00 101.41,430.21 102.17,430.41 102.93,430.62 103.69,430.83 104.45,431.03 105.21,431.24 105.97,431.44 106.73,431.64 107.49,431.83 108.25,432.02 109.01,432.21 109.77,432.40 110.53,432.58 111.29,432.75 112.05,432.92 112.81,433.09 113.57,433.25 114.33,433.41 115.09,433.56 115.85,433.72 116.61,433.87 117.36,434.02 118.12,434.17 118.88,434.31 119.64,434.46 120.40,434.60 121.16,434.74 121.92,434.89 122.68,435.03 123.44,435.17 124.20,435.31 124.96,435.45 125.72,435.59 126.48,435.72 127.24,435.86 128.00,435.99" fill="none" stroke="#ff2a1a" stroke-width="0.7"/>
<rect x="28.60" y="356.80" width="100.10" height="100.00" fill="none" stroke="#5a5a5a" stroke-width="1.1"/>
<path d="M32.00,456.80v-2M32.00,356.80v2M48.00,456.80v-2M48.00,356.80v2M64.00,456.80v-2M64.00,356.80v2M80.00,456.80v-2M80.00,356.80v2M96.00,456.80v-2M96.00,356.80v2M112.00,456.80v-2M112.00,356.80v2M28.60,447.75h1.1M128.70,447.75h-1.1M28.60,442.46h1.1M128.70,442.46h-1.1M28.60,438.71h1.1M128.70,438.71h-1.1M28.60,435.80h1.1M128.70,435.80h-1.1M28.60,433.42h1.1M128.70,433.42h-1.1M28.60,431.41h1.1M128.70,431.41h-1.1M28.60,429.67h1.1M128.70,429.67h-1.1M28.60,428.13h1.1M128.70,428.13h-1.1M28.60,426.76h2.0M128.70,426.76h-2.0M28.60,417.72h1.1M128.70,417.72h-1.1M28.60,412.43h1.1M128.70,412.43h-1.1M28.60,408.68h1.1M128.70,408.68h-1.1M28.60,405.77h1.1M128.70,405.77h-1.1M28.60,403.39h1.1M128.70,403.39h-1.1M28.60,401.38h1.1M128.70,401.38h-1.1M28.60,399.64h1.1M128.70,399.64h-1.1M28.60,398.10h1.1M128.70,398.10h-1.1M28.60,396.73h2.0M128.70,396.73h-2.0M28.60,387.69h1.1M128.70,387.69h-1.1M28.60,382.40h1.1M128.70,382.40h-1.1M28.60,378.65h1.1M128.70,378.65h-1.1M28.60,375.74h1.1M128.70,375.74h-1.1M28.60,373.36h1.1M128.70,373.36h-1.1M28.60,371.35h1.1M128.70,371.35h-1.1M28.60,369.61h1.1M128.70,369.61h-1.1M28.60,368.07h1.1M128.70,368.07h-1.1M28.60,366.70h2.0M128.70,366.70h-2.0M28.60,357.66h1.1M128.70,357.66h-1.1" stroke="#444" stroke-width="0.7" fill="none"/>
<text x="32.50" y="465.60" text-anchor="middle" font-family="'Liberation Serif', 'Times New Roman', serif" fill="#2e2e2e" stroke="#2e2e2e" stroke-width="0.1" font-size="8.8px">0</text>
<text x="64.50" y="465.60" text-anchor="middle" font-family="'Liberation Serif', 'Times New Roman', serif" fill="#2e2e2e" stroke="#2e2e2e" stroke-width="0.1" font-size="8.8px">200</text>
<text x="96.50" y="465.60" text-anchor="middle" font-family="'Liberation Serif', 'Times New Roman', serif" fill="#2e2e2e" stroke="#2e2e2e" stroke-width="0.1" font-size="8.8px">400</text>
<text x="128.50" y="465.60" text-anchor="middle" font-family="'Liberation Serif', 'Times New Roman', serif" fill="#2e2e2e" stroke="#2e2e2e" stroke-width="0.1" font-size="8.8px">600</text>
<text x="81.40" y="474.10" text-anchor="middle" font-family="'Liberation Serif', 'Times New Roman', serif" fill="#2e2e2e" stroke="#2e2e2e" stroke-width="0.1" font-size="8.8px">Probe Delay (ps)</text>
<text x="26.70" y="369.60" text-anchor="end" font-family="'Liberation Serif', 'Times New Roman', serif" fill="#2e2e2e" stroke="#2e2e2e" stroke-width="0.1" font-size="8.5px">10<tspan dx="0.5" dy="-4.4" font-size="4.5px" letter-spacing="-0.3">-1</tspan></text>
<text x="26.70" y="399.63" text-anchor="end" font-family="'Liberation Serif', 'Times New Roman', serif" fill="#2e2e2e" stroke="#2e2e2e" stroke-width="0.1" font-size="8.5px">10<tspan dx="0.5" dy="-4.4" font-size="4.5px" letter-spacing="-0.3">-2</tspan></text>
<text x="26.70" y="429.66" text-anchor="end" font-family="'Liberation Serif', 'Times New Roman', serif" fill="#2e2e2e" stroke="#2e2e2e" stroke-width="0.1" font-size="8.5px">10<tspan dx="0.5" dy="-4.4" font-size="4.5px" letter-spacing="-0.3">-3</tspan></text>
<text x="26.70" y="459.69" text-anchor="end" font-family="'Liberation Serif', 'Times New Roman', serif" fill="#2e2e2e" stroke="#2e2e2e" stroke-width="0.1" font-size="8.5px">10<tspan dx="0.5" dy="-4.4" font-size="4.5px" letter-spacing="-0.3">-4</tspan></text>
<text transform="translate(11.80,407.30) rotate(-90)" text-anchor="middle" font-family="'Liberation Serif', 'Times New Roman', serif" fill="#2e2e2e" stroke="#2e2e2e" stroke-width="0.1" font-style="italic" font-size="8.8px"><tspan font-style="normal">&#916;</tspan>R/R<tspan dy="1.4" font-size="5.8px" font-style="normal">0</tspan></text>
<text x="126.50" y="369.50" text-anchor="end" font-family="'Liberation Sans', Arial, sans-serif" font-weight="bold" font-size="13.9px" fill="#0c0c0c" stroke="#0c0c0c" stroke-width="0.3">(m)</text>
<text x="113.80" y="447.00" text-anchor="end" font-family="'Liberation Serif', 'Times New Roman', serif" fill="#2e2e2e" stroke="#2e2e2e" stroke-width="0.1" font-size="11.1px">100 ps</text>
<rect x="168.50" y="357.30" width="99.30" height="99.70" fill="#fff"/>
<clipPath id="clipn"><rect x="168.90" y="357.30" width="98.90" height="99.40"/></clipPath>
<g clip-path="url(#clipn)" fill="#6a6ae6"><circle cx="171.6" cy="379.9" r="1.15"/><circle cx="171.3" cy="384.0" r="1.15"/><circle cx="171.6" cy="389.2" r="1.15"/><circle cx="171.2" cy="394.0" r="1.15"/><circle cx="171.2" cy="397.5" r="1.15"/><circle cx="171.4" cy="404.8" r="1.15"/><circle cx="171.4" cy="412.1" r="1.15"/><circle cx="171.4" cy="421.5" r="1.15"/><circle cx="171.3" cy="427.3" r="1.15"/><circle cx="171.5" cy="443.3" r="1.15"/><circle cx="171.4" cy="453.7" r="1.15"/><circle cx="171.5" cy="368.3" r="1.15"/><circle cx="171.5" cy="368.8" r="1.15"/><circle cx="171.6" cy="369.0" r="1.15"/><circle cx="171.4" cy="369.2" r="1.15"/><circle cx="171.7" cy="369.6" r="1.15"/><circle cx="171.7" cy="369.8" r="1.15"/><circle cx="171.8" cy="369.9" r="1.15"/><circle cx="171.6" cy="370.3" r="1.15"/><circle cx="171.9" cy="370.6" r="1.15"/><circle cx="171.6" cy="370.6" r="1.15"/><circle cx="171.8" cy="371.1" r="1.15"/><circle cx="171.9" cy="371.4" r="1.15"/><circle cx="171.7" cy="371.2" r="1.15"/><circle cx="171.9" cy="371.4" r="1.15"/><circle cx="172.0" cy="371.6" r="1.15"/><circle cx="171.8" cy="372.1" r="1.15"/><circle cx="171.7" cy="372.3" r="1.15"/><circle cx="171.8" cy="372.1" r="1.15"/><circle cx="171.8" cy="372.5" r="1.15"/><circle cx="171.8" cy="372.7" r="1.15"/><circle cx="172.0" cy="372.5" r="1.15"/><circle cx="171.8" cy="372.9" r="1.15"/><circle cx="172.0" cy="373.2" r="1.15"/><circle cx="172.2" cy="373.2" r="1.15"/><circle cx="172.0" cy="373.4" r="1.15"/><circle cx="172.0" cy="373.3" r="1.15"/><circle cx="172.2" cy="373.8" r="1.15"/><circle cx="172.0" cy="373.9" r="1.15"/><circle cx="172.0" cy="373.9" r="1.15"/><circle cx="172.3" cy="374.1" r="1.15"/><circle cx="172.3" cy="374.0" r="1.15"/><circle cx="172.1" cy="374.3" r="1.15"/><circle cx="172.1" cy="374.2" r="1.15"/><circle cx="172.4" cy="374.6" r="1.15"/><circle cx="172.2" cy="374.6" r="1.15"/><circle cx="172.4" cy="374.6" r="1.15"/><circle cx="172.4" cy="374.9" r="1.15"/><circle cx="172.2" cy="375.1" r="1.15"/><circle cx="172.4" cy="374.9" r="1.15"/><circle cx="172.3" cy="375.6" r="1.15"/><circle cx="172.7" cy="376.1" r="1.15"/><circle cx="172.8" cy="376.4" r="1.15"/><circle cx="172.9" cy="377.0" r="1.15"/><circle cx="173.0" cy="377.2" r="1.15"/><circle cx="173.4" cy="377.3" r="1.15"/><circle cx="173.3" cy="378.0" r="1.15"/><circle cx="173.4" cy="378.3" r="1.15"/><circle cx="173.7" cy="378.7" r="1.15"/><circle cx="173.9" cy="378.9" r="1.15"/><circle cx="174.1" cy="379.1" r="1.15"/><circle cx="174.2" cy="379.3" r="1.15"/><circle cx="174.1" cy="379.6" r="1.15"/><circle cx="174.2" cy="380.3" r="1.15"/><circle cx="174.4" cy="380.5" r="1.15"/><circle cx="174.6" cy="380.4" r="1.15"/><circle cx="174.7" cy="381.3" r="1.15"/><circle cx="174.8" cy="380.9" r="1.15"/><circle cx="175.0" cy="381.4" r="1.15"/><circle cx="175.1" cy="381.4" r="1.15"/><circle cx="175.5" cy="381.8" r="1.15"/><circle cx="175.6" cy="381.9" r="1.15"/><circle cx="175.6" cy="382.3" r="1.15"/><circle cx="175.9" cy="382.6" r="1.15"/><circle cx="176.2" cy="383.1" r="1.15"/><circle cx="176.3" cy="382.9" r="1.15"/><circle cx="176.3" cy="383.3" r="1.15"/><circle cx="176.5" cy="383.7" r="1.15"/><circle cx="176.9" cy="384.7" r="1.15"/><circle cx="177.5" cy="385.2" r="1.15"/><circle cx="177.5" cy="385.5" r="1.15"/><circle cx="177.9" cy="386.0" r="1.15"/><circle cx="178.6" cy="386.4" r="1.15"/><circle cx="178.6" cy="387.0" r="1.15"/><circle cx="179.0" cy="387.3" r="1.15"/><circle cx="179.3" cy="387.8" r="1.15"/><circle cx="180.0" cy="388.8" r="1.15"/><circle cx="180.2" cy="388.9" r="1.15"/><circle cx="180.4" cy="389.3" r="1.15"/><circle cx="180.9" cy="389.9" r="1.15"/><circle cx="181.4" cy="390.7" r="1.15"/><circle cx="181.4" cy="390.7" r="1.15"/><circle cx="182.0" cy="391.3" r="1.15"/><circle cx="182.1" cy="391.5" r="1.15"/><circle cx="182.5" cy="391.7" r="1.15"/><circle cx="182.8" cy="392.3" r="1.15"/><circle cx="183.2" cy="393.2" r="1.15"/><circle cx="183.8" cy="393.5" r="1.15"/><circle cx="184.1" cy="393.8" r="1.15"/><circle cx="184.5" cy="393.9" r="1.15"/><circle cx="184.6" cy="394.1" r="1.15"/><circle cx="185.2" cy="393.9" r="1.15"/><circle cx="185.5" cy="394.8" r="1.15"/><circle cx="185.6" cy="394.9" r="1.15"/><circle cx="186.0" cy="394.9" r="1.15"/><circle cx="186.5" cy="395.6" r="1.15"/><circle cx="186.7" cy="395.2" r="1.15"/><circle cx="187.2" cy="395.1" r="1.15"/><circle cx="187.5" cy="395.4" r="1.15"/><circle cx="188.0" cy="395.9" r="1.15"/><circle cx="188.1" cy="396.1" r="1.15"/><circle cx="188.8" cy="396.6" r="1.15"/><circle cx="189.1" cy="396.5" r="1.15"/><circle cx="189.4" cy="396.2" r="1.15"/><circle cx="189.8" cy="396.4" r="1.15"/><circle cx="190.1" cy="397.4" r="1.15"/><circle cx="190.5" cy="396.6" r="1.15"/><circle cx="190.6" cy="397.6" r="1.15"/><circle cx="191.7" cy="397.8" r="1.15"/><circle cx="192.2" cy="398.2" r="1.15"/><circle cx="193.0" cy="398.8" r="1.15"/><circle cx="194.0" cy="398.4" r="1.15"/><circle cx="194.8" cy="398.2" r="1.15"/><circle cx="195.6" cy="400.0" r="1.15"/><circle cx="196.5" cy="400.3" r="1.15"/><circle cx="197.2" cy="401.4" r="1.15"/><circle cx="198.0" cy="401.4" r="1.15"/><circle cx="198.9" cy="400.4" r="1.15"/><circle cx="199.7" cy="402.0" r="1.15"/><circle cx="200.3" cy="402.3" r="1.15"/><circle cx="201.4" cy="400.9" r="1.15"/><circle cx="201.8" cy="402.6" r="1.15"/><circle cx="202.9" cy="401.8" r="1.15"/><circle cx="203.5" cy="401.9" r="1.15"/><circle cx="204.6" cy="403.2" r="1.15"/><circle cx="205.3" cy="403.2" r="1.15"/><circle cx="206.0" cy="402.0" r="1.15"/><circle cx="207.0" cy="403.7" r="1.15"/><circle cx="207.5" cy="403.3" r="1.15"/><circle cx="208.5" cy="403.1" r="1.15"/><circle cx="209.2" cy="402.5" r="1.15"/><circle cx="210.1" cy="403.0" r="1.15"/><circle cx="211.0" cy="405.7" r="1.15"/><circle cx="211.6" cy="404.4" r="1.15"/><circle cx="212.6" cy="405.0" r="1.15"/><circle cx="213.1" cy="404.9" r="1.15"/><circle cx="214.1" cy="404.9" r="1.15"/><circle cx="214.9" cy="406.0" r="1.15"/><circle cx="215.7" cy="405.2" r="1.15"/><circle cx="216.5" cy="406.3" r="1.15"/><circle cx="217.3" cy="407.2" r="1.15"/><circle cx="217.9" cy="405.9" r="1.15"/><circle cx="219.0" cy="405.9" r="1.15"/><circle cx="219.5" cy="406.1" r="1.15"/><circle cx="220.5" cy="406.5" r="1.15"/><circle cx="221.3" cy="405.6" r="1.15"/><circle cx="222.1" cy="406.3" r="1.15"/><circle cx="222.7" cy="405.7" r="1.15"/><circle cx="223.5" cy="406.2" r="1.15"/><circle cx="224.6" cy="408.0" r="1.15"/><circle cx="225.4" cy="407.6" r="1.15"/><circle cx="226.1" cy="404.3" r="1.15"/><circle cx="227.0" cy="406.0" r="1.15"/><circle cx="227.8" cy="405.3" r="1.15"/><circle cx="228.4" cy="404.0" r="1.15"/><circle cx="229.1" cy="407.8" r="1.15"/><circle cx="230.0" cy="406.7" r="1.15"/><circle cx="230.8" cy="409.7" r="1.15"/><circle cx="231.7" cy="408.3" r="1.15"/><circle cx="232.6" cy="408.0" r="1.15"/><circle cx="233.2" cy="407.5" r="1.15"/><circle cx="234.3" cy="407.0" r="1.15"/><circle cx="234.8" cy="405.5" r="1.15"/><circle cx="235.7" cy="408.8" r="1.15"/><circle cx="236.5" cy="407.8" r="1.15"/><circle cx="237.4" cy="411.0" r="1.15"/><circle cx="238.0" cy="408.4" r="1.15"/><circle cx="238.7" cy="408.6" r="1.15"/><circle cx="239.9" cy="409.2" r="1.15"/><circle cx="240.6" cy="407.1" r="1.15"/><circle cx="241.2" cy="409.2" r="1.15"/><circle cx="242.1" cy="408.3" r="1.15"/><circle cx="243.0" cy="409.6" r="1.15"/><circle cx="243.6" cy="408.7" r="1.15"/><circle cx="244.6" cy="410.3" r="1.15"/><circle cx="245.3" cy="409.5" r="1.15"/><circle cx="246.3" cy="410.6" r="1.15"/><circle cx="247.1" cy="407.5" r="1.15"/><circle cx="247.8" cy="410.1" r="1.15"/><circle cx="248.3" cy="409.9" r="1.15"/><circle cx="249.4" cy="409.1" r="1.15"/><circle cx="250.3" cy="408.4" r="1.15"/><circle cx="250.9" cy="409.0" r="1.15"/><circle cx="251.9" cy="408.8" r="1.15"/><circle cx="252.5" cy="408.8" r="1.15"/><circle cx="253.3" cy="411.9" r="1.15"/><circle cx="254.2" cy="407.5" r="1.15"/><circle cx="254.8" cy="410.5" r="1.15"/><circle cx="255.7" cy="409.1" r="1.15"/><circle cx="256.5" cy="411.6" r="1.15"/><circle cx="257.3" cy="412.5" r="1.15"/><circle cx="258.2" cy="410.4" r="1.15"/><circle cx="258.8" cy="410.5" r="1.15"/><circle cx="259.8" cy="409.6" r="1.15"/><circle cx="260.6" cy="408.3" r="1.15"/><circle cx="261.4" cy="410.2" r="1.15"/><circle cx="262.3" cy="409.2" r="1.15"/><circle cx="262.9" cy="412.0" r="1.15"/><circle cx="263.7" cy="411.5" r="1.15"/><circle cx="264.4" cy="411.6" r="1.15"/><circle cx="265.2" cy="411.2" r="1.15"/><circle cx="266.0" cy="411.2" r="1.15"/><circle cx="267.1" cy="411.7" r="1.15"/></g><g clip-path="url(#clipn)" fill="none" stroke="#1a1af8" stroke-width="0.8"><circle cx="171.6" cy="379.9" r="1.28"/><circle cx="171.3" cy="384.0" r="1.28"/><circle cx="171.6" cy="389.2" r="1.28"/><circle cx="171.2" cy="394.0" r="1.28"/><circle cx="171.2" cy="397.5" r="1.28"/><circle cx="171.4" cy="404.8" r="1.28"/><circle cx="171.4" cy="412.1" r="1.28"/><circle cx="171.4" cy="421.5" r="1.28"/><circle cx="171.3" cy="427.3" r="1.28"/><circle cx="171.5" cy="443.3" r="1.28"/><circle cx="171.4" cy="453.7" r="1.28"/><circle cx="171.5" cy="368.3" r="1.28"/><circle cx="171.5" cy="368.8" r="1.28"/><circle cx="171.6" cy="369.0" r="1.28"/><circle cx="171.4" cy="369.2" r="1.28"/><circle cx="171.7" cy="369.6" r="1.28"/><circle cx="171.7" cy="369.8" r="1.28"/><circle cx="171.8" cy="369.9" r="1.28"/><circle cx="171.6" cy="370.3" r="1.28"/><circle cx="171.9" cy="370.6" r="1.28"/><circle cx="171.6" cy="370.6" r="1.28"/><circle cx="171.8" cy="371.1" r="1.28"/><circle cx="171.9" cy="371.4" r="1.28"/><circle cx="171.7" cy="371.2" r="1.28"/><circle cx="171.9" cy="371.4" r="1.28"/><circle cx="172.0" cy="371.6" r="1.28"/><circle cx="171.8" cy="372.1" r="1.28"/><circle cx="171.7" cy="372.3" r="1.28"/><circle cx="171.8" cy="372.1" r="1.28"/><circle cx="171.8" cy="372.5" r="1.28"/><circle cx="171.8" cy="372.7" r="1.28"/><circle cx="172.0" cy="372.5" r="1.28"/><circle cx="171.8" cy="372.9" r="1.28"/><circle cx="172.0" cy="373.2" r="1.28"/><circle cx="172.2" cy="373.2" r="1.28"/><circle cx="172.0" cy="373.4" r="1.28"/><circle cx="172.0" cy="373.3" r="1.28"/><circle cx="172.2" cy="373.8" r="1.28"/><circle cx="172.0" cy="373.9" r="1.28"/><circle cx="172.0" cy="373.9" r="1.28"/><circle cx="172.3" cy="374.1" r="1.28"/><circle cx="172.3" cy="374.0" r="1.28"/><circle cx="172.1" cy="374.3" r="1.28"/><circle cx="172.1" cy="374.2" r="1.28"/><circle cx="172.4" cy="374.6" r="1.28"/><circle cx="172.2" cy="374.6" r="1.28"/><circle cx="172.4" cy="374.6" r="1.28"/><circle cx="172.4" cy="374.9" r="1.28"/><circle cx="172.2" cy="375.1" r="1.28"/><circle cx="172.4" cy="374.9" r="1.28"/><circle cx="172.3" cy="375.6" r="1.28"/><circle cx="172.7" cy="376.1" r="1.28"/><circle cx="172.8" cy="376.4" r="1.28"/><circle cx="172.9" cy="377.0" r="1.28"/><circle cx="173.0" cy="377.2" r="1.28"/><circle cx="173.4" cy="377.3" r="1.28"/><circle cx="173.3" cy="378.0" r="1.28"/><circle cx="173.4" cy="378.3" r="1.28"/><circle cx="173.7" cy="378.7" r="1.28"/><circle cx="173.9" cy="378.9" r="1.28"/><circle cx="174.1" cy="379.1" r="1.28"/><circle cx="174.2" cy="379.3" r="1.28"/><circle cx="174.1" cy="379.6" r="1.28"/><circle cx="174.2" cy="380.3" r="1.28"/><circle cx="174.4" cy="380.5" r="1.28"/><circle cx="174.6" cy="380.4" r="1.28"/><circle cx="174.7" cy="381.3" r="1.28"/><circle cx="174.8" cy="380.9" r="1.28"/><circle cx="175.0" cy="381.4" r="1.28"/><circle cx="175.1" cy="381.4" r="1.28"/><circle cx="175.5" cy="381.8" r="1.28"/><circle cx="175.6" cy="381.9" r="1.28"/><circle cx="175.6" cy="382.3" r="1.28"/><circle cx="175.9" cy="382.6" r="1.28"/><circle cx="176.2" cy="383.1" r="1.28"/><circle cx="176.3" cy="382.9" r="1.28"/><circle cx="176.3" cy="383.3" r="1.28"/><circle cx="176.5" cy="383.7" r="1.28"/><circle cx="176.9" cy="384.7" r="1.28"/><circle cx="177.5" cy="385.2" r="1.28"/><circle cx="177.5" cy="385.5" r="1.28"/><circle cx="177.9" cy="386.0" r="1.28"/><circle cx="178.6" cy="386.4" r="1.28"/><circle cx="178.6" cy="387.0" r="1.28"/><circle cx="179.0" cy="387.3" r="1.28"/><circle cx="179.3" cy="387.8" r="1.28"/><circle cx="180.0" cy="388.8" r="1.28"/><circle cx="180.2" cy="388.9" r="1.28"/><circle cx="180.4" cy="389.3" r="1.28"/><circle cx="180.9" cy="389.9" r="1.28"/><circle cx="181.4" cy="390.7" r="1.28"/><circle cx="181.4" cy="390.7" r="1.28"/><circle cx="182.0" cy="391.3" r="1.28"/><circle cx="182.1" cy="391.5" r="1.28"/><circle cx="182.5" cy="391.7" r="1.28"/><circle cx="182.8" cy="392.3" r="1.28"/><circle cx="183.2" cy="393.2" r="1.28"/><circle cx="183.8" cy="393.5" r="1.28"/><circle cx="184.1" cy="393.8" r="1.28"/><circle cx="184.5" cy="393.9" r="1.28"/><circle cx="184.6" cy="394.1" r="1.28"/><circle cx="185.2" cy="393.9" r="1.28"/><circle cx="185.5" cy="394.8" r="1.28"/><circle cx="185.6" cy="394.9" r="1.28"/><circle cx="186.0" cy="394.9" r="1.28"/><circle cx="186.5" cy="395.6" r="1.28"/><circle cx="186.7" cy="395.2" r="1.28"/><circle cx="187.2" cy="395.1" r="1.28"/><circle cx="187.5" cy="395.4" r="1.28"/><circle cx="188.0" cy="395.9" r="1.28"/><circle cx="188.1" cy="396.1" r="1.28"/><circle cx="188.8" cy="396.6" r="1.28"/><circle cx="189.1" cy="396.5" r="1.28"/><circle cx="189.4" cy="396.2" r="1.28"/><circle cx="189.8" cy="396.4" r="1.28"/><circle cx="190.1" cy="397.4" r="1.28"/><circle cx="190.5" cy="396.6" r="1.28"/><circle cx="190.6" cy="397.6" r="1.28"/><circle cx="191.7" cy="397.8" r="1.28"/><circle cx="192.2" cy="398.2" r="1.28"/><circle cx="193.0" cy="398.8" r="1.28"/><circle cx="194.0" cy="398.4" r="1.28"/><circle cx="194.8" cy="398.2" r="1.28"/><circle cx="195.6" cy="400.0" r="1.28"/><circle cx="196.5" cy="400.3" r="1.28"/><circle cx="197.2" cy="401.4" r="1.28"/><circle cx="198.0" cy="401.4" r="1.28"/><circle cx="198.9" cy="400.4" r="1.28"/><circle cx="199.7" cy="402.0" r="1.28"/><circle cx="200.3" cy="402.3" r="1.28"/><circle cx="201.4" cy="400.9" r="1.28"/><circle cx="201.8" cy="402.6" r="1.28"/><circle cx="202.9" cy="401.8" r="1.28"/><circle cx="203.5" cy="401.9" r="1.28"/><circle cx="204.6" cy="403.2" r="1.28"/><circle cx="205.3" cy="403.2" r="1.28"/><circle cx="206.0" cy="402.0" r="1.28"/><circle cx="207.0" cy="403.7" r="1.28"/><circle cx="207.5" cy="403.3" r="1.28"/><circle cx="208.5" cy="403.1" r="1.28"/><circle cx="209.2" cy="402.5" r="1.28"/><circle cx="210.1" cy="403.0" r="1.28"/><circle cx="211.0" cy="405.7" r="1.28"/><circle cx="211.6" cy="404.4" r="1.28"/><circle cx="212.6" cy="405.0" r="1.28"/><circle cx="213.1" cy="404.9" r="1.28"/><circle cx="214.1" cy="404.9" r="1.28"/><circle cx="214.9" cy="406.0" r="1.28"/><circle cx="215.7" cy="405.2" r="1.28"/><circle cx="216.5" cy="406.3" r="1.28"/><circle cx="217.3" cy="407.2" r="1.28"/><circle cx="217.9" cy="405.9" r="1.28"/><circle cx="219.0" cy="405.9" r="1.28"/><circle cx="219.5" cy="406.1" r="1.28"/><circle cx="220.5" cy="406.5" r="1.28"/><circle cx="221.3" cy="405.6" r="1.28"/><circle cx="222.1" cy="406.3" r="1.28"/><circle cx="222.7" cy="405.7" r="1.28"/><circle cx="223.5" cy="406.2" r="1.28"/><circle cx="224.6" cy="408.0" r="1.28"/><circle cx="225.4" cy="407.6" r="1.28"/><circle cx="226.1" cy="404.3" r="1.28"/><circle cx="227.0" cy="406.0" r="1.28"/><circle cx="227.8" cy="405.3" r="1.28"/><circle cx="228.4" cy="404.0" r="1.28"/><circle cx="229.1" cy="407.8" r="1.28"/><circle cx="230.0" cy="406.7" r="1.28"/><circle cx="230.8" cy="409.7" r="1.28"/><circle cx="231.7" cy="408.3" r="1.28"/><circle cx="232.6" cy="408.0" r="1.28"/><circle cx="233.2" cy="407.5" r="1.28"/><circle cx="234.3" cy="407.0" r="1.28"/><circle cx="234.8" cy="405.5" r="1.28"/><circle cx="235.7" cy="408.8" r="1.28"/><circle cx="236.5" cy="407.8" r="1.28"/><circle cx="237.4" cy="411.0" r="1.28"/><circle cx="238.0" cy="408.4" r="1.28"/><circle cx="238.7" cy="408.6" r="1.28"/><circle cx="239.9" cy="409.2" r="1.28"/><circle cx="240.6" cy="407.1" r="1.28"/><circle cx="241.2" cy="409.2" r="1.28"/><circle cx="242.1" cy="408.3" r="1.28"/><circle cx="243.0" cy="409.6" r="1.28"/><circle cx="243.6" cy="408.7" r="1.28"/><circle cx="244.6" cy="410.3" r="1.28"/><circle cx="245.3" cy="409.5" r="1.28"/><circle cx="246.3" cy="410.6" r="1.28"/><circle cx="247.1" cy="407.5" r="1.28"/><circle cx="247.8" cy="410.1" r="1.28"/><circle cx="248.3" cy="409.9" r="1.28"/><circle cx="249.4" cy="409.1" r="1.28"/><circle cx="250.3" cy="408.4" r="1.28"/><circle cx="250.9" cy="409.0" r="1.28"/><circle cx="251.9" cy="408.8" r="1.28"/><circle cx="252.5" cy="408.8" r="1.28"/><circle cx="253.3" cy="411.9" r="1.28"/><circle cx="254.2" cy="407.5" r="1.28"/><circle cx="254.8" cy="410.5" r="1.28"/><circle cx="255.7" cy="409.1" r="1.28"/><circle cx="256.5" cy="411.6" r="1.28"/><circle cx="257.3" cy="412.5" r="1.28"/><circle cx="258.2" cy="410.4" r="1.28"/><circle cx="258.8" cy="410.5" r="1.28"/><circle cx="259.8" cy="409.6" r="1.28"/><circle cx="260.6" cy="408.3" r="1.28"/><circle cx="261.4" cy="410.2" r="1.28"/><circle cx="262.3" cy="409.2" r="1.28"/><circle cx="262.9" cy="412.0" r="1.28"/><circle cx="263.7" cy="411.5" r="1.28"/><circle cx="264.4" cy="411.6" r="1.28"/><circle cx="265.2" cy="411.2" r="1.28"/><circle cx="266.0" cy="411.2" r="1.28"/><circle cx="267.1" cy="411.7" r="1.28"/></g>
<polyline clip-path="url(#clipn)" points="171.88,372.30 172.00,373.14 172.13,373.87 172.25,374.49 172.38,375.00 172.50,375.45 172.62,375.86 172.75,376.25 172.87,376.61 172.99,376.95 173.12,377.27 173.24,377.57 173.36,377.85 173.49,378.12 173.61,378.38 173.73,378.63 173.86,378.87 173.98,379.11 174.10,379.35 174.23,379.59 174.35,379.83 174.47,380.08 174.60,380.32 174.72,380.57 174.84,380.81 174.97,381.05 175.09,381.28 175.21,381.51 175.34,381.74 175.46,381.97 175.59,382.19 175.71,382.41 175.83,382.63 175.96,382.85 176.08,383.06 176.20,383.27 176.33,383.48 176.45,383.69 176.57,383.89 176.70,384.10 176.86,384.35 177.62,385.54 178.38,386.64 179.15,387.68 179.91,388.69 180.67,389.67 181.44,390.62 182.20,391.50 182.96,392.33 183.73,393.08 184.49,393.74 185.25,394.32 186.02,394.81 186.78,395.26 187.54,395.67 188.31,396.05 189.07,396.44 189.83,396.84 190.60,397.23 191.36,397.62 192.12,398.01 192.89,398.39 193.65,398.77 194.41,399.13 195.18,399.49 195.94,399.83 196.71,400.16 197.47,400.47 198.23,400.77 199.00,401.04 199.76,401.30 200.52,401.54 201.29,401.77 202.05,401.99 202.81,402.20 203.58,402.40 204.34,402.60 205.10,402.78 205.87,402.97 206.63,403.15 207.39,403.32 208.16,403.50 208.92,403.67 209.68,403.84 210.45,404.01 211.21,404.18 211.97,404.35 212.74,404.51 213.50,404.67 214.26,404.83 215.03,404.99 215.79,405.14 216.55,405.29 217.32,405.44 218.08,405.58 218.84,405.72 219.61,405.85 220.37,405.98 221.13,406.11 221.90,406.23 222.66,406.35 223.42,406.46 224.19,406.57 224.95,406.68 225.71,406.79 226.48,406.89 227.24,407.00 228.00,407.10 228.77,407.21 229.53,407.32 230.29,407.42 231.06,407.54 231.82,407.65 232.58,407.76 233.35,407.88 234.11,408.00 234.87,408.12 235.64,408.24 236.40,408.35 237.16,408.46 237.93,408.57 238.69,408.68 239.45,408.78 240.22,408.87 240.98,408.96 241.74,409.04 242.51,409.11 243.27,409.18 244.04,409.24 244.80,409.31 245.56,409.37 246.33,409.43 247.09,409.49 247.85,409.55 248.62,409.61 249.38,409.67 250.14,409.73 250.91,409.80 251.67,409.88 252.43,409.96 253.20,410.04 253.96,410.13 254.72,410.22 255.49,410.31 256.25,410.40 257.01,410.50 257.78,410.59 258.54,410.68 259.30,410.77 260.07,410.86 260.83,410.94 261.59,411.02 262.36,411.09 263.12,411.16 263.88,411.23 264.65,411.29 265.41,411.36 266.17,411.42 266.94,411.48 267.70,411.54" fill="none" stroke="#ff2a1a" stroke-width="0.7"/>
<rect x="168.50" y="357.30" width="99.30" height="99.70" fill="none" stroke="#5a5a5a" stroke-width="1.1"/>
<path d="M171.40,457.00v-2M171.40,357.30v2M187.45,457.00v-2M187.45,357.30v2M203.50,457.00v-2M203.50,357.30v2M219.55,457.00v-2M219.55,357.30v2M235.60,457.00v-2M235.60,357.30v2M251.65,457.00v-2M251.65,357.30v2M168.50,448.01h1.1M267.80,448.01h-1.1M168.50,442.76h1.1M267.80,442.76h-1.1M168.50,439.03h1.1M267.80,439.03h-1.1M168.50,436.14h1.1M267.80,436.14h-1.1M168.50,433.78h1.1M267.80,433.78h-1.1M168.50,431.78h1.1M267.80,431.78h-1.1M168.50,430.05h1.1M267.80,430.05h-1.1M168.50,428.52h1.1M267.80,428.52h-1.1M168.50,427.16h2.0M267.80,427.16h-2.0M168.50,418.18h1.1M267.80,418.18h-1.1M168.50,412.93h1.1M267.80,412.93h-1.1M168.50,409.20h1.1M267.80,409.20h-1.1M168.50,406.31h1.1M267.80,406.31h-1.1M168.50,403.95h1.1M267.80,403.95h-1.1M168.50,401.95h1.1M267.80,401.95h-1.1M168.50,400.22h1.1M267.80,400.22h-1.1M168.50,398.69h1.1M267.80,398.69h-1.1M168.50,397.33h2.0M267.80,397.33h-2.0M168.50,388.35h1.1M267.80,388.35h-1.1M168.50,383.10h1.1M267.80,383.10h-1.1M168.50,379.37h1.1M267.80,379.37h-1.1M168.50,376.48h1.1M267.80,376.48h-1.1M168.50,374.12h1.1M267.80,374.12h-1.1M168.50,372.12h1.1M267.80,372.12h-1.1M168.50,370.39h1.1M267.80,370.39h-1.1M168.50,368.86h1.1M267.80,368.86h-1.1M168.50,367.50h2.0M267.80,367.50h-2.0M168.50,358.52h1.1M267.80,358.52h-1.1" stroke="#444" stroke-width="0.7" fill="none"/>
<text x="171.90" y="465.80" text-anchor="middle" font-family="'Liberation Serif', 'Times New Roman', serif" fill="#2e2e2e" stroke="#2e2e2e" stroke-width="0.1" font-size="8.8px">0</text>
<text x="204.00" y="465.80" text-anchor="middle" font-family="'Liberation Serif', 'Times New Roman', serif" fill="#2e2e2e" stroke="#2e2e2e" stroke-width="0.1" font-size="8.8px">200</text>
<text x="236.10" y="465.80" text-anchor="middle" font-family="'Liberation Serif', 'Times New Roman', serif" fill="#2e2e2e" stroke="#2e2e2e" stroke-width="0.1" font-size="8.8px">400</text>
<text x="268.20" y="465.80" text-anchor="middle" font-family="'Liberation Serif', 'Times New Roman', serif" fill="#2e2e2e" stroke="#2e2e2e" stroke-width="0.1" font-size="8.8px">600</text>
<text x="221.10" y="473.50" text-anchor="middle" font-family="'Liberation Serif', 'Times New Roman', serif" fill="#2e2e2e" stroke="#2e2e2e" stroke-width="0.1" font-size="8.8px">Probe Delay (ps)</text>
<text x="166.60" y="370.40" text-anchor="end" font-family="'Liberation Serif', 'Times New Roman', serif" fill="#2e2e2e" stroke="#2e2e2e" stroke-width="0.1" font-size="8.5px">10<tspan dx="0.5" dy="-4.4" font-size="4.5px" letter-spacing="-0.3">-2</tspan></text>
<text x="166.60" y="400.23" text-anchor="end" font-family="'Liberation Serif', 'Times New Roman', serif" fill="#2e2e2e" stroke="#2e2e2e" stroke-width="0.1" font-size="8.5px">10<tspan dx="0.5" dy="-4.4" font-size="4.5px" letter-spacing="-0.3">-3</tspan></text>
<text x="166.60" y="430.06" text-anchor="end" font-family="'Liberation Serif', 'Times New Roman', serif" fill="#2e2e2e" stroke="#2e2e2e" stroke-width="0.1" font-size="8.5px">10<tspan dx="0.5" dy="-4.4" font-size="4.5px" letter-spacing="-0.3">-4</tspan></text>
<text x="166.60" y="459.89" text-anchor="end" font-family="'Liberation Serif', 'Times New Roman', serif" fill="#2e2e2e" stroke="#2e2e2e" stroke-width="0.1" font-size="8.5px">10<tspan dx="0.5" dy="-4.4" font-size="4.5px" letter-spacing="-0.3">-5</tspan></text>
<text transform="translate(151.70,406.65) rotate(-90)" text-anchor="middle" font-family="'Liberation Serif', 'Times New Roman', serif" fill="#2e2e2e" stroke="#2e2e2e" stroke-width="0.1" font-style="italic" font-size="8.8px"><tspan font-style="normal">&#916;</tspan>R/R<tspan dy="1.4" font-size="5.8px" font-style="normal">0</tspan></text>
<text x="266.30" y="370.00" text-anchor="end" font-family="'Liberation Sans', Arial, sans-serif" font-weight="bold" font-size="13.9px" fill="#0c0c0c" stroke="#0c0c0c" stroke-width="0.3">(n)</text>
<text x="255.80" y="447.00" text-anchor="end" font-family="'Liberation Serif', 'Times New Roman', serif" fill="#2e2e2e" stroke="#2e2e2e" stroke-width="0.1" font-size="11.1px">134 ps</text>
<rect x="308.30" y="359.30" width="99.00" height="99.10" fill="#fff"/>
<clipPath id="clipo"><rect x="308.70" y="359.30" width="98.60" height="98.80"/></clipPath>
<g clip-path="url(#clipo)" fill="#6a6ae6"><circle cx="310.7" cy="373.6" r="1.15"/><circle cx="311.0" cy="376.0" r="1.15"/><circle cx="310.9" cy="377.7" r="1.15"/><circle cx="311.0" cy="379.8" r="1.15"/><circle cx="311.1" cy="381.5" r="1.15"/><circle cx="310.9" cy="383.5" r="1.15"/><circle cx="310.9" cy="385.6" r="1.15"/><circle cx="310.7" cy="388.1" r="1.15"/><circle cx="310.8" cy="390.2" r="1.15"/><circle cx="310.9" cy="395.4" r="1.15"/><circle cx="311.0" cy="400.6" r="1.15"/><circle cx="311.1" cy="406.4" r="1.15"/><circle cx="310.8" cy="412.0" r="1.15"/><circle cx="310.7" cy="425.5" r="1.15"/><circle cx="310.8" cy="430.7" r="1.15"/><circle cx="311.1" cy="439.0" r="1.15"/><circle cx="310.8" cy="444.7" r="1.15"/><circle cx="310.9" cy="448.0" r="1.15"/><circle cx="311.1" cy="450.5" r="1.15"/><circle cx="312.3" cy="372.0" r="1.15"/><circle cx="312.6" cy="374.5" r="1.15"/><circle cx="312.7" cy="377.0" r="1.15"/><circle cx="312.4" cy="379.5" r="1.15"/><circle cx="312.5" cy="382.0" r="1.15"/><circle cx="312.7" cy="384.5" r="1.15"/><circle cx="312.3" cy="387.0" r="1.15"/><circle cx="311.0" cy="369.7" r="1.15"/><circle cx="311.0" cy="369.9" r="1.15"/><circle cx="311.0" cy="370.1" r="1.15"/><circle cx="311.0" cy="370.2" r="1.15"/><circle cx="311.2" cy="370.5" r="1.15"/><circle cx="311.0" cy="370.6" r="1.15"/><circle cx="311.1" cy="370.8" r="1.15"/><circle cx="311.1" cy="371.0" r="1.15"/><circle cx="311.1" cy="371.1" r="1.15"/><circle cx="311.3" cy="371.3" r="1.15"/><circle cx="311.1" cy="371.4" r="1.15"/><circle cx="311.3" cy="371.4" r="1.15"/><circle cx="311.3" cy="371.4" r="1.15"/><circle cx="311.3" cy="371.5" r="1.15"/><circle cx="311.3" cy="371.6" r="1.15"/><circle cx="311.4" cy="371.6" r="1.15"/><circle cx="311.2" cy="371.7" r="1.15"/><circle cx="311.3" cy="371.8" r="1.15"/><circle cx="311.6" cy="371.8" r="1.15"/><circle cx="311.6" cy="371.9" r="1.15"/><circle cx="311.6" cy="371.9" r="1.15"/><circle cx="311.3" cy="372.0" r="1.15"/><circle cx="311.6" cy="372.0" r="1.15"/><circle cx="311.5" cy="372.0" r="1.15"/><circle cx="311.5" cy="372.1" r="1.15"/><circle cx="311.5" cy="372.1" r="1.15"/><circle cx="311.6" cy="372.2" r="1.15"/><circle cx="311.7" cy="372.2" r="1.15"/><circle cx="311.6" cy="372.3" r="1.15"/><circle cx="311.8" cy="372.4" r="1.15"/><circle cx="311.8" cy="372.4" r="1.15"/><circle cx="311.9" cy="372.5" r="1.15"/><circle cx="311.9" cy="372.4" r="1.15"/><circle cx="311.8" cy="372.4" r="1.15"/><circle cx="311.6" cy="372.5" r="1.15"/><circle cx="311.8" cy="372.5" r="1.15"/><circle cx="311.9" cy="372.6" r="1.15"/><circle cx="311.9" cy="372.7" r="1.15"/><circle cx="311.7" cy="372.7" r="1.15"/><circle cx="312.0" cy="372.8" r="1.15"/><circle cx="312.2" cy="372.9" r="1.15"/><circle cx="312.4" cy="373.0" r="1.15"/><circle cx="312.5" cy="373.1" r="1.15"/><circle cx="312.5" cy="373.2" r="1.15"/><circle cx="312.6" cy="373.3" r="1.15"/><circle cx="313.0" cy="373.4" r="1.15"/><circle cx="313.2" cy="373.6" r="1.15"/><circle cx="313.1" cy="373.6" r="1.15"/><circle cx="313.5" cy="373.7" r="1.15"/><circle cx="313.3" cy="373.7" r="1.15"/><circle cx="313.6" cy="373.8" r="1.15"/><circle cx="313.6" cy="373.9" r="1.15"/><circle cx="314.0" cy="373.9" r="1.15"/><circle cx="314.0" cy="374.0" r="1.15"/><circle cx="314.2" cy="374.0" r="1.15"/><circle cx="314.5" cy="374.1" r="1.15"/><circle cx="314.6" cy="374.2" r="1.15"/><circle cx="314.8" cy="374.3" r="1.15"/><circle cx="314.6" cy="374.3" r="1.15"/><circle cx="314.8" cy="374.3" r="1.15"/><circle cx="315.2" cy="374.3" r="1.15"/><circle cx="315.0" cy="374.4" r="1.15"/><circle cx="315.3" cy="374.4" r="1.15"/><circle cx="315.5" cy="374.5" r="1.15"/><circle cx="315.7" cy="374.5" r="1.15"/><circle cx="315.7" cy="374.5" r="1.15"/><circle cx="316.0" cy="374.6" r="1.15"/><circle cx="316.4" cy="374.8" r="1.15"/><circle cx="317.0" cy="374.8" r="1.15"/><circle cx="317.3" cy="374.9" r="1.15"/><circle cx="317.4" cy="375.0" r="1.15"/><circle cx="317.9" cy="375.1" r="1.15"/><circle cx="318.4" cy="375.2" r="1.15"/><circle cx="318.6" cy="375.2" r="1.15"/><circle cx="319.1" cy="375.5" r="1.15"/><circle cx="319.1" cy="375.7" r="1.15"/><circle cx="319.7" cy="375.5" r="1.15"/><circle cx="320.1" cy="375.8" r="1.15"/><circle cx="320.6" cy="375.8" r="1.15"/><circle cx="320.9" cy="376.0" r="1.15"/><circle cx="320.9" cy="376.2" r="1.15"/><circle cx="321.6" cy="376.1" r="1.15"/><circle cx="321.9" cy="376.3" r="1.15"/><circle cx="322.0" cy="376.5" r="1.15"/><circle cx="322.5" cy="376.4" r="1.15"/><circle cx="322.7" cy="376.5" r="1.15"/><circle cx="323.2" cy="376.7" r="1.15"/><circle cx="323.4" cy="376.8" r="1.15"/><circle cx="324.0" cy="376.9" r="1.15"/><circle cx="324.2" cy="377.0" r="1.15"/><circle cx="324.8" cy="377.0" r="1.15"/><circle cx="325.0" cy="377.2" r="1.15"/><circle cx="325.4" cy="377.2" r="1.15"/><circle cx="325.6" cy="377.1" r="1.15"/><circle cx="326.2" cy="377.4" r="1.15"/><circle cx="326.5" cy="377.6" r="1.15"/><circle cx="326.7" cy="377.6" r="1.15"/><circle cx="327.2" cy="377.6" r="1.15"/><circle cx="327.6" cy="377.5" r="1.15"/><circle cx="327.6" cy="378.1" r="1.15"/><circle cx="328.0" cy="377.7" r="1.15"/><circle cx="328.6" cy="378.1" r="1.15"/><circle cx="328.9" cy="378.2" r="1.15"/><circle cx="329.2" cy="378.2" r="1.15"/><circle cx="329.7" cy="378.1" r="1.15"/><circle cx="329.9" cy="378.2" r="1.15"/><circle cx="330.2" cy="378.5" r="1.15"/><circle cx="330.9" cy="378.7" r="1.15"/><circle cx="331.8" cy="378.7" r="1.15"/><circle cx="332.9" cy="378.9" r="1.15"/><circle cx="333.3" cy="379.2" r="1.15"/><circle cx="334.5" cy="379.3" r="1.15"/><circle cx="335.3" cy="379.4" r="1.15"/><circle cx="335.8" cy="379.7" r="1.15"/><circle cx="336.5" cy="379.9" r="1.15"/><circle cx="337.4" cy="380.3" r="1.15"/><circle cx="338.1" cy="380.2" r="1.15"/><circle cx="338.9" cy="380.3" r="1.15"/><circle cx="339.8" cy="380.4" r="1.15"/><circle cx="340.8" cy="380.7" r="1.15"/><circle cx="341.3" cy="380.8" r="1.15"/><circle cx="342.5" cy="381.1" r="1.15"/><circle cx="343.2" cy="381.1" r="1.15"/><circle cx="344.1" cy="381.2" r="1.15"/><circle cx="344.7" cy="381.5" r="1.15"/><circle cx="345.7" cy="381.8" r="1.15"/><circle cx="346.3" cy="381.7" r="1.15"/><circle cx="347.1" cy="382.0" r="1.15"/><circle cx="347.9" cy="382.3" r="1.15"/><circle cx="348.8" cy="382.2" r="1.15"/><circle cx="349.4" cy="382.6" r="1.15"/><circle cx="350.4" cy="382.4" r="1.15"/><circle cx="351.3" cy="382.6" r="1.15"/><circle cx="351.9" cy="382.7" r="1.15"/><circle cx="352.6" cy="382.9" r="1.15"/><circle cx="353.7" cy="383.2" r="1.15"/><circle cx="354.6" cy="383.0" r="1.15"/><circle cx="355.2" cy="383.0" r="1.15"/><circle cx="355.8" cy="383.6" r="1.15"/><circle cx="356.9" cy="383.7" r="1.15"/><circle cx="357.7" cy="383.2" r="1.15"/><circle cx="358.2" cy="383.8" r="1.15"/><circle cx="359.3" cy="384.2" r="1.15"/><circle cx="359.9" cy="383.9" r="1.15"/><circle cx="360.9" cy="383.9" r="1.15"/><circle cx="361.6" cy="384.3" r="1.15"/><circle cx="362.5" cy="384.4" r="1.15"/><circle cx="363.3" cy="384.2" r="1.15"/><circle cx="364.0" cy="384.3" r="1.15"/><circle cx="364.8" cy="384.5" r="1.15"/><circle cx="365.5" cy="384.6" r="1.15"/><circle cx="366.2" cy="384.3" r="1.15"/><circle cx="367.2" cy="384.5" r="1.15"/><circle cx="368.2" cy="385.0" r="1.15"/><circle cx="368.9" cy="385.3" r="1.15"/><circle cx="369.6" cy="385.0" r="1.15"/><circle cx="370.4" cy="385.6" r="1.15"/><circle cx="371.3" cy="385.6" r="1.15"/><circle cx="372.3" cy="385.6" r="1.15"/><circle cx="372.9" cy="386.1" r="1.15"/><circle cx="373.6" cy="386.5" r="1.15"/><circle cx="374.6" cy="386.1" r="1.15"/><circle cx="375.3" cy="386.3" r="1.15"/><circle cx="376.0" cy="386.3" r="1.15"/><circle cx="377.0" cy="386.8" r="1.15"/><circle cx="377.7" cy="386.6" r="1.15"/><circle cx="378.7" cy="386.4" r="1.15"/><circle cx="379.1" cy="386.4" r="1.15"/><circle cx="380.1" cy="386.8" r="1.15"/><circle cx="381.0" cy="386.8" r="1.15"/><circle cx="381.7" cy="387.0" r="1.15"/><circle cx="382.5" cy="387.3" r="1.15"/><circle cx="383.4" cy="387.3" r="1.15"/><circle cx="384.3" cy="387.8" r="1.15"/><circle cx="384.9" cy="387.6" r="1.15"/><circle cx="385.9" cy="387.6" r="1.15"/><circle cx="386.5" cy="387.6" r="1.15"/><circle cx="387.5" cy="388.7" r="1.15"/><circle cx="388.0" cy="388.4" r="1.15"/><circle cx="388.9" cy="388.7" r="1.15"/><circle cx="389.6" cy="388.9" r="1.15"/><circle cx="390.6" cy="388.5" r="1.15"/><circle cx="391.3" cy="389.1" r="1.15"/><circle cx="392.2" cy="389.2" r="1.15"/><circle cx="392.9" cy="388.9" r="1.15"/><circle cx="393.6" cy="389.4" r="1.15"/><circle cx="394.5" cy="389.9" r="1.15"/><circle cx="395.4" cy="390.2" r="1.15"/><circle cx="396.1" cy="391.0" r="1.15"/><circle cx="397.0" cy="390.9" r="1.15"/><circle cx="397.8" cy="390.4" r="1.15"/><circle cx="398.5" cy="390.7" r="1.15"/><circle cx="399.2" cy="390.7" r="1.15"/><circle cx="400.1" cy="390.7" r="1.15"/><circle cx="401.1" cy="391.4" r="1.15"/><circle cx="401.6" cy="391.7" r="1.15"/><circle cx="402.8" cy="391.3" r="1.15"/><circle cx="403.4" cy="391.5" r="1.15"/><circle cx="404.1" cy="391.7" r="1.15"/><circle cx="405.0" cy="391.4" r="1.15"/><circle cx="405.9" cy="392.4" r="1.15"/><circle cx="406.5" cy="393.1" r="1.15"/></g><g clip-path="url(#clipo)" fill="none" stroke="#1a1af8" stroke-width="0.8"><circle cx="310.7" cy="373.6" r="1.28"/><circle cx="311.0" cy="376.0" r="1.28"/><circle cx="310.9" cy="377.7" r="1.28"/><circle cx="311.0" cy="379.8" r="1.28"/><circle cx="311.1" cy="381.5" r="1.28"/><circle cx="310.9" cy="383.5" r="1.28"/><circle cx="310.9" cy="385.6" r="1.28"/><circle cx="310.7" cy="388.1" r="1.28"/><circle cx="310.8" cy="390.2" r="1.28"/><circle cx="310.9" cy="395.4" r="1.28"/><circle cx="311.0" cy="400.6" r="1.28"/><circle cx="311.1" cy="406.4" r="1.28"/><circle cx="310.8" cy="412.0" r="1.28"/><circle cx="310.7" cy="425.5" r="1.28"/><circle cx="310.8" cy="430.7" r="1.28"/><circle cx="311.1" cy="439.0" r="1.28"/><circle cx="310.8" cy="444.7" r="1.28"/><circle cx="310.9" cy="448.0" r="1.28"/><circle cx="311.1" cy="450.5" r="1.28"/><circle cx="312.3" cy="372.0" r="1.28"/><circle cx="312.6" cy="374.5" r="1.28"/><circle cx="312.7" cy="377.0" r="1.28"/><circle cx="312.4" cy="379.5" r="1.28"/><circle cx="312.5" cy="382.0" r="1.28"/><circle cx="312.7" cy="384.5" r="1.28"/><circle cx="312.3" cy="387.0" r="1.28"/><circle cx="311.0" cy="369.7" r="1.28"/><circle cx="311.0" cy="369.9" r="1.28"/><circle cx="311.0" cy="370.1" r="1.28"/><circle cx="311.0" cy="370.2" r="1.28"/><circle cx="311.2" cy="370.5" r="1.28"/><circle cx="311.0" cy="370.6" r="1.28"/><circle cx="311.1" cy="370.8" r="1.28"/><circle cx="311.1" cy="371.0" r="1.28"/><circle cx="311.1" cy="371.1" r="1.28"/><circle cx="311.3" cy="371.3" r="1.28"/><circle cx="311.1" cy="371.4" r="1.28"/><circle cx="311.3" cy="371.4" r="1.28"/><circle cx="311.3" cy="371.4" r="1.28"/><circle cx="311.3" cy="371.5" r="1.28"/><circle cx="311.3" cy="371.6" r="1.28"/><circle cx="311.4" cy="371.6" r="1.28"/><circle cx="311.2" cy="371.7" r="1.28"/><circle cx="311.3" cy="371.8" r="1.28"/><circle cx="311.6" cy="371.8" r="1.28"/><circle cx="311.6" cy="371.9" r="1.28"/><circle cx="311.6" cy="371.9" r="1.28"/><circle cx="311.3" cy="372.0" r="1.28"/><circle cx="311.6" cy="372.0" r="1.28"/><circle cx="311.5" cy="372.0" r="1.28"/><circle cx="311.5" cy="372.1" r="1.28"/><circle cx="311.5" cy="372.1" r="1.28"/><circle cx="311.6" cy="372.2" r="1.28"/><circle cx="311.7" cy="372.2" r="1.28"/><circle cx="311.6" cy="372.3" r="1.28"/><circle cx="311.8" cy="372.4" r="1.28"/><circle cx="311.8" cy="372.4" r="1.28"/><circle cx="311.9" cy="372.5" r="1.28"/><circle cx="311.9" cy="372.4" r="1.28"/><circle cx="311.8" cy="372.4" r="1.28"/><circle cx="311.6" cy="372.5" r="1.28"/><circle cx="311.8" cy="372.5" r="1.28"/><circle cx="311.9" cy="372.6" r="1.28"/><circle cx="311.9" cy="372.7" r="1.28"/><circle cx="311.7" cy="372.7" r="1.28"/><circle cx="312.0" cy="372.8" r="1.28"/><circle cx="312.2" cy="372.9" r="1.28"/><circle cx="312.4" cy="373.0" r="1.28"/><circle cx="312.5" cy="373.1" r="1.28"/><circle cx="312.5" cy="373.2" r="1.28"/><circle cx="312.6" cy="373.3" r="1.28"/><circle cx="313.0" cy="373.4" r="1.28"/><circle cx="313.2" cy="373.6" r="1.28"/><circle cx="313.1" cy="373.6" r="1.28"/><circle cx="313.5" cy="373.7" r="1.28"/><circle cx="313.3" cy="373.7" r="1.28"/><circle cx="313.6" cy="373.8" r="1.28"/><circle cx="313.6" cy="373.9" r="1.28"/><circle cx="314.0" cy="373.9" r="1.28"/><circle cx="314.0" cy="374.0" r="1.28"/><circle cx="314.2" cy="374.0" r="1.28"/><circle cx="314.5" cy="374.1" r="1.28"/><circle cx="314.6" cy="374.2" r="1.28"/><circle cx="314.8" cy="374.3" r="1.28"/><circle cx="314.6" cy="374.3" r="1.28"/><circle cx="314.8" cy="374.3" r="1.28"/><circle cx="315.2" cy="374.3" r="1.28"/><circle cx="315.0" cy="374.4" r="1.28"/><circle cx="315.3" cy="374.4" r="1.28"/><circle cx="315.5" cy="374.5" r="1.28"/><circle cx="315.7" cy="374.5" r="1.28"/><circle cx="315.7" cy="374.5" r="1.28"/><circle cx="316.0" cy="374.6" r="1.28"/><circle cx="316.4" cy="374.8" r="1.28"/><circle cx="317.0" cy="374.8" r="1.28"/><circle cx="317.3" cy="374.9" r="1.28"/><circle cx="317.4" cy="375.0" r="1.28"/><circle cx="317.9" cy="375.1" r="1.28"/><circle cx="318.4" cy="375.2" r="1.28"/><circle cx="318.6" cy="375.2" r="1.28"/><circle cx="319.1" cy="375.5" r="1.28"/><circle cx="319.1" cy="375.7" r="1.28"/><circle cx="319.7" cy="375.5" r="1.28"/><circle cx="320.1" cy="375.8" r="1.28"/><circle cx="320.6" cy="375.8" r="1.28"/><circle cx="320.9" cy="376.0" r="1.28"/><circle cx="320.9" cy="376.2" r="1.28"/><circle cx="321.6" cy="376.1" r="1.28"/><circle cx="321.9" cy="376.3" r="1.28"/><circle cx="322.0" cy="376.5" r="1.28"/><circle cx="322.5" cy="376.4" r="1.28"/><circle cx="322.7" cy="376.5" r="1.28"/><circle cx="323.2" cy="376.7" r="1.28"/><circle cx="323.4" cy="376.8" r="1.28"/><circle cx="324.0" cy="376.9" r="1.28"/><circle cx="324.2" cy="377.0" r="1.28"/><circle cx="324.8" cy="377.0" r="1.28"/><circle cx="325.0" cy="377.2" r="1.28"/><circle cx="325.4" cy="377.2" r="1.28"/><circle cx="325.6" cy="377.1" r="1.28"/><circle cx="326.2" cy="377.4" r="1.28"/><circle cx="326.5" cy="377.6" r="1.28"/><circle cx="326.7" cy="377.6" r="1.28"/><circle cx="327.2" cy="377.6" r="1.28"/><circle cx="327.6" cy="377.5" r="1.28"/><circle cx="327.6" cy="378.1" r="1.28"/><circle cx="328.0" cy="377.7" r="1.28"/><circle cx="328.6" cy="378.1" r="1.28"/><circle cx="328.9" cy="378.2" r="1.28"/><circle cx="329.2" cy="378.2" r="1.28"/><circle cx="329.7" cy="378.1" r="1.28"/><circle cx="329.9" cy="378.2" r="1.28"/><circle cx="330.2" cy="378.5" r="1.28"/><circle cx="330.9" cy="378.7" r="1.28"/><circle cx="331.8" cy="378.7" r="1.28"/><circle cx="332.9" cy="378.9" r="1.28"/><circle cx="333.3" cy="379.2" r="1.28"/><circle cx="334.5" cy="379.3" r="1.28"/><circle cx="335.3" cy="379.4" r="1.28"/><circle cx="335.8" cy="379.7" r="1.28"/><circle cx="336.5" cy="379.9" r="1.28"/><circle cx="337.4" cy="380.3" r="1.28"/><circle cx="338.1" cy="380.2" r="1.28"/><circle cx="338.9" cy="380.3" r="1.28"/><circle cx="339.8" cy="380.4" r="1.28"/><circle cx="340.8" cy="380.7" r="1.28"/><circle cx="341.3" cy="380.8" r="1.28"/><circle cx="342.5" cy="381.1" r="1.28"/><circle cx="343.2" cy="381.1" r="1.28"/><circle cx="344.1" cy="381.2" r="1.28"/><circle cx="344.7" cy="381.5" r="1.28"/><circle cx="345.7" cy="381.8" r="1.28"/><circle cx="346.3" cy="381.7" r="1.28"/><circle cx="347.1" cy="382.0" r="1.28"/><circle cx="347.9" cy="382.3" r="1.28"/><circle cx="348.8" cy="382.2" r="1.28"/><circle cx="349.4" cy="382.6" r="1.28"/><circle cx="350.4" cy="382.4" r="1.28"/><circle cx="351.3" cy="382.6" r="1.28"/><circle cx="351.9" cy="382.7" r="1.28"/><circle cx="352.6" cy="382.9" r="1.28"/><circle cx="353.7" cy="383.2" r="1.28"/><circle cx="354.6" cy="383.0" r="1.28"/><circle cx="355.2" cy="383.0" r="1.28"/><circle cx="355.8" cy="383.6" r="1.28"/><circle cx="356.9" cy="383.7" r="1.28"/><circle cx="357.7" cy="383.2" r="1.28"/><circle cx="358.2" cy="383.8" r="1.28"/><circle cx="359.3" cy="384.2" r="1.28"/><circle cx="359.9" cy="383.9" r="1.28"/><circle cx="360.9" cy="383.9" r="1.28"/><circle cx="361.6" cy="384.3" r="1.28"/><circle cx="362.5" cy="384.4" r="1.28"/><circle cx="363.3" cy="384.2" r="1.28"/><circle cx="364.0" cy="384.3" r="1.28"/><circle cx="364.8" cy="384.5" r="1.28"/><circle cx="365.5" cy="384.6" r="1.28"/><circle cx="366.2" cy="384.3" r="1.28"/><circle cx="367.2" cy="384.5" r="1.28"/><circle cx="368.2" cy="385.0" r="1.28"/><circle cx="368.9" cy="385.3" r="1.28"/><circle cx="369.6" cy="385.0" r="1.28"/><circle cx="370.4" cy="385.6" r="1.28"/><circle cx="371.3" cy="385.6" r="1.28"/><circle cx="372.3" cy="385.6" r="1.28"/><circle cx="372.9" cy="386.1" r="1.28"/><circle cx="373.6" cy="386.5" r="1.28"/><circle cx="374.6" cy="386.1" r="1.28"/><circle cx="375.3" cy="386.3" r="1.28"/><circle cx="376.0" cy="386.3" r="1.28"/><circle cx="377.0" cy="386.8" r="1.28"/><circle cx="377.7" cy="386.6" r="1.28"/><circle cx="378.7" cy="386.4" r="1.28"/><circle cx="379.1" cy="386.4" r="1.28"/><circle cx="380.1" cy="386.8" r="1.28"/><circle cx="381.0" cy="386.8" r="1.28"/><circle cx="381.7" cy="387.0" r="1.28"/><circle cx="382.5" cy="387.3" r="1.28"/><circle cx="383.4" cy="387.3" r="1.28"/><circle cx="384.3" cy="387.8" r="1.28"/><circle cx="384.9" cy="387.6" r="1.28"/><circle cx="385.9" cy="387.6" r="1.28"/><circle cx="386.5" cy="387.6" r="1.28"/><circle cx="387.5" cy="388.7" r="1.28"/><circle cx="388.0" cy="388.4" r="1.28"/><circle cx="388.9" cy="388.7" r="1.28"/><circle cx="389.6" cy="388.9" r="1.28"/><circle cx="390.6" cy="388.5" r="1.28"/><circle cx="391.3" cy="389.1" r="1.28"/><circle cx="392.2" cy="389.2" r="1.28"/><circle cx="392.9" cy="388.9" r="1.28"/><circle cx="393.6" cy="389.4" r="1.28"/><circle cx="394.5" cy="389.9" r="1.28"/><circle cx="395.4" cy="390.2" r="1.28"/><circle cx="396.1" cy="391.0" r="1.28"/><circle cx="397.0" cy="390.9" r="1.28"/><circle cx="397.8" cy="390.4" r="1.28"/><circle cx="398.5" cy="390.7" r="1.28"/><circle cx="399.2" cy="390.7" r="1.28"/><circle cx="400.1" cy="390.7" r="1.28"/><circle cx="401.1" cy="391.4" r="1.28"/><circle cx="401.6" cy="391.7" r="1.28"/><circle cx="402.8" cy="391.3" r="1.28"/><circle cx="403.4" cy="391.5" r="1.28"/><circle cx="404.1" cy="391.7" r="1.28"/><circle cx="405.0" cy="391.4" r="1.28"/><circle cx="405.9" cy="392.4" r="1.28"/><circle cx="406.5" cy="393.1" r="1.28"/></g>
<polyline clip-path="url(#clipo)" points="312.19,372.95 312.31,373.05 312.43,373.13 312.56,373.21 312.68,373.29 312.80,373.36 312.93,373.44 313.05,373.51 313.17,373.57 313.30,373.64 313.42,373.70 313.55,373.76 313.67,373.82 313.79,373.88 313.92,373.93 314.04,373.98 314.16,374.03 314.29,374.08 314.41,374.13 314.53,374.18 314.66,374.22 314.78,374.27 314.91,374.31 315.03,374.35 315.15,374.39 315.28,374.43 315.40,374.46 315.52,374.50 315.65,374.53 315.77,374.57 315.89,374.60 316.02,374.64 316.14,374.67 316.26,374.70 316.39,374.73 316.51,374.76 316.64,374.80 316.76,374.83 316.88,374.86 317.01,374.89 317.17,374.93 317.92,375.13 318.68,375.35 319.44,375.58 320.20,375.81 320.96,376.03 321.71,376.25 322.47,376.46 323.23,376.67 323.99,376.88 324.74,377.08 325.50,377.27 326.26,377.47 327.02,377.65 327.77,377.84 328.53,378.02 329.29,378.20 330.05,378.38 330.80,378.56 331.56,378.73 332.32,378.90 333.08,379.07 333.83,379.24 334.59,379.41 335.35,379.57 336.11,379.74 336.86,379.90 337.62,380.06 338.38,380.21 339.14,380.37 339.89,380.52 340.65,380.68 341.41,380.83 342.17,380.98 342.93,381.12 343.68,381.27 344.44,381.41 345.20,381.56 345.96,381.70 346.71,381.83 347.47,381.97 348.23,382.11 348.99,382.24 349.74,382.37 350.50,382.50 351.26,382.62 352.02,382.75 352.77,382.87 353.53,382.99 354.29,383.10 355.05,383.22 355.80,383.33 356.56,383.44 357.32,383.55 358.08,383.65 358.83,383.76 359.59,383.87 360.35,383.97 361.11,384.08 361.86,384.18 362.62,384.29 363.38,384.40 364.14,384.50 364.90,384.61 365.65,384.72 366.41,384.83 367.17,384.94 367.93,385.05 368.68,385.17 369.44,385.28 370.20,385.40 370.96,385.52 371.71,385.65 372.47,385.77 373.23,385.89 373.99,386.02 374.74,386.14 375.50,386.26 376.26,386.39 377.02,386.52 377.77,386.64 378.53,386.77 379.29,386.90 380.05,387.03 380.80,387.16 381.56,387.29 382.32,387.42 383.08,387.56 383.83,387.69 384.59,387.83 385.35,387.96 386.11,388.10 386.87,388.24 387.62,388.38 388.38,388.53 389.14,388.67 389.90,388.82 390.65,388.96 391.41,389.11 392.17,389.27 392.93,389.42 393.68,389.57 394.44,389.73 395.20,389.89 395.96,390.05 396.71,390.22 397.47,390.38 398.23,390.55 398.99,390.72 399.74,390.89 400.50,391.06 401.26,391.24 402.02,391.42 402.77,391.59 403.53,391.77 404.29,391.95 405.05,392.14 405.80,392.32 406.56,392.51 407.32,392.69" fill="none" stroke="#ff2a1a" stroke-width="0.7"/>
<rect x="308.30" y="359.30" width="99.00" height="99.10" fill="none" stroke="#5a5a5a" stroke-width="1.1"/>
<path d="M310.90,458.40v-2M310.90,359.30v2M326.97,458.40v-2M326.97,359.30v2M343.04,458.40v-2M343.04,359.30v2M359.11,458.40v-2M359.11,359.30v2M375.18,458.40v-2M375.18,359.30v2M391.25,458.40v-2M391.25,359.30v2M308.30,450.31h1.1M407.30,450.31h-1.1M308.30,445.35h1.1M407.30,445.35h-1.1M308.30,441.82h1.1M407.30,441.82h-1.1M308.30,439.09h1.1M407.30,439.09h-1.1M308.30,436.86h1.1M407.30,436.86h-1.1M308.30,434.97h1.1M407.30,434.97h-1.1M308.30,433.33h1.1M407.30,433.33h-1.1M308.30,431.89h1.1M407.30,431.89h-1.1M308.30,430.60h2.0M407.30,430.60h-2.0M308.30,422.11h1.1M407.30,422.11h-1.1M308.30,417.15h1.1M407.30,417.15h-1.1M308.30,413.62h1.1M407.30,413.62h-1.1M308.30,410.89h1.1M407.30,410.89h-1.1M308.30,408.66h1.1M407.30,408.66h-1.1M308.30,406.77h1.1M407.30,406.77h-1.1M308.30,405.13h1.1M407.30,405.13h-1.1M308.30,403.69h1.1M407.30,403.69h-1.1M308.30,402.40h2.0M407.30,402.40h-2.0M308.30,393.91h1.1M407.30,393.91h-1.1M308.30,388.95h1.1M407.30,388.95h-1.1M308.30,385.42h1.1M407.30,385.42h-1.1M308.30,382.69h1.1M407.30,382.69h-1.1M308.30,380.46h1.1M407.30,380.46h-1.1M308.30,378.57h1.1M407.30,378.57h-1.1M308.30,376.93h1.1M407.30,376.93h-1.1M308.30,375.49h1.1M407.30,375.49h-1.1M308.30,374.20h2.0M407.30,374.20h-2.0M308.30,365.71h1.1M407.30,365.71h-1.1M308.30,360.75h1.1M407.30,360.75h-1.1" stroke="#444" stroke-width="0.7" fill="none"/>
<text x="311.40" y="467.20" text-anchor="middle" font-family="'Liberation Serif', 'Times New Roman', serif" fill="#2e2e2e" stroke="#2e2e2e" stroke-width="0.1" font-size="8.8px">0</text>
<text x="343.54" y="467.20" text-anchor="middle" font-family="'Liberation Serif', 'Times New Roman', serif" fill="#2e2e2e" stroke="#2e2e2e" stroke-width="0.1" font-size="8.8px">200</text>
<text x="375.68" y="467.20" text-anchor="middle" font-family="'Liberation Serif', 'Times New Roman', serif" fill="#2e2e2e" stroke="#2e2e2e" stroke-width="0.1" font-size="8.8px">400</text>
<text x="407.82" y="467.20" text-anchor="middle" font-family="'Liberation Serif', 'Times New Roman', serif" fill="#2e2e2e" stroke="#2e2e2e" stroke-width="0.1" font-size="8.8px">600</text>
<text x="357.85" y="475.70" text-anchor="middle" font-family="'Liberation Serif', 'Times New Roman', serif" fill="#2e2e2e" stroke="#2e2e2e" stroke-width="0.1" font-size="8.8px">Probe Delay (ps)</text>
<text x="306.40" y="377.10" text-anchor="end" font-family="'Liberation Serif', 'Times New Roman', serif" fill="#2e2e2e" stroke="#2e2e2e" stroke-width="0.1" font-size="8.5px">10<tspan dx="0.5" dy="-4.4" font-size="4.5px" letter-spacing="-0.3">-2</tspan></text>
<text x="306.40" y="405.30" text-anchor="end" font-family="'Liberation Serif', 'Times New Roman', serif" fill="#2e2e2e" stroke="#2e2e2e" stroke-width="0.1" font-size="8.5px">10<tspan dx="0.5" dy="-4.4" font-size="4.5px" letter-spacing="-0.3">-3</tspan></text>
<text x="306.40" y="433.50" text-anchor="end" font-family="'Liberation Serif', 'Times New Roman', serif" fill="#2e2e2e" stroke="#2e2e2e" stroke-width="0.1" font-size="8.5px">10<tspan dx="0.5" dy="-4.4" font-size="4.5px" letter-spacing="-0.3">-4</tspan></text>
<text x="306.40" y="461.70" text-anchor="end" font-family="'Liberation Serif', 'Times New Roman', serif" fill="#2e2e2e" stroke="#2e2e2e" stroke-width="0.1" font-size="8.5px">10<tspan dx="0.5" dy="-4.4" font-size="4.5px" letter-spacing="-0.3">-5</tspan></text>
<text transform="translate(291.50,408.35) rotate(-90)" text-anchor="middle" font-family="'Liberation Serif', 'Times New Roman', serif" fill="#2e2e2e" stroke="#2e2e2e" stroke-width="0.1" font-style="italic" font-size="8.8px"><tspan font-style="normal">&#916;</tspan>R/R<tspan dy="1.4" font-size="5.8px" font-style="normal">0</tspan></text>
<text x="406.20" y="372.00" text-anchor="end" font-family="'Liberation Sans', Arial, sans-serif" font-weight="bold" font-size="13.9px" fill="#0c0c0c" stroke="#0c0c0c" stroke-width="0.3">(o)</text>
<text x="395.30" y="447.00" text-anchor="end" font-family="'Liberation Serif', 'Times New Roman', serif" fill="#2e2e2e" stroke="#2e2e2e" stroke-width="0.1" font-size="11.1px">346 ps</text>
<rect x="441.30" y="359.40" width="99.30" height="99.00" fill="#fff"/>
<clipPath id="clipp"><rect x="441.70" y="359.40" width="98.90" height="98.70"/></clipPath>
<g clip-path="url(#clipp)" fill="#6a6ae6"><circle cx="443.8" cy="370.4" r="1.15"/><circle cx="443.8" cy="372.2" r="1.15"/><circle cx="443.8" cy="374.0" r="1.15"/><circle cx="443.6" cy="375.8" r="1.15"/><circle cx="443.5" cy="377.6" r="1.15"/><circle cx="443.4" cy="379.4" r="1.15"/><circle cx="443.6" cy="381.2" r="1.15"/><circle cx="443.6" cy="383.0" r="1.15"/><circle cx="443.6" cy="384.8" r="1.15"/><circle cx="443.6" cy="386.6" r="1.15"/><circle cx="443.6" cy="388.4" r="1.15"/><circle cx="443.6" cy="390.2" r="1.15"/><circle cx="443.7" cy="392.0" r="1.15"/><circle cx="443.7" cy="393.8" r="1.15"/><circle cx="443.7" cy="395.6" r="1.15"/><circle cx="443.6" cy="397.4" r="1.15"/><circle cx="443.5" cy="399.2" r="1.15"/><circle cx="443.8" cy="401.0" r="1.15"/><circle cx="443.5" cy="402.8" r="1.15"/><circle cx="443.5" cy="404.6" r="1.15"/><circle cx="443.4" cy="406.4" r="1.15"/><circle cx="443.8" cy="408.2" r="1.15"/><circle cx="443.4" cy="413.0" r="1.15"/><circle cx="443.5" cy="418.3" r="1.15"/><circle cx="443.4" cy="423.4" r="1.15"/><circle cx="443.5" cy="425.5" r="1.15"/><circle cx="443.5" cy="429.7" r="1.15"/><circle cx="443.8" cy="449.0" r="1.15"/><circle cx="443.5" cy="453.0" r="1.15"/><circle cx="443.8" cy="368.6" r="1.15"/><circle cx="443.9" cy="368.8" r="1.15"/><circle cx="443.6" cy="368.9" r="1.15"/><circle cx="443.9" cy="369.0" r="1.15"/><circle cx="443.8" cy="369.2" r="1.15"/><circle cx="443.9" cy="369.3" r="1.15"/><circle cx="443.9" cy="369.5" r="1.15"/><circle cx="444.0" cy="369.5" r="1.15"/><circle cx="443.8" cy="369.6" r="1.15"/><circle cx="443.8" cy="369.7" r="1.15"/><circle cx="443.8" cy="369.7" r="1.15"/><circle cx="443.9" cy="369.8" r="1.15"/><circle cx="444.1" cy="369.8" r="1.15"/><circle cx="444.2" cy="369.8" r="1.15"/><circle cx="444.1" cy="369.9" r="1.15"/><circle cx="444.0" cy="369.9" r="1.15"/><circle cx="443.9" cy="369.9" r="1.15"/><circle cx="444.1" cy="370.0" r="1.15"/><circle cx="444.1" cy="370.0" r="1.15"/><circle cx="444.2" cy="370.0" r="1.15"/><circle cx="444.1" cy="370.0" r="1.15"/><circle cx="444.3" cy="370.1" r="1.15"/><circle cx="444.2" cy="370.1" r="1.15"/><circle cx="444.4" cy="370.1" r="1.15"/><circle cx="444.1" cy="370.2" r="1.15"/><circle cx="444.2" cy="370.2" r="1.15"/><circle cx="444.3" cy="370.1" r="1.15"/><circle cx="444.4" cy="370.1" r="1.15"/><circle cx="444.4" cy="370.2" r="1.15"/><circle cx="444.2" cy="370.2" r="1.15"/><circle cx="444.5" cy="370.3" r="1.15"/><circle cx="444.5" cy="370.3" r="1.15"/><circle cx="444.5" cy="370.3" r="1.15"/><circle cx="444.3" cy="370.3" r="1.15"/><circle cx="444.7" cy="370.3" r="1.15"/><circle cx="444.7" cy="370.4" r="1.15"/><circle cx="444.7" cy="370.4" r="1.15"/><circle cx="444.5" cy="370.4" r="1.15"/><circle cx="444.6" cy="370.4" r="1.15"/><circle cx="444.7" cy="370.5" r="1.15"/><circle cx="444.9" cy="370.5" r="1.15"/><circle cx="445.0" cy="370.6" r="1.15"/><circle cx="445.2" cy="370.6" r="1.15"/><circle cx="445.4" cy="370.6" r="1.15"/><circle cx="445.5" cy="370.7" r="1.15"/><circle cx="445.5" cy="370.7" r="1.15"/><circle cx="445.9" cy="370.7" r="1.15"/><circle cx="445.7" cy="370.7" r="1.15"/><circle cx="446.0" cy="370.8" r="1.15"/><circle cx="446.1" cy="370.8" r="1.15"/><circle cx="446.3" cy="370.8" r="1.15"/><circle cx="446.5" cy="370.7" r="1.15"/><circle cx="446.8" cy="370.8" r="1.15"/><circle cx="446.8" cy="370.8" r="1.15"/><circle cx="446.9" cy="370.9" r="1.15"/><circle cx="446.9" cy="370.9" r="1.15"/><circle cx="447.2" cy="370.8" r="1.15"/><circle cx="447.2" cy="370.8" r="1.15"/><circle cx="447.5" cy="370.9" r="1.15"/><circle cx="447.7" cy="370.8" r="1.15"/><circle cx="447.7" cy="370.9" r="1.15"/><circle cx="447.8" cy="370.9" r="1.15"/><circle cx="448.0" cy="371.1" r="1.15"/><circle cx="448.0" cy="370.9" r="1.15"/><circle cx="448.3" cy="370.9" r="1.15"/><circle cx="448.6" cy="370.9" r="1.15"/><circle cx="448.8" cy="371.0" r="1.15"/><circle cx="449.1" cy="371.1" r="1.15"/><circle cx="449.4" cy="371.1" r="1.15"/><circle cx="450.0" cy="371.1" r="1.15"/><circle cx="450.4" cy="371.1" r="1.15"/><circle cx="450.8" cy="371.2" r="1.15"/><circle cx="450.8" cy="371.1" r="1.15"/><circle cx="451.3" cy="371.2" r="1.15"/><circle cx="451.7" cy="371.1" r="1.15"/><circle cx="452.2" cy="371.1" r="1.15"/><circle cx="452.6" cy="371.2" r="1.15"/><circle cx="452.7" cy="371.2" r="1.15"/><circle cx="453.0" cy="371.1" r="1.15"/><circle cx="453.3" cy="371.2" r="1.15"/><circle cx="453.9" cy="371.2" r="1.15"/><circle cx="454.1" cy="371.1" r="1.15"/><circle cx="454.4" cy="371.2" r="1.15"/><circle cx="454.8" cy="371.2" r="1.15"/><circle cx="455.3" cy="371.3" r="1.15"/><circle cx="455.8" cy="371.2" r="1.15"/><circle cx="456.1" cy="371.3" r="1.15"/><circle cx="456.2" cy="371.3" r="1.15"/><circle cx="456.9" cy="371.3" r="1.15"/><circle cx="457.2" cy="371.3" r="1.15"/><circle cx="457.3" cy="371.4" r="1.15"/><circle cx="457.8" cy="371.3" r="1.15"/><circle cx="458.2" cy="371.4" r="1.15"/><circle cx="458.5" cy="371.3" r="1.15"/><circle cx="459.0" cy="371.2" r="1.15"/><circle cx="459.2" cy="371.4" r="1.15"/><circle cx="459.6" cy="371.4" r="1.15"/><circle cx="460.0" cy="371.4" r="1.15"/><circle cx="460.3" cy="371.6" r="1.15"/><circle cx="460.6" cy="371.4" r="1.15"/><circle cx="461.1" cy="371.4" r="1.15"/><circle cx="461.4" cy="371.4" r="1.15"/><circle cx="461.7" cy="371.5" r="1.15"/><circle cx="462.1" cy="371.5" r="1.15"/><circle cx="462.3" cy="371.6" r="1.15"/><circle cx="462.7" cy="371.3" r="1.15"/><circle cx="462.9" cy="371.7" r="1.15"/><circle cx="463.7" cy="371.6" r="1.15"/><circle cx="464.9" cy="371.6" r="1.15"/><circle cx="465.4" cy="371.9" r="1.15"/><circle cx="466.3" cy="371.6" r="1.15"/><circle cx="467.0" cy="371.7" r="1.15"/><circle cx="468.0" cy="371.9" r="1.15"/><circle cx="468.8" cy="372.0" r="1.15"/><circle cx="469.4" cy="371.9" r="1.15"/><circle cx="470.5" cy="371.9" r="1.15"/><circle cx="471.0" cy="372.0" r="1.15"/><circle cx="472.0" cy="372.2" r="1.15"/><circle cx="472.7" cy="372.4" r="1.15"/><circle cx="473.6" cy="372.3" r="1.15"/><circle cx="474.6" cy="372.3" r="1.15"/><circle cx="475.3" cy="372.2" r="1.15"/><circle cx="476.1" cy="372.4" r="1.15"/><circle cx="477.0" cy="372.4" r="1.15"/><circle cx="477.5" cy="372.6" r="1.15"/><circle cx="478.4" cy="372.3" r="1.15"/><circle cx="479.2" cy="372.7" r="1.15"/><circle cx="479.9" cy="372.8" r="1.15"/><circle cx="480.7" cy="372.9" r="1.15"/><circle cx="481.9" cy="373.0" r="1.15"/><circle cx="482.4" cy="373.3" r="1.15"/><circle cx="483.3" cy="373.0" r="1.15"/><circle cx="484.1" cy="373.3" r="1.15"/><circle cx="484.9" cy="373.3" r="1.15"/><circle cx="485.6" cy="373.4" r="1.15"/><circle cx="486.5" cy="373.3" r="1.15"/><circle cx="487.5" cy="373.4" r="1.15"/><circle cx="488.2" cy="373.4" r="1.15"/><circle cx="489.1" cy="373.2" r="1.15"/><circle cx="489.6" cy="373.4" r="1.15"/><circle cx="490.5" cy="373.5" r="1.15"/><circle cx="491.6" cy="373.7" r="1.15"/><circle cx="492.4" cy="373.7" r="1.15"/><circle cx="492.9" cy="373.7" r="1.15"/><circle cx="493.9" cy="373.8" r="1.15"/><circle cx="494.8" cy="373.7" r="1.15"/><circle cx="495.3" cy="373.6" r="1.15"/><circle cx="496.4" cy="373.6" r="1.15"/><circle cx="496.9" cy="373.6" r="1.15"/><circle cx="497.7" cy="373.4" r="1.15"/><circle cx="498.8" cy="374.0" r="1.15"/><circle cx="499.3" cy="374.5" r="1.15"/><circle cx="500.2" cy="374.1" r="1.15"/><circle cx="501.0" cy="374.2" r="1.15"/><circle cx="502.0" cy="374.4" r="1.15"/><circle cx="502.6" cy="374.4" r="1.15"/><circle cx="503.7" cy="374.5" r="1.15"/><circle cx="504.4" cy="374.2" r="1.15"/><circle cx="505.3" cy="374.2" r="1.15"/><circle cx="505.9" cy="374.3" r="1.15"/><circle cx="506.6" cy="374.4" r="1.15"/><circle cx="507.5" cy="374.1" r="1.15"/><circle cx="508.2" cy="374.1" r="1.15"/><circle cx="509.4" cy="374.3" r="1.15"/><circle cx="509.9" cy="374.4" r="1.15"/><circle cx="511.0" cy="374.2" r="1.15"/><circle cx="511.6" cy="374.9" r="1.15"/><circle cx="512.5" cy="374.7" r="1.15"/><circle cx="513.4" cy="374.5" r="1.15"/><circle cx="514.0" cy="374.3" r="1.15"/><circle cx="514.9" cy="374.3" r="1.15"/><circle cx="515.7" cy="374.5" r="1.15"/><circle cx="516.4" cy="374.3" r="1.15"/><circle cx="517.3" cy="374.8" r="1.15"/><circle cx="517.9" cy="374.4" r="1.15"/><circle cx="518.9" cy="374.2" r="1.15"/><circle cx="519.6" cy="374.2" r="1.15"/><circle cx="520.5" cy="374.3" r="1.15"/><circle cx="521.5" cy="375.1" r="1.15"/><circle cx="521.9" cy="375.1" r="1.15"/><circle cx="523.1" cy="374.9" r="1.15"/><circle cx="523.9" cy="374.4" r="1.15"/><circle cx="524.4" cy="374.9" r="1.15"/><circle cx="525.3" cy="374.8" r="1.15"/><circle cx="526.3" cy="374.6" r="1.15"/><circle cx="526.9" cy="374.6" r="1.15"/><circle cx="527.9" cy="374.9" r="1.15"/><circle cx="528.8" cy="375.1" r="1.15"/><circle cx="529.2" cy="375.3" r="1.15"/><circle cx="530.3" cy="374.8" r="1.15"/><circle cx="530.9" cy="375.2" r="1.15"/><circle cx="531.7" cy="374.9" r="1.15"/><circle cx="532.6" cy="374.9" r="1.15"/><circle cx="533.3" cy="375.0" r="1.15"/><circle cx="534.3" cy="375.0" r="1.15"/><circle cx="535.1" cy="374.9" r="1.15"/><circle cx="536.0" cy="375.1" r="1.15"/><circle cx="536.8" cy="374.8" r="1.15"/><circle cx="537.7" cy="375.1" r="1.15"/><circle cx="538.2" cy="375.2" r="1.15"/><circle cx="539.1" cy="375.3" r="1.15"/><circle cx="539.7" cy="374.9" r="1.15"/></g><g clip-path="url(#clipp)" fill="none" stroke="#1a1af8" stroke-width="0.8"><circle cx="443.8" cy="370.4" r="1.28"/><circle cx="443.8" cy="372.2" r="1.28"/><circle cx="443.8" cy="374.0" r="1.28"/><circle cx="443.6" cy="375.8" r="1.28"/><circle cx="443.5" cy="377.6" r="1.28"/><circle cx="443.4" cy="379.4" r="1.28"/><circle cx="443.6" cy="381.2" r="1.28"/><circle cx="443.6" cy="383.0" r="1.28"/><circle cx="443.6" cy="384.8" r="1.28"/><circle cx="443.6" cy="386.6" r="1.28"/><circle cx="443.6" cy="388.4" r="1.28"/><circle cx="443.6" cy="390.2" r="1.28"/><circle cx="443.7" cy="392.0" r="1.28"/><circle cx="443.7" cy="393.8" r="1.28"/><circle cx="443.7" cy="395.6" r="1.28"/><circle cx="443.6" cy="397.4" r="1.28"/><circle cx="443.5" cy="399.2" r="1.28"/><circle cx="443.8" cy="401.0" r="1.28"/><circle cx="443.5" cy="402.8" r="1.28"/><circle cx="443.5" cy="404.6" r="1.28"/><circle cx="443.4" cy="406.4" r="1.28"/><circle cx="443.8" cy="408.2" r="1.28"/><circle cx="443.4" cy="413.0" r="1.28"/><circle cx="443.5" cy="418.3" r="1.28"/><circle cx="443.4" cy="423.4" r="1.28"/><circle cx="443.5" cy="425.5" r="1.28"/><circle cx="443.5" cy="429.7" r="1.28"/><circle cx="443.8" cy="449.0" r="1.28"/><circle cx="443.5" cy="453.0" r="1.28"/><circle cx="443.8" cy="368.6" r="1.28"/><circle cx="443.9" cy="368.8" r="1.28"/><circle cx="443.6" cy="368.9" r="1.28"/><circle cx="443.9" cy="369.0" r="1.28"/><circle cx="443.8" cy="369.2" r="1.28"/><circle cx="443.9" cy="369.3" r="1.28"/><circle cx="443.9" cy="369.5" r="1.28"/><circle cx="444.0" cy="369.5" r="1.28"/><circle cx="443.8" cy="369.6" r="1.28"/><circle cx="443.8" cy="369.7" r="1.28"/><circle cx="443.8" cy="369.7" r="1.28"/><circle cx="443.9" cy="369.8" r="1.28"/><circle cx="444.1" cy="369.8" r="1.28"/><circle cx="444.2" cy="369.8" r="1.28"/><circle cx="444.1" cy="369.9" r="1.28"/><circle cx="444.0" cy="369.9" r="1.28"/><circle cx="443.9" cy="369.9" r="1.28"/><circle cx="444.1" cy="370.0" r="1.28"/><circle cx="444.1" cy="370.0" r="1.28"/><circle cx="444.2" cy="370.0" r="1.28"/><circle cx="444.1" cy="370.0" r="1.28"/><circle cx="444.3" cy="370.1" r="1.28"/><circle cx="444.2" cy="370.1" r="1.28"/><circle cx="444.4" cy="370.1" r="1.28"/><circle cx="444.1" cy="370.2" r="1.28"/><circle cx="444.2" cy="370.2" r="1.28"/><circle cx="444.3" cy="370.1" r="1.28"/><circle cx="444.4" cy="370.1" r="1.28"/><circle cx="444.4" cy="370.2" r="1.28"/><circle cx="444.2" cy="370.2" r="1.28"/><circle cx="444.5" cy="370.3" r="1.28"/><circle cx="444.5" cy="370.3" r="1.28"/><circle cx="444.5" cy="370.3" r="1.28"/><circle cx="444.3" cy="370.3" r="1.28"/><circle cx="444.7" cy="370.3" r="1.28"/><circle cx="444.7" cy="370.4" r="1.28"/><circle cx="444.7" cy="370.4" r="1.28"/><circle cx="444.5" cy="370.4" r="1.28"/><circle cx="444.6" cy="370.4" r="1.28"/><circle cx="444.7" cy="370.5" r="1.28"/><circle cx="444.9" cy="370.5" r="1.28"/><circle cx="445.0" cy="370.6" r="1.28"/><circle cx="445.2" cy="370.6" r="1.28"/><circle cx="445.4" cy="370.6" r="1.28"/><circle cx="445.5" cy="370.7" r="1.28"/><circle cx="445.5" cy="370.7" r="1.28"/><circle cx="445.9" cy="370.7" r="1.28"/><circle cx="445.7" cy="370.7" r="1.28"/><circle cx="446.0" cy="370.8" r="1.28"/><circle cx="446.1" cy="370.8" r="1.28"/><circle cx="446.3" cy="370.8" r="1.28"/><circle cx="446.5" cy="370.7" r="1.28"/><circle cx="446.8" cy="370.8" r="1.28"/><circle cx="446.8" cy="370.8" r="1.28"/><circle cx="446.9" cy="370.9" r="1.28"/><circle cx="446.9" cy="370.9" r="1.28"/><circle cx="447.2" cy="370.8" r="1.28"/><circle cx="447.2" cy="370.8" r="1.28"/><circle cx="447.5" cy="370.9" r="1.28"/><circle cx="447.7" cy="370.8" r="1.28"/><circle cx="447.7" cy="370.9" r="1.28"/><circle cx="447.8" cy="370.9" r="1.28"/><circle cx="448.0" cy="371.1" r="1.28"/><circle cx="448.0" cy="370.9" r="1.28"/><circle cx="448.3" cy="370.9" r="1.28"/><circle cx="448.6" cy="370.9" r="1.28"/><circle cx="448.8" cy="371.0" r="1.28"/><circle cx="449.1" cy="371.1" r="1.28"/><circle cx="449.4" cy="371.1" r="1.28"/><circle cx="450.0" cy="371.1" r="1.28"/><circle cx="450.4" cy="371.1" r="1.28"/><circle cx="450.8" cy="371.2" r="1.28"/><circle cx="450.8" cy="371.1" r="1.28"/><circle cx="451.3" cy="371.2" r="1.28"/><circle cx="451.7" cy="371.1" r="1.28"/><circle cx="452.2" cy="371.1" r="1.28"/><circle cx="452.6" cy="371.2" r="1.28"/><circle cx="452.7" cy="371.2" r="1.28"/><circle cx="453.0" cy="371.1" r="1.28"/><circle cx="453.3" cy="371.2" r="1.28"/><circle cx="453.9" cy="371.2" r="1.28"/><circle cx="454.1" cy="371.1" r="1.28"/><circle cx="454.4" cy="371.2" r="1.28"/><circle cx="454.8" cy="371.2" r="1.28"/><circle cx="455.3" cy="371.3" r="1.28"/><circle cx="455.8" cy="371.2" r="1.28"/><circle cx="456.1" cy="371.3" r="1.28"/><circle cx="456.2" cy="371.3" r="1.28"/><circle cx="456.9" cy="371.3" r="1.28"/><circle cx="457.2" cy="371.3" r="1.28"/><circle cx="457.3" cy="371.4" r="1.28"/><circle cx="457.8" cy="371.3" r="1.28"/><circle cx="458.2" cy="371.4" r="1.28"/><circle cx="458.5" cy="371.3" r="1.28"/><circle cx="459.0" cy="371.2" r="1.28"/><circle cx="459.2" cy="371.4" r="1.28"/><circle cx="459.6" cy="371.4" r="1.28"/><circle cx="460.0" cy="371.4" r="1.28"/><circle cx="460.3" cy="371.6" r="1.28"/><circle cx="460.6" cy="371.4" r="1.28"/><circle cx="461.1" cy="371.4" r="1.28"/><circle cx="461.4" cy="371.4" r="1.28"/><circle cx="461.7" cy="371.5" r="1.28"/><circle cx="462.1" cy="371.5" r="1.28"/><circle cx="462.3" cy="371.6" r="1.28"/><circle cx="462.7" cy="371.3" r="1.28"/><circle cx="462.9" cy="371.7" r="1.28"/><circle cx="463.7" cy="371.6" r="1.28"/><circle cx="464.9" cy="371.6" r="1.28"/><circle cx="465.4" cy="371.9" r="1.28"/><circle cx="466.3" cy="371.6" r="1.28"/><circle cx="467.0" cy="371.7" r="1.28"/><circle cx="468.0" cy="371.9" r="1.28"/><circle cx="468.8" cy="372.0" r="1.28"/><circle cx="469.4" cy="371.9" r="1.28"/><circle cx="470.5" cy="371.9" r="1.28"/><circle cx="471.0" cy="372.0" r="1.28"/><circle cx="472.0" cy="372.2" r="1.28"/><circle cx="472.7" cy="372.4" r="1.28"/><circle cx="473.6" cy="372.3" r="1.28"/><circle cx="474.6" cy="372.3" r="1.28"/><circle cx="475.3" cy="372.2" r="1.28"/><circle cx="476.1" cy="372.4" r="1.28"/><circle cx="477.0" cy="372.4" r="1.28"/><circle cx="477.5" cy="372.6" r="1.28"/><circle cx="478.4" cy="372.3" r="1.28"/><circle cx="479.2" cy="372.7" r="1.28"/><circle cx="479.9" cy="372.8" r="1.28"/><circle cx="480.7" cy="372.9" r="1.28"/><circle cx="481.9" cy="373.0" r="1.28"/><circle cx="482.4" cy="373.3" r="1.28"/><circle cx="483.3" cy="373.0" r="1.28"/><circle cx="484.1" cy="373.3" r="1.28"/><circle cx="484.9" cy="373.3" r="1.28"/><circle cx="485.6" cy="373.4" r="1.28"/><circle cx="486.5" cy="373.3" r="1.28"/><circle cx="487.5" cy="373.4" r="1.28"/><circle cx="488.2" cy="373.4" r="1.28"/><circle cx="489.1" cy="373.2" r="1.28"/><circle cx="489.6" cy="373.4" r="1.28"/><circle cx="490.5" cy="373.5" r="1.28"/><circle cx="491.6" cy="373.7" r="1.28"/><circle cx="492.4" cy="373.7" r="1.28"/><circle cx="492.9" cy="373.7" r="1.28"/><circle cx="493.9" cy="373.8" r="1.28"/><circle cx="494.8" cy="373.7" r="1.28"/><circle cx="495.3" cy="373.6" r="1.28"/><circle cx="496.4" cy="373.6" r="1.28"/><circle cx="496.9" cy="373.6" r="1.28"/><circle cx="497.7" cy="373.4" r="1.28"/><circle cx="498.8" cy="374.0" r="1.28"/><circle cx="499.3" cy="374.5" r="1.28"/><circle cx="500.2" cy="374.1" r="1.28"/><circle cx="501.0" cy="374.2" r="1.28"/><circle cx="502.0" cy="374.4" r="1.28"/><circle cx="502.6" cy="374.4" r="1.28"/><circle cx="503.7" cy="374.5" r="1.28"/><circle cx="504.4" cy="374.2" r="1.28"/><circle cx="505.3" cy="374.2" r="1.28"/><circle cx="505.9" cy="374.3" r="1.28"/><circle cx="506.6" cy="374.4" r="1.28"/><circle cx="507.5" cy="374.1" r="1.28"/><circle cx="508.2" cy="374.1" r="1.28"/><circle cx="509.4" cy="374.3" r="1.28"/><circle cx="509.9" cy="374.4" r="1.28"/><circle cx="511.0" cy="374.2" r="1.28"/><circle cx="511.6" cy="374.9" r="1.28"/><circle cx="512.5" cy="374.7" r="1.28"/><circle cx="513.4" cy="374.5" r="1.28"/><circle cx="514.0" cy="374.3" r="1.28"/><circle cx="514.9" cy="374.3" r="1.28"/><circle cx="515.7" cy="374.5" r="1.28"/><circle cx="516.4" cy="374.3" r="1.28"/><circle cx="517.3" cy="374.8" r="1.28"/><circle cx="517.9" cy="374.4" r="1.28"/><circle cx="518.9" cy="374.2" r="1.28"/><circle cx="519.6" cy="374.2" r="1.28"/><circle cx="520.5" cy="374.3" r="1.28"/><circle cx="521.5" cy="375.1" r="1.28"/><circle cx="521.9" cy="375.1" r="1.28"/><circle cx="523.1" cy="374.9" r="1.28"/><circle cx="523.9" cy="374.4" r="1.28"/><circle cx="524.4" cy="374.9" r="1.28"/><circle cx="525.3" cy="374.8" r="1.28"/><circle cx="526.3" cy="374.6" r="1.28"/><circle cx="526.9" cy="374.6" r="1.28"/><circle cx="527.9" cy="374.9" r="1.28"/><circle cx="528.8" cy="375.1" r="1.28"/><circle cx="529.2" cy="375.3" r="1.28"/><circle cx="530.3" cy="374.8" r="1.28"/><circle cx="530.9" cy="375.2" r="1.28"/><circle cx="531.7" cy="374.9" r="1.28"/><circle cx="532.6" cy="374.9" r="1.28"/><circle cx="533.3" cy="375.0" r="1.28"/><circle cx="534.3" cy="375.0" r="1.28"/><circle cx="535.1" cy="374.9" r="1.28"/><circle cx="536.0" cy="375.1" r="1.28"/><circle cx="536.8" cy="374.8" r="1.28"/><circle cx="537.7" cy="375.1" r="1.28"/><circle cx="538.2" cy="375.2" r="1.28"/><circle cx="539.1" cy="375.3" r="1.28"/><circle cx="539.7" cy="374.9" r="1.28"/></g>
<polyline clip-path="url(#clipp)" points="445.22,370.64 445.34,370.67 445.47,370.69 445.59,370.70 445.71,370.72 445.84,370.73 445.96,370.74 446.09,370.76 446.21,370.77 446.34,370.78 446.46,370.80 446.59,370.81 446.71,370.82 446.83,370.83 446.96,370.85 447.08,370.86 447.21,370.87 447.33,370.88 447.46,370.89 447.58,370.90 447.70,370.91 447.83,370.92 447.95,370.93 448.08,370.94 448.20,370.95 448.33,370.96 448.45,370.97 448.58,370.98 448.70,370.99 448.82,371.00 448.95,371.01 449.07,371.02 449.20,371.02 449.32,371.03 449.45,371.04 449.57,371.05 449.69,371.05 449.82,371.06 449.94,371.07 450.07,371.08 450.23,371.08 450.99,371.12 451.75,371.16 452.51,371.19 453.27,371.21 454.03,371.23 454.79,371.26 455.55,371.28 456.31,371.30 457.07,371.32 457.83,371.34 458.59,371.36 459.34,371.39 460.10,371.42 460.86,371.46 461.62,371.50 462.38,371.54 463.14,371.59 463.90,371.63 464.66,371.68 465.42,371.72 466.18,371.77 466.94,371.81 467.70,371.86 468.46,371.91 469.22,371.96 469.98,372.01 470.74,372.06 471.50,372.12 472.26,372.17 473.02,372.23 473.78,372.28 474.54,372.34 475.30,372.40 476.06,372.46 476.82,372.52 477.57,372.59 478.33,372.67 479.09,372.75 479.85,372.83 480.61,372.91 481.37,372.99 482.13,373.05 482.89,373.11 483.65,373.16 484.41,373.22 485.17,373.27 485.93,373.32 486.69,373.37 487.45,373.42 488.21,373.46 488.97,373.51 489.73,373.55 490.49,373.60 491.25,373.64 492.01,373.68 492.77,373.72 493.53,373.76 494.29,373.80 495.05,373.83 495.80,373.87 496.56,373.91 497.32,373.94 498.08,373.98 498.84,374.01 499.60,374.04 500.36,374.07 501.12,374.10 501.88,374.13 502.64,374.16 503.40,374.19 504.16,374.22 504.92,374.25 505.68,374.27 506.44,374.30 507.20,374.33 507.96,374.35 508.72,374.38 509.48,374.40 510.24,374.42 511.00,374.45 511.76,374.47 512.52,374.49 513.28,374.51 514.03,374.53 514.79,374.55 515.55,374.57 516.31,374.59 517.07,374.61 517.83,374.63 518.59,374.65 519.35,374.67 520.11,374.69 520.87,374.71 521.63,374.73 522.39,374.75 523.15,374.77 523.91,374.79 524.67,374.80 525.43,374.82 526.19,374.84 526.95,374.86 527.71,374.88 528.47,374.89 529.23,374.91 529.99,374.93 530.75,374.95 531.51,374.96 532.26,374.98 533.02,375.00 533.78,375.01 534.54,375.03 535.30,375.05 536.06,375.06 536.82,375.08 537.58,375.09 538.34,375.11 539.10,375.12 539.86,375.14 540.62,375.15" fill="none" stroke="#ff2a1a" stroke-width="0.7"/>
<rect x="441.30" y="359.40" width="99.30" height="99.00" fill="none" stroke="#5a5a5a" stroke-width="1.1"/>
<path d="M443.60,458.40v-2M443.60,359.40v2M459.77,458.40v-2M459.77,359.40v2M475.94,458.40v-2M475.94,359.40v2M492.11,458.40v-2M492.11,359.40v2M508.28,458.40v-2M508.28,359.40v2M524.45,458.40v-2M524.45,359.40v2M441.30,449.90h1.1M540.60,449.90h-1.1M441.30,444.63h1.1M540.60,444.63h-1.1M441.30,440.90h1.1M540.60,440.90h-1.1M441.30,438.00h1.1M540.60,438.00h-1.1M441.30,435.63h1.1M540.60,435.63h-1.1M441.30,433.63h1.1M540.60,433.63h-1.1M441.30,431.90h1.1M540.60,431.90h-1.1M441.30,430.37h1.1M540.60,430.37h-1.1M441.30,429.00h2.0M540.60,429.00h-2.0M441.30,420.00h1.1M540.60,420.00h-1.1M441.30,414.73h1.1M540.60,414.73h-1.1M441.30,411.00h1.1M540.60,411.00h-1.1M441.30,408.10h1.1M540.60,408.10h-1.1M441.30,405.73h1.1M540.60,405.73h-1.1M441.30,403.73h1.1M540.60,403.73h-1.1M441.30,402.00h1.1M540.60,402.00h-1.1M441.30,400.47h1.1M540.60,400.47h-1.1M441.30,399.10h2.0M540.60,399.10h-2.0M441.30,390.10h1.1M540.60,390.10h-1.1M441.30,384.83h1.1M540.60,384.83h-1.1M441.30,381.10h1.1M540.60,381.10h-1.1M441.30,378.20h1.1M540.60,378.20h-1.1M441.30,375.83h1.1M540.60,375.83h-1.1M441.30,373.83h1.1M540.60,373.83h-1.1M441.30,372.10h1.1M540.60,372.10h-1.1M441.30,370.57h1.1M540.60,370.57h-1.1M441.30,369.20h2.0M540.60,369.20h-2.0M441.30,360.20h1.1M540.60,360.20h-1.1" stroke="#444" stroke-width="0.7" fill="none"/>
<text x="444.10" y="467.20" text-anchor="middle" font-family="'Liberation Serif', 'Times New Roman', serif" fill="#2e2e2e" stroke="#2e2e2e" stroke-width="0.1" font-size="8.8px">0</text>
<text x="476.44" y="467.20" text-anchor="middle" font-family="'Liberation Serif', 'Times New Roman', serif" fill="#2e2e2e" stroke="#2e2e2e" stroke-width="0.1" font-size="8.8px">200</text>
<text x="508.78" y="467.20" text-anchor="middle" font-family="'Liberation Serif', 'Times New Roman', serif" fill="#2e2e2e" stroke="#2e2e2e" stroke-width="0.1" font-size="8.8px">400</text>
<text x="541.12" y="467.20" text-anchor="middle" font-family="'Liberation Serif', 'Times New Roman', serif" fill="#2e2e2e" stroke="#2e2e2e" stroke-width="0.1" font-size="8.8px">600</text>
<text x="490.95" y="476.20" text-anchor="middle" font-family="'Liberation Serif', 'Times New Roman', serif" fill="#2e2e2e" stroke="#2e2e2e" stroke-width="0.1" font-size="8.8px">Probe Delay (ps)</text>
<text x="439.40" y="372.10" text-anchor="end" font-family="'Liberation Serif', 'Times New Roman', serif" fill="#2e2e2e" stroke="#2e2e2e" stroke-width="0.1" font-size="8.5px">10<tspan dx="0.5" dy="-4.4" font-size="4.5px" letter-spacing="-0.3">-2</tspan></text>
<text x="439.40" y="402.00" text-anchor="end" font-family="'Liberation Serif', 'Times New Roman', serif" fill="#2e2e2e" stroke="#2e2e2e" stroke-width="0.1" font-size="8.5px">10<tspan dx="0.5" dy="-4.4" font-size="4.5px" letter-spacing="-0.3">-3</tspan></text>
<text x="439.40" y="431.90" text-anchor="end" font-family="'Liberation Serif', 'Times New Roman', serif" fill="#2e2e2e" stroke="#2e2e2e" stroke-width="0.1" font-size="8.5px">10<tspan dx="0.5" dy="-4.4" font-size="4.5px" letter-spacing="-0.3">-4</tspan></text>
<text x="439.40" y="461.80" text-anchor="end" font-family="'Liberation Serif', 'Times New Roman', serif" fill="#2e2e2e" stroke="#2e2e2e" stroke-width="0.1" font-size="8.5px">10<tspan dx="0.5" dy="-4.4" font-size="4.5px" letter-spacing="-0.3">-5</tspan></text>
<text transform="translate(424.50,409.60) rotate(-90)" text-anchor="middle" font-family="'Liberation Serif', 'Times New Roman', serif" fill="#2e2e2e" stroke="#2e2e2e" stroke-width="0.1" font-style="italic" font-size="8.8px"><tspan font-style="normal">&#916;</tspan>R/R<tspan dy="1.4" font-size="5.8px" font-style="normal">0</tspan></text>
<text x="539.90" y="372.10" text-anchor="end" font-family="'Liberation Sans', Arial, sans-serif" font-weight="bold" font-size="13.9px" fill="#0c0c0c" stroke="#0c0c0c" stroke-width="0.3">(p)</text>
<text x="528.30" y="447.00" text-anchor="end" font-family="'Liberation Serif', 'Times New Roman', serif" fill="#2e2e2e" stroke="#2e2e2e" stroke-width="0.1" font-size="11.1px">2.3 ns</text>
</g>
</svg>
</body></html>
